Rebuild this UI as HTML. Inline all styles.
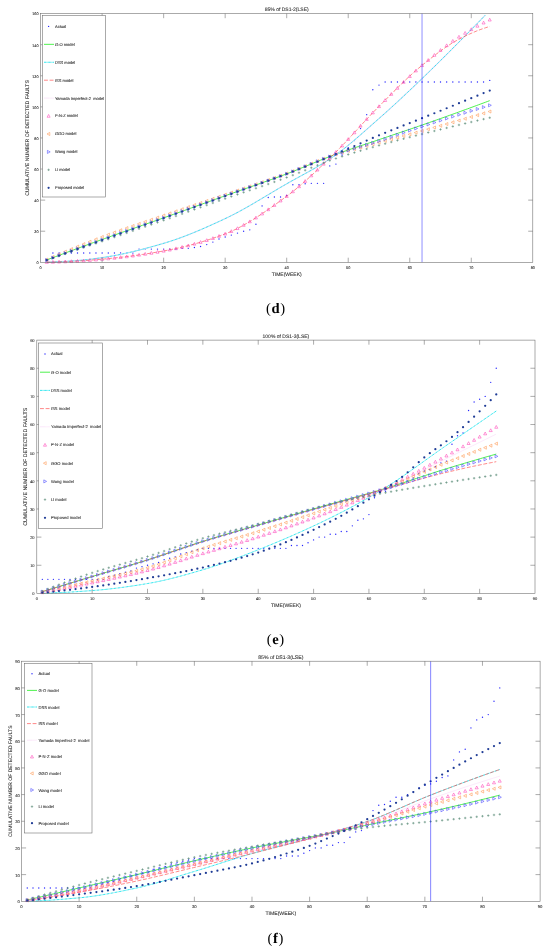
<!DOCTYPE html>
<html lang="en"><head><meta charset="utf-8"><title>Figure</title>
<style>html,body{margin:0;padding:0;background:#fff}svg{display:block;text-rendering:geometricPrecision}text{white-space:pre;font-family:"Liberation Sans",Arial,sans-serif;fill:#303030;stroke:#303030;stroke-width:.09px}text.cap{font-family:"Liberation Serif","Times New Roman",serif;fill:#000;stroke:none}</style></head>
<body>
<svg width="550" height="952" viewBox="0 0 550 952">
<rect width="550" height="952" fill="#fff"/>
<g><circle cx="52.91" cy="252.97" r="0.68" fill="#2626ff"/><circle cx="59.06" cy="252.97" r="0.68" fill="#2626ff"/><circle cx="65.21" cy="252.97" r="0.68" fill="#2626ff"/><circle cx="71.36" cy="252.97" r="0.68" fill="#2626ff"/><circle cx="77.52" cy="252.97" r="0.68" fill="#2626ff"/><circle cx="83.67" cy="252.97" r="0.68" fill="#2626ff"/><circle cx="89.82" cy="252.97" r="0.68" fill="#2626ff"/><circle cx="95.97" cy="252.97" r="0.68" fill="#2626ff"/><circle cx="102.12" cy="252.97" r="0.68" fill="#2626ff"/><circle cx="108.28" cy="252.97" r="0.68" fill="#2626ff"/><circle cx="114.43" cy="252.97" r="0.68" fill="#2626ff"/><circle cx="120.58" cy="252.97" r="0.68" fill="#2626ff"/><circle cx="126.73" cy="252.97" r="0.68" fill="#2626ff"/><circle cx="132.89" cy="252.97" r="0.68" fill="#2626ff"/><circle cx="139.04" cy="249.09" r="0.68" fill="#2626ff"/><circle cx="145.19" cy="249.09" r="0.68" fill="#2626ff"/><circle cx="151.34" cy="249.09" r="0.68" fill="#2626ff"/><circle cx="157.5" cy="249.09" r="0.68" fill="#2626ff"/><circle cx="163.65" cy="249.09" r="0.68" fill="#2626ff"/><circle cx="169.8" cy="249.09" r="0.68" fill="#2626ff"/><circle cx="175.95" cy="249.09" r="0.68" fill="#2626ff"/><circle cx="182.11" cy="248.31" r="0.68" fill="#2626ff"/><circle cx="188.26" cy="248.31" r="0.68" fill="#2626ff"/><circle cx="194.41" cy="247.53" r="0.68" fill="#2626ff"/><circle cx="200.56" cy="246.45" r="0.68" fill="#2626ff"/><circle cx="206.72" cy="244.58" r="0.68" fill="#2626ff"/><circle cx="212.87" cy="242.09" r="0.68" fill="#2626ff"/><circle cx="219.02" cy="238.98" r="0.68" fill="#2626ff"/><circle cx="225.17" cy="236.96" r="0.68" fill="#2626ff"/><circle cx="231.33" cy="235.1" r="0.68" fill="#2626ff"/><circle cx="237.48" cy="233.08" r="0.68" fill="#2626ff"/><circle cx="243.63" cy="231.21" r="0.68" fill="#2626ff"/><circle cx="249.78" cy="229.81" r="0.68" fill="#2626ff"/><circle cx="255.94" cy="224.22" r="0.68" fill="#2626ff"/><circle cx="262.09" cy="205.88" r="0.68" fill="#2626ff"/><circle cx="268.24" cy="197.48" r="0.68" fill="#2626ff"/><circle cx="274.39" cy="197.02" r="0.68" fill="#2626ff"/><circle cx="280.55" cy="197.02" r="0.68" fill="#2626ff"/><circle cx="286.7" cy="195.46" r="0.68" fill="#2626ff"/><circle cx="292.85" cy="184.74" r="0.68" fill="#2626ff"/><circle cx="299" cy="184.58" r="0.68" fill="#2626ff"/><circle cx="305.16" cy="183.8" r="0.68" fill="#2626ff"/><circle cx="311.31" cy="183.34" r="0.68" fill="#2626ff"/><circle cx="317.46" cy="183.34" r="0.68" fill="#2626ff"/><circle cx="323.62" cy="183.34" r="0.68" fill="#2626ff"/><circle cx="329.77" cy="165.93" r="0.68" fill="#2626ff"/><circle cx="335.92" cy="164.06" r="0.68" fill="#2626ff"/><circle cx="342.07" cy="155.05" r="0.68" fill="#2626ff"/><circle cx="348.22" cy="147.74" r="0.68" fill="#2626ff"/><circle cx="354.38" cy="140.59" r="0.68" fill="#2626ff"/><circle cx="360.53" cy="128.62" r="0.68" fill="#2626ff"/><circle cx="366.68" cy="114.63" r="0.68" fill="#2626ff"/><circle cx="372.83" cy="89.76" r="0.68" fill="#2626ff"/><circle cx="378.99" cy="85.1" r="0.68" fill="#2626ff"/><circle cx="385.14" cy="81.99" r="0.68" fill="#2626ff"/><circle cx="391.29" cy="81.99" r="0.68" fill="#2626ff"/><circle cx="397.44" cy="81.99" r="0.68" fill="#2626ff"/><circle cx="403.6" cy="81.99" r="0.68" fill="#2626ff"/><circle cx="409.75" cy="81.99" r="0.68" fill="#2626ff"/><circle cx="415.9" cy="81.99" r="0.68" fill="#2626ff"/><circle cx="422.05" cy="81.99" r="0.68" fill="#2626ff"/><circle cx="428.21" cy="81.99" r="0.68" fill="#2626ff"/><circle cx="434.36" cy="81.99" r="0.68" fill="#2626ff"/><circle cx="440.51" cy="81.99" r="0.68" fill="#2626ff"/><circle cx="446.66" cy="81.99" r="0.68" fill="#2626ff"/><circle cx="452.82" cy="81.99" r="0.68" fill="#2626ff"/><circle cx="458.97" cy="81.99" r="0.68" fill="#2626ff"/><circle cx="465.12" cy="81.99" r="0.68" fill="#2626ff"/><circle cx="471.27" cy="81.99" r="0.68" fill="#2626ff"/><circle cx="477.43" cy="81.99" r="0.68" fill="#2626ff"/><circle cx="483.58" cy="81.99" r="0.68" fill="#2626ff"/><circle cx="489.73" cy="80.44" r="0.68" fill="#2626ff"/></g>
<path d="M46.75 259.96 L48.98 259.11 L51.2 258.27 L53.43 257.43 L55.66 256.59 L57.88 255.75 L60.11 254.92 L62.33 254.08 L64.56 253.25 L66.79 252.42 L69.01 251.59 L71.24 250.76 L73.46 249.94 L75.69 249.11 L77.92 248.29 L80.14 247.47 L82.37 246.65 L84.6 245.83 L86.82 245.02 L89.05 244.2 L91.27 243.39 L93.5 242.58 L95.73 241.77 L97.95 240.96 L100.18 240.15 L102.4 239.35 L104.63 238.55 L106.86 237.75 L109.08 236.96 L111.31 236.17 L113.53 235.38 L115.76 234.59 L117.99 233.81 L120.21 233.02 L122.44 232.24 L124.66 231.47 L126.89 230.69 L129.12 229.91 L131.34 229.14 L133.57 228.36 L135.79 227.59 L138.02 226.82 L140.25 226.04 L142.47 225.27 L144.7 224.49 L146.92 223.72 L149.15 222.94 L151.38 222.17 L153.6 221.39 L155.83 220.61 L158.05 219.82 L160.28 219.04 L162.51 218.25 L164.73 217.46 L166.96 216.67 L169.18 215.88 L171.41 215.08 L173.64 214.29 L175.86 213.49 L178.09 212.69 L180.31 211.9 L182.54 211.1 L184.77 210.3 L186.99 209.5 L189.22 208.7 L191.44 207.9 L193.67 207.1 L195.9 206.29 L198.12 205.49 L200.35 204.69 L202.57 203.89 L204.8 203.09 L207.03 202.29 L209.25 201.49 L211.48 200.68 L213.7 199.88 L215.93 199.09 L218.16 198.29 L220.38 197.49 L222.61 196.69 L224.83 195.89 L227.06 195.1 L229.29 194.31 L231.51 193.52 L233.74 192.74 L235.97 191.95 L238.19 191.17 L240.42 190.39 L242.64 189.62 L244.87 188.84 L247.1 188.06 L249.32 187.28 L251.55 186.51 L253.77 185.73 L256 184.95 L258.23 184.17 L260.45 183.38 L262.68 182.6 L264.9 181.81 L267.13 181.02 L269.36 180.22 L271.58 179.42 L273.81 178.62 L276.03 177.81 L278.26 177 L280.49 176.18 L282.71 175.35 L284.94 174.52 L287.16 173.68 L289.39 172.83 L291.62 171.96 L293.84 171.08 L296.07 170.2 L298.29 169.3 L300.52 168.39 L302.75 167.48 L304.97 166.57 L307.2 165.65 L309.42 164.73 L311.65 163.81 L313.88 162.9 L316.1 161.99 L318.33 161.08 L320.55 160.18 L322.78 159.3 L325.01 158.42 L327.23 157.56 L329.46 156.71 L331.68 155.87 L333.91 155.05 L336.14 154.24 L338.36 153.45 L340.59 152.66 L342.81 151.87 L345.04 151.1 L347.27 150.33 L349.49 149.57 L351.72 148.81 L353.94 148.06 L356.17 147.31 L358.4 146.57 L360.62 145.82 L362.85 145.08 L365.07 144.34 L367.3 143.59 L369.53 142.85 L371.75 142.1 L373.98 141.36 L376.2 140.6 L378.43 139.85 L380.66 139.09 L382.88 138.34 L385.11 137.58 L387.34 136.83 L389.56 136.08 L391.79 135.33 L394.01 134.58 L396.24 133.84 L398.47 133.09 L400.69 132.34 L402.92 131.59 L405.14 130.84 L407.37 130.09 L409.6 129.33 L411.82 128.57 L414.05 127.81 L416.27 127.05 L418.5 126.28 L420.73 125.51 L422.95 124.74 L425.18 123.96 L427.4 123.18 L429.63 122.4 L431.86 121.61 L434.08 120.83 L436.31 120.04 L438.53 119.26 L440.76 118.47 L442.99 117.68 L445.21 116.88 L447.44 116.09 L449.66 115.29 L451.89 114.5 L454.12 113.7 L456.34 112.9 L458.57 112.09 L460.79 111.29 L463.02 110.48 L465.25 109.67 L467.47 108.86 L469.7 108.05 L471.92 107.23 L474.15 106.42 L476.38 105.6 L478.6 104.78 L480.83 103.96 L483.05 103.13 L485.28 102.3 L487.51 101.48 L489.73 100.64" fill="none" stroke="#22ee22" stroke-width="0.8"/>
<path d="M46.75 262.21 L48.98 262.15 L51.2 262.08 L53.43 261.99 L55.66 261.9 L57.88 261.8 L60.11 261.69 L62.33 261.57 L64.56 261.45 L66.79 261.32 L69.01 261.2 L71.24 261.06 L73.46 260.92 L75.69 260.76 L77.92 260.58 L80.14 260.37 L82.37 260.15 L84.6 259.92 L86.82 259.67 L89.05 259.4 L91.27 259.12 L93.5 258.84 L95.73 258.54 L97.95 258.23 L100.18 257.92 L102.4 257.6 L104.63 257.26 L106.86 256.91 L109.08 256.54 L111.31 256.16 L113.53 255.76 L115.76 255.34 L117.99 254.91 L120.21 254.46 L122.44 253.99 L124.66 253.52 L126.89 253.03 L129.12 252.52 L131.34 252 L133.57 251.48 L135.79 250.93 L138.02 250.38 L140.25 249.82 L142.47 249.24 L144.7 248.66 L146.92 248.06 L149.15 247.46 L151.38 246.85 L153.6 246.23 L155.83 245.6 L158.05 244.96 L160.28 244.32 L162.51 243.67 L164.73 243.02 L166.96 242.34 L169.18 241.64 L171.41 240.91 L173.64 240.17 L175.86 239.4 L178.09 238.62 L180.31 237.82 L182.54 237 L184.77 236.16 L186.99 235.3 L189.22 234.43 L191.44 233.54 L193.67 232.63 L195.9 231.71 L198.12 230.78 L200.35 229.84 L202.57 228.88 L204.8 227.91 L207.03 226.93 L209.25 225.94 L211.48 224.94 L213.7 223.93 L215.93 222.92 L218.16 221.89 L220.38 220.86 L222.61 219.82 L224.83 218.78 L227.06 217.73 L229.29 216.64 L231.51 215.53 L233.74 214.39 L235.97 213.23 L238.19 212.05 L240.42 210.85 L242.64 209.62 L244.87 208.38 L247.1 207.13 L249.32 205.86 L251.55 204.57 L253.77 203.28 L256 201.97 L258.23 200.66 L260.45 199.34 L262.68 198.01 L264.9 196.69 L267.13 195.36 L269.36 194.02 L271.58 192.69 L273.81 191.37 L276.03 190.04 L278.26 188.72 L280.49 187.41 L282.71 186.11 L284.94 184.82 L287.16 183.54 L289.39 182.27 L291.62 181.03 L293.84 179.79 L296.07 178.57 L298.29 177.35 L300.52 176.13 L302.75 174.91 L304.97 173.69 L307.2 172.47 L309.42 171.24 L311.65 169.99 L313.88 168.73 L316.1 167.45 L318.33 166.16 L320.55 164.83 L322.78 163.48 L325.01 162.1 L327.23 160.69 L329.46 159.24 L331.68 157.75 L333.91 156.22 L336.14 154.63 L338.36 153 L340.59 151.32 L342.81 149.61 L345.04 147.85 L347.27 146.06 L349.49 144.24 L351.72 142.38 L353.94 140.5 L356.17 138.6 L358.4 136.68 L360.62 134.74 L362.85 132.79 L365.07 130.83 L367.3 128.86 L369.53 126.89 L371.75 124.91 L373.98 122.94 L376.2 120.97 L378.43 119.01 L380.66 117.05 L382.88 115.08 L385.11 113.09 L387.34 111.09 L389.56 109.08 L391.79 107.05 L394.01 105.02 L396.24 102.97 L398.47 100.91 L400.69 98.84 L402.92 96.76 L405.14 94.67 L407.37 92.57 L409.6 90.47 L411.82 88.35 L414.05 86.24 L416.27 84.11 L418.5 81.98 L420.73 79.85 L422.95 77.71 L425.18 75.56 L427.4 73.41 L429.63 71.24 L431.86 69.07 L434.08 66.89 L436.31 64.7 L438.53 62.51 L440.76 60.31 L442.99 58.1 L445.21 55.88 L447.44 53.66 L449.66 51.43 L451.89 49.2 L454.12 46.96 L456.34 44.71 L458.57 42.47 L460.79 40.21 L463.02 37.95 L465.25 35.69 L467.47 33.43 L469.7 31.16 L471.92 28.89 L474.15 26.61 L476.38 24.34 L478.6 22.06 L480.83 19.77 L483.05 17.47 L485.28 15.15" fill="none" stroke="#fce4fa" stroke-width="1.5"/>
<path d="M46.75 262.21 L48.98 262.15 L51.2 262.08 L53.43 261.99 L55.66 261.9 L57.88 261.8 L60.11 261.69 L62.33 261.57 L64.56 261.45 L66.79 261.32 L69.01 261.2 L71.24 261.06 L73.46 260.92 L75.69 260.76 L77.92 260.58 L80.14 260.37 L82.37 260.15 L84.6 259.92 L86.82 259.67 L89.05 259.4 L91.27 259.12 L93.5 258.84 L95.73 258.54 L97.95 258.23 L100.18 257.92 L102.4 257.6 L104.63 257.26 L106.86 256.91 L109.08 256.54 L111.31 256.16 L113.53 255.76 L115.76 255.34 L117.99 254.91 L120.21 254.46 L122.44 253.99 L124.66 253.52 L126.89 253.03 L129.12 252.52 L131.34 252 L133.57 251.48 L135.79 250.93 L138.02 250.38 L140.25 249.82 L142.47 249.24 L144.7 248.66 L146.92 248.06 L149.15 247.46 L151.38 246.85 L153.6 246.23 L155.83 245.6 L158.05 244.96 L160.28 244.32 L162.51 243.67 L164.73 243.02 L166.96 242.34 L169.18 241.64 L171.41 240.91 L173.64 240.17 L175.86 239.4 L178.09 238.62 L180.31 237.82 L182.54 237 L184.77 236.16 L186.99 235.3 L189.22 234.43 L191.44 233.54 L193.67 232.63 L195.9 231.71 L198.12 230.78 L200.35 229.84 L202.57 228.88 L204.8 227.91 L207.03 226.93 L209.25 225.94 L211.48 224.94 L213.7 223.93 L215.93 222.92 L218.16 221.89 L220.38 220.86 L222.61 219.82 L224.83 218.78 L227.06 217.73 L229.29 216.64 L231.51 215.53 L233.74 214.39 L235.97 213.23 L238.19 212.05 L240.42 210.85 L242.64 209.62 L244.87 208.38 L247.1 207.13 L249.32 205.86 L251.55 204.57 L253.77 203.28 L256 201.97 L258.23 200.66 L260.45 199.34 L262.68 198.01 L264.9 196.69 L267.13 195.36 L269.36 194.02 L271.58 192.69 L273.81 191.37 L276.03 190.04 L278.26 188.72 L280.49 187.41 L282.71 186.11 L284.94 184.82 L287.16 183.54 L289.39 182.27 L291.62 181.03 L293.84 179.79 L296.07 178.57 L298.29 177.35 L300.52 176.13 L302.75 174.91 L304.97 173.69 L307.2 172.47 L309.42 171.24 L311.65 169.99 L313.88 168.73 L316.1 167.45 L318.33 166.16 L320.55 164.83 L322.78 163.48 L325.01 162.1 L327.23 160.69 L329.46 159.24 L331.68 157.75 L333.91 156.22 L336.14 154.63 L338.36 153 L340.59 151.32 L342.81 149.61 L345.04 147.85 L347.27 146.06 L349.49 144.24 L351.72 142.38 L353.94 140.5 L356.17 138.6 L358.4 136.68 L360.62 134.74 L362.85 132.79 L365.07 130.83 L367.3 128.86 L369.53 126.89 L371.75 124.91 L373.98 122.94 L376.2 120.97 L378.43 119.01 L380.66 117.05 L382.88 115.08 L385.11 113.09 L387.34 111.09 L389.56 109.08 L391.79 107.05 L394.01 105.02 L396.24 102.97 L398.47 100.91 L400.69 98.84 L402.92 96.76 L405.14 94.67 L407.37 92.57 L409.6 90.47 L411.82 88.35 L414.05 86.24 L416.27 84.11 L418.5 81.98 L420.73 79.85 L422.95 77.71 L425.18 75.56 L427.4 73.41 L429.63 71.24 L431.86 69.07 L434.08 66.89 L436.31 64.7 L438.53 62.51 L440.76 60.31 L442.99 58.1 L445.21 55.88 L447.44 53.66 L449.66 51.43 L451.89 49.2 L454.12 46.96 L456.34 44.71 L458.57 42.47 L460.79 40.21 L463.02 37.95 L465.25 35.69 L467.47 33.43 L469.7 31.16 L471.92 28.89 L474.15 26.61 L476.38 24.34 L478.6 22.06 L480.83 19.77 L483.05 17.47 L485.28 15.15" fill="none" stroke="#2ae6ee" stroke-width="0.95" stroke-dasharray="2.6 0.5 0.6 0.5"/>
<path d="M46.75 262.2 L48.98 262.16 L51.2 262.1 L53.43 262.04 L55.66 261.97 L57.88 261.89 L60.11 261.82 L62.33 261.73 L64.56 261.65 L66.79 261.56 L69.01 261.47 L71.24 261.37 L73.46 261.27 L75.69 261.16 L77.92 261.04 L80.14 260.91 L82.37 260.76 L84.6 260.61 L86.82 260.45 L89.05 260.29 L91.27 260.11 L93.5 259.93 L95.73 259.75 L97.95 259.56 L100.18 259.36 L102.4 259.17 L104.63 258.96 L106.86 258.75 L109.08 258.54 L111.31 258.31 L113.53 258.08 L115.76 257.84 L117.99 257.6 L120.21 257.35 L122.44 257.09 L124.66 256.82 L126.89 256.55 L129.12 256.27 L131.34 255.98 L133.57 255.68 L135.79 255.38 L138.02 255.07 L140.25 254.75 L142.47 254.43 L144.7 254.1 L146.92 253.75 L149.15 253.41 L151.38 253.05 L153.6 252.69 L155.83 252.32 L158.05 251.94 L160.28 251.55 L162.51 251.16 L164.73 250.76 L166.96 250.34 L169.18 249.91 L171.41 249.46 L173.64 249 L175.86 248.52 L178.09 248.03 L180.31 247.53 L182.54 247 L184.77 246.47 L186.99 245.91 L189.22 245.34 L191.44 244.76 L193.67 244.16 L195.9 243.54 L198.12 242.91 L200.35 242.26 L202.57 241.59 L204.8 240.91 L207.03 240.21 L209.25 239.49 L211.48 238.75 L213.7 238 L215.93 237.23 L218.16 236.45 L220.38 235.64 L222.61 234.82 L224.83 233.98 L227.06 233.11 L229.29 232.19 L231.51 231.22 L233.74 230.2 L235.97 229.13 L238.19 228.01 L240.42 226.86 L242.64 225.66 L244.87 224.42 L247.1 223.14 L249.32 221.83 L251.55 220.48 L253.77 219.11 L256 217.7 L258.23 216.26 L260.45 214.8 L262.68 213.31 L264.9 211.8 L267.13 210.28 L269.36 208.73 L271.58 207.16 L273.81 205.58 L276.03 203.99 L278.26 202.39 L280.49 200.77 L282.71 199.15 L284.94 197.53 L287.16 195.9 L289.39 194.23 L291.62 192.52 L293.84 190.75 L296.07 188.95 L298.29 187.1 L300.52 185.21 L302.75 183.28 L304.97 181.32 L307.2 179.34 L309.42 177.32 L311.65 175.28 L313.88 173.21 L316.1 171.13 L318.33 169.02 L320.55 166.91 L322.78 164.78 L325.01 162.64 L327.23 160.49 L329.46 158.34 L331.68 156.2 L333.91 154.03 L336.14 151.83 L338.36 149.58 L340.59 147.29 L342.81 144.98 L345.04 142.63 L347.27 140.26 L349.49 137.87 L351.72 135.46 L353.94 133.05 L356.17 130.62 L358.4 128.2 L360.62 125.77 L362.85 123.35 L365.07 120.95 L367.3 118.55 L369.53 116.18 L371.75 113.83 L373.98 111.5 L376.2 109.21 L378.43 106.95 L380.66 104.72 L382.88 102.49 L385.11 100.24 L387.34 98 L389.56 95.76 L391.79 93.52 L394.01 91.29 L396.24 89.07 L398.47 86.87 L400.69 84.68 L402.92 82.52 L405.14 80.39 L407.37 78.28 L409.6 76.21 L411.82 74.17 L414.05 72.17 L416.27 70.21 L418.5 68.3 L420.73 66.45 L422.95 64.64 L425.18 62.84 L427.4 61.05 L429.63 59.28 L431.86 57.53 L434.08 55.8 L436.31 54.09 L438.53 52.42 L440.76 50.78 L442.99 49.19 L445.21 47.63 L447.44 46.12 L449.66 44.67 L451.89 43.27 L454.12 41.93 L456.34 40.66 L458.57 39.46 L460.79 38.31 L463.02 37.19 L465.25 36.1 L467.47 35.03 L469.7 34 L471.92 33.01 L474.15 32.05 L476.38 31.12 L478.6 30.24 L480.83 29.4 L483.05 28.6 L485.28 27.85 L487.51 27.15 L489.73 26.5" fill="none" stroke="#ff5555" stroke-width="0.7" stroke-dasharray="3.9 1.7"/>
<g><polygon points="46.75,260.6 45.23,263.4 48.27,263.4" fill="none" stroke="#ff30b0" stroke-width="0.5" stroke-linejoin="miter"/><polygon points="52.91,260.45 51.38,263.25 54.43,263.25" fill="none" stroke="#ff30b0" stroke-width="0.5" stroke-linejoin="miter"/><polygon points="59.06,260.25 57.54,263.05 60.58,263.05" fill="none" stroke="#ff30b0" stroke-width="0.5" stroke-linejoin="miter"/><polygon points="65.21,260.02 63.69,262.82 66.73,262.82" fill="none" stroke="#ff30b0" stroke-width="0.5" stroke-linejoin="miter"/><polygon points="71.36,259.77 69.84,262.57 72.88,262.57" fill="none" stroke="#ff30b0" stroke-width="0.5" stroke-linejoin="miter"/><polygon points="77.52,259.46 76,262.26 79.03,262.26" fill="none" stroke="#ff30b0" stroke-width="0.5" stroke-linejoin="miter"/><polygon points="83.67,259.08 82.15,261.88 85.19,261.88" fill="none" stroke="#ff30b0" stroke-width="0.5" stroke-linejoin="miter"/><polygon points="89.82,258.63 88.3,261.43 91.34,261.43" fill="none" stroke="#ff30b0" stroke-width="0.5" stroke-linejoin="miter"/><polygon points="95.97,258.13 94.45,260.93 97.49,260.93" fill="none" stroke="#ff30b0" stroke-width="0.5" stroke-linejoin="miter"/><polygon points="102.12,257.59 100.61,260.39 103.64,260.39" fill="none" stroke="#ff30b0" stroke-width="0.5" stroke-linejoin="miter"/><polygon points="108.28,257.01 106.76,259.81 109.8,259.81" fill="none" stroke="#ff30b0" stroke-width="0.5" stroke-linejoin="miter"/><polygon points="114.43,256.39 112.91,259.19 115.95,259.19" fill="none" stroke="#ff30b0" stroke-width="0.5" stroke-linejoin="miter"/><polygon points="120.58,255.7 119.06,258.5 122.1,258.5" fill="none" stroke="#ff30b0" stroke-width="0.5" stroke-linejoin="miter"/><polygon points="126.73,254.97 125.21,257.77 128.25,257.77" fill="none" stroke="#ff30b0" stroke-width="0.5" stroke-linejoin="miter"/><polygon points="132.89,254.17 131.37,256.97 134.41,256.97" fill="none" stroke="#ff30b0" stroke-width="0.5" stroke-linejoin="miter"/><polygon points="139.04,253.33 137.52,256.13 140.56,256.13" fill="none" stroke="#ff30b0" stroke-width="0.5" stroke-linejoin="miter"/><polygon points="145.19,252.42 143.67,255.22 146.71,255.22" fill="none" stroke="#ff30b0" stroke-width="0.5" stroke-linejoin="miter"/><polygon points="151.34,251.46 149.82,254.26 152.86,254.26" fill="none" stroke="#ff30b0" stroke-width="0.5" stroke-linejoin="miter"/><polygon points="157.5,250.43 155.98,253.23 159.02,253.23" fill="none" stroke="#ff30b0" stroke-width="0.5" stroke-linejoin="miter"/><polygon points="163.65,249.35 162.13,252.15 165.17,252.15" fill="none" stroke="#ff30b0" stroke-width="0.5" stroke-linejoin="miter"/><polygon points="169.8,248.19 168.28,250.99 171.32,250.99" fill="none" stroke="#ff30b0" stroke-width="0.5" stroke-linejoin="miter"/><polygon points="175.95,246.9 174.43,249.7 177.47,249.7" fill="none" stroke="#ff30b0" stroke-width="0.5" stroke-linejoin="miter"/><polygon points="182.11,245.51 180.59,248.31 183.63,248.31" fill="none" stroke="#ff30b0" stroke-width="0.5" stroke-linejoin="miter"/><polygon points="188.26,243.99 186.74,246.79 189.78,246.79" fill="none" stroke="#ff30b0" stroke-width="0.5" stroke-linejoin="miter"/><polygon points="194.41,242.35 192.89,245.15 195.93,245.15" fill="none" stroke="#ff30b0" stroke-width="0.5" stroke-linejoin="miter"/><polygon points="200.56,240.59 199.04,243.39 202.08,243.39" fill="none" stroke="#ff30b0" stroke-width="0.5" stroke-linejoin="miter"/><polygon points="206.72,238.7 205.2,241.5 208.24,241.5" fill="none" stroke="#ff30b0" stroke-width="0.5" stroke-linejoin="miter"/><polygon points="212.87,236.69 211.35,239.49 214.39,239.49" fill="none" stroke="#ff30b0" stroke-width="0.5" stroke-linejoin="miter"/><polygon points="219.02,234.54 217.5,237.34 220.54,237.34" fill="none" stroke="#ff30b0" stroke-width="0.5" stroke-linejoin="miter"/><polygon points="225.17,232.25 223.65,235.05 226.69,235.05" fill="none" stroke="#ff30b0" stroke-width="0.5" stroke-linejoin="miter"/><polygon points="231.33,229.7 229.81,232.5 232.85,232.5" fill="none" stroke="#ff30b0" stroke-width="0.5" stroke-linejoin="miter"/><polygon points="237.48,226.77 235.96,229.57 239,229.57" fill="none" stroke="#ff30b0" stroke-width="0.5" stroke-linejoin="miter"/><polygon points="243.63,223.51 242.11,226.31 245.15,226.31" fill="none" stroke="#ff30b0" stroke-width="0.5" stroke-linejoin="miter"/><polygon points="249.78,219.95 248.26,222.75 251.31,222.75" fill="none" stroke="#ff30b0" stroke-width="0.5" stroke-linejoin="miter"/><polygon points="255.94,216.14 254.42,218.94 257.46,218.94" fill="none" stroke="#ff30b0" stroke-width="0.5" stroke-linejoin="miter"/><polygon points="262.09,212.11 260.57,214.91 263.61,214.91" fill="none" stroke="#ff30b0" stroke-width="0.5" stroke-linejoin="miter"/><polygon points="268.24,207.9 266.72,210.7 269.76,210.7" fill="none" stroke="#ff30b0" stroke-width="0.5" stroke-linejoin="miter"/><polygon points="274.39,203.56 272.88,206.36 275.91,206.36" fill="none" stroke="#ff30b0" stroke-width="0.5" stroke-linejoin="miter"/><polygon points="280.55,199.13 279.03,201.93 282.07,201.93" fill="none" stroke="#ff30b0" stroke-width="0.5" stroke-linejoin="miter"/><polygon points="286.7,194.64 285.18,197.44 288.22,197.44" fill="none" stroke="#ff30b0" stroke-width="0.5" stroke-linejoin="miter"/><polygon points="292.85,189.94 291.33,192.74 294.37,192.74" fill="none" stroke="#ff30b0" stroke-width="0.5" stroke-linejoin="miter"/><polygon points="299,184.9 297.49,187.7 300.52,187.7" fill="none" stroke="#ff30b0" stroke-width="0.5" stroke-linejoin="miter"/><polygon points="305.16,179.56 303.64,182.36 306.68,182.36" fill="none" stroke="#ff30b0" stroke-width="0.5" stroke-linejoin="miter"/><polygon points="311.31,173.99 309.79,176.79 312.83,176.79" fill="none" stroke="#ff30b0" stroke-width="0.5" stroke-linejoin="miter"/><polygon points="317.46,168.24 315.94,171.04 318.98,171.04" fill="none" stroke="#ff30b0" stroke-width="0.5" stroke-linejoin="miter"/><polygon points="323.62,162.38 322.1,165.18 325.13,165.18" fill="none" stroke="#ff30b0" stroke-width="0.5" stroke-linejoin="miter"/><polygon points="329.77,156.45 328.25,159.25 331.29,159.25" fill="none" stroke="#ff30b0" stroke-width="0.5" stroke-linejoin="miter"/><polygon points="335.92,150.44 334.4,153.24 337.44,153.24" fill="none" stroke="#ff30b0" stroke-width="0.5" stroke-linejoin="miter"/><polygon points="342.07,144.15 340.55,146.95 343.59,146.95" fill="none" stroke="#ff30b0" stroke-width="0.5" stroke-linejoin="miter"/><polygon points="348.22,137.63 346.7,140.43 349.74,140.43" fill="none" stroke="#ff30b0" stroke-width="0.5" stroke-linejoin="miter"/><polygon points="354.38,130.98 352.86,133.78 355.9,133.78" fill="none" stroke="#ff30b0" stroke-width="0.5" stroke-linejoin="miter"/><polygon points="360.53,124.27 359.01,127.07 362.05,127.07" fill="none" stroke="#ff30b0" stroke-width="0.5" stroke-linejoin="miter"/><polygon points="366.68,117.62 365.16,120.42 368.2,120.42" fill="none" stroke="#ff30b0" stroke-width="0.5" stroke-linejoin="miter"/><polygon points="372.83,111.09 371.31,113.89 374.35,113.89" fill="none" stroke="#ff30b0" stroke-width="0.5" stroke-linejoin="miter"/><polygon points="378.99,104.8 377.47,107.6 380.51,107.6" fill="none" stroke="#ff30b0" stroke-width="0.5" stroke-linejoin="miter"/><polygon points="385.14,98.64 383.62,101.44 386.66,101.44" fill="none" stroke="#ff30b0" stroke-width="0.5" stroke-linejoin="miter"/><polygon points="391.29,92.52 389.77,95.32 392.81,95.32" fill="none" stroke="#ff30b0" stroke-width="0.5" stroke-linejoin="miter"/><polygon points="397.44,86.46 395.92,89.26 398.96,89.26" fill="none" stroke="#ff30b0" stroke-width="0.5" stroke-linejoin="miter"/><polygon points="403.6,80.51 402.08,83.31 405.12,83.31" fill="none" stroke="#ff30b0" stroke-width="0.5" stroke-linejoin="miter"/><polygon points="409.75,74.72 408.23,77.52 411.27,77.52" fill="none" stroke="#ff30b0" stroke-width="0.5" stroke-linejoin="miter"/><polygon points="415.9,69.12 414.38,71.92 417.42,71.92" fill="none" stroke="#ff30b0" stroke-width="0.5" stroke-linejoin="miter"/><polygon points="422.05,63.76 420.53,66.56 423.57,66.56" fill="none" stroke="#ff30b0" stroke-width="0.5" stroke-linejoin="miter"/><polygon points="428.21,58.57 426.69,61.37 429.73,61.37" fill="none" stroke="#ff30b0" stroke-width="0.5" stroke-linejoin="miter"/><polygon points="434.36,53.5 432.84,56.3 435.88,56.3" fill="none" stroke="#ff30b0" stroke-width="0.5" stroke-linejoin="miter"/><polygon points="440.51,48.58 438.99,51.38 442.03,51.38" fill="none" stroke="#ff30b0" stroke-width="0.5" stroke-linejoin="miter"/><polygon points="446.66,43.88 445.14,46.68 448.18,46.68" fill="none" stroke="#ff30b0" stroke-width="0.5" stroke-linejoin="miter"/><polygon points="452.82,39.44 451.3,42.24 454.34,42.24" fill="none" stroke="#ff30b0" stroke-width="0.5" stroke-linejoin="miter"/><polygon points="458.97,35.32 457.45,38.12 460.49,38.12" fill="none" stroke="#ff30b0" stroke-width="0.5" stroke-linejoin="miter"/><polygon points="465.12,31.46 463.6,34.26 466.64,34.26" fill="none" stroke="#ff30b0" stroke-width="0.5" stroke-linejoin="miter"/><polygon points="471.27,27.8 469.75,30.6 472.79,30.6" fill="none" stroke="#ff30b0" stroke-width="0.5" stroke-linejoin="miter"/><polygon points="477.43,24.37 475.91,27.17 478.95,27.17" fill="none" stroke="#ff30b0" stroke-width="0.5" stroke-linejoin="miter"/><polygon points="483.58,21.17 482.06,23.97 485.1,23.97" fill="none" stroke="#ff30b0" stroke-width="0.5" stroke-linejoin="miter"/><polygon points="489.73,18.22 488.21,21.02 491.25,21.02" fill="none" stroke="#ff30b0" stroke-width="0.5" stroke-linejoin="miter"/></g>
<g><polygon points="45.15,259.59 47.95,258.07 47.95,261.11" fill="none" stroke="#ff8a3c" stroke-width="0.5" stroke-linejoin="miter"/><polygon points="51.3,256.92 54.11,255.4 54.11,258.44" fill="none" stroke="#ff8a3c" stroke-width="0.5" stroke-linejoin="miter"/><polygon points="57.46,254.28 60.26,252.76 60.26,255.8" fill="none" stroke="#ff8a3c" stroke-width="0.5" stroke-linejoin="miter"/><polygon points="63.61,251.68 66.41,250.16 66.41,253.2" fill="none" stroke="#ff8a3c" stroke-width="0.5" stroke-linejoin="miter"/><polygon points="69.76,249.13 72.56,247.61 72.56,250.65" fill="none" stroke="#ff8a3c" stroke-width="0.5" stroke-linejoin="miter"/><polygon points="75.92,246.61 78.72,245.09 78.72,248.13" fill="none" stroke="#ff8a3c" stroke-width="0.5" stroke-linejoin="miter"/><polygon points="82.07,244.13 84.87,242.61 84.87,245.65" fill="none" stroke="#ff8a3c" stroke-width="0.5" stroke-linejoin="miter"/><polygon points="88.22,241.7 91.02,240.18 91.02,243.22" fill="none" stroke="#ff8a3c" stroke-width="0.5" stroke-linejoin="miter"/><polygon points="94.37,239.31 97.17,237.79 97.17,240.83" fill="none" stroke="#ff8a3c" stroke-width="0.5" stroke-linejoin="miter"/><polygon points="100.53,236.96 103.33,235.44 103.33,238.48" fill="none" stroke="#ff8a3c" stroke-width="0.5" stroke-linejoin="miter"/><polygon points="106.68,234.67 109.48,233.15 109.48,236.19" fill="none" stroke="#ff8a3c" stroke-width="0.5" stroke-linejoin="miter"/><polygon points="112.83,232.44 115.63,230.92 115.63,233.96" fill="none" stroke="#ff8a3c" stroke-width="0.5" stroke-linejoin="miter"/><polygon points="118.98,230.25 121.78,228.73 121.78,231.77" fill="none" stroke="#ff8a3c" stroke-width="0.5" stroke-linejoin="miter"/><polygon points="125.13,228.1 127.93,226.58 127.93,229.62" fill="none" stroke="#ff8a3c" stroke-width="0.5" stroke-linejoin="miter"/><polygon points="131.29,225.98 134.09,224.46 134.09,227.5" fill="none" stroke="#ff8a3c" stroke-width="0.5" stroke-linejoin="miter"/><polygon points="137.44,223.88 140.24,222.36 140.24,225.4" fill="none" stroke="#ff8a3c" stroke-width="0.5" stroke-linejoin="miter"/><polygon points="143.59,221.79 146.39,220.27 146.39,223.31" fill="none" stroke="#ff8a3c" stroke-width="0.5" stroke-linejoin="miter"/><polygon points="149.74,219.71 152.54,218.19 152.54,221.23" fill="none" stroke="#ff8a3c" stroke-width="0.5" stroke-linejoin="miter"/><polygon points="155.9,217.62 158.7,216.1 158.7,219.14" fill="none" stroke="#ff8a3c" stroke-width="0.5" stroke-linejoin="miter"/><polygon points="162.05,215.51 164.85,213.99 164.85,217.03" fill="none" stroke="#ff8a3c" stroke-width="0.5" stroke-linejoin="miter"/><polygon points="168.2,213.41 171,211.89 171,214.93" fill="none" stroke="#ff8a3c" stroke-width="0.5" stroke-linejoin="miter"/><polygon points="174.35,211.31 177.15,209.79 177.15,212.83" fill="none" stroke="#ff8a3c" stroke-width="0.5" stroke-linejoin="miter"/><polygon points="180.51,209.23 183.31,207.71 183.31,210.75" fill="none" stroke="#ff8a3c" stroke-width="0.5" stroke-linejoin="miter"/><polygon points="186.66,207.15 189.46,205.63 189.46,208.67" fill="none" stroke="#ff8a3c" stroke-width="0.5" stroke-linejoin="miter"/><polygon points="192.81,205.08 195.61,203.56 195.61,206.6" fill="none" stroke="#ff8a3c" stroke-width="0.5" stroke-linejoin="miter"/><polygon points="198.96,203.01 201.76,201.49 201.76,204.53" fill="none" stroke="#ff8a3c" stroke-width="0.5" stroke-linejoin="miter"/><polygon points="205.12,200.94 207.92,199.42 207.92,202.46" fill="none" stroke="#ff8a3c" stroke-width="0.5" stroke-linejoin="miter"/><polygon points="211.27,198.86 214.07,197.34 214.07,200.38" fill="none" stroke="#ff8a3c" stroke-width="0.5" stroke-linejoin="miter"/><polygon points="217.42,196.78 220.22,195.26 220.22,198.3" fill="none" stroke="#ff8a3c" stroke-width="0.5" stroke-linejoin="miter"/><polygon points="223.57,194.68 226.37,193.16 226.37,196.2" fill="none" stroke="#ff8a3c" stroke-width="0.5" stroke-linejoin="miter"/><polygon points="229.73,192.6 232.53,191.08 232.53,194.12" fill="none" stroke="#ff8a3c" stroke-width="0.5" stroke-linejoin="miter"/><polygon points="235.88,190.52 238.68,189 238.68,192.04" fill="none" stroke="#ff8a3c" stroke-width="0.5" stroke-linejoin="miter"/><polygon points="242.03,188.46 244.83,186.94 244.83,189.98" fill="none" stroke="#ff8a3c" stroke-width="0.5" stroke-linejoin="miter"/><polygon points="248.19,186.39 250.98,184.87 250.98,187.91" fill="none" stroke="#ff8a3c" stroke-width="0.5" stroke-linejoin="miter"/><polygon points="254.34,184.32 257.14,182.8 257.14,185.84" fill="none" stroke="#ff8a3c" stroke-width="0.5" stroke-linejoin="miter"/><polygon points="260.49,182.23 263.29,180.71 263.29,183.75" fill="none" stroke="#ff8a3c" stroke-width="0.5" stroke-linejoin="miter"/><polygon points="266.64,180.11 269.44,178.59 269.44,181.63" fill="none" stroke="#ff8a3c" stroke-width="0.5" stroke-linejoin="miter"/><polygon points="272.79,177.97 275.59,176.45 275.59,179.49" fill="none" stroke="#ff8a3c" stroke-width="0.5" stroke-linejoin="miter"/><polygon points="278.95,175.78 281.75,174.26 281.75,177.3" fill="none" stroke="#ff8a3c" stroke-width="0.5" stroke-linejoin="miter"/><polygon points="285.1,173.55 287.9,172.03 287.9,175.07" fill="none" stroke="#ff8a3c" stroke-width="0.5" stroke-linejoin="miter"/><polygon points="291.25,171.2 294.05,169.68 294.05,172.72" fill="none" stroke="#ff8a3c" stroke-width="0.5" stroke-linejoin="miter"/><polygon points="297.4,168.72 300.2,167.2 300.2,170.24" fill="none" stroke="#ff8a3c" stroke-width="0.5" stroke-linejoin="miter"/><polygon points="303.56,166.17 306.36,164.65 306.36,167.69" fill="none" stroke="#ff8a3c" stroke-width="0.5" stroke-linejoin="miter"/><polygon points="309.71,163.61 312.51,162.09 312.51,165.13" fill="none" stroke="#ff8a3c" stroke-width="0.5" stroke-linejoin="miter"/><polygon points="315.86,161.1 318.66,159.58 318.66,162.62" fill="none" stroke="#ff8a3c" stroke-width="0.5" stroke-linejoin="miter"/><polygon points="322.01,158.71 324.81,157.19 324.81,160.23" fill="none" stroke="#ff8a3c" stroke-width="0.5" stroke-linejoin="miter"/><polygon points="328.17,156.49 330.97,154.97 330.97,158.01" fill="none" stroke="#ff8a3c" stroke-width="0.5" stroke-linejoin="miter"/><polygon points="334.32,154.49 337.12,152.97 337.12,156.01" fill="none" stroke="#ff8a3c" stroke-width="0.5" stroke-linejoin="miter"/><polygon points="340.47,152.62 343.27,151.1 343.27,154.14" fill="none" stroke="#ff8a3c" stroke-width="0.5" stroke-linejoin="miter"/><polygon points="346.62,150.86 349.42,149.34 349.42,152.38" fill="none" stroke="#ff8a3c" stroke-width="0.5" stroke-linejoin="miter"/><polygon points="352.78,149.17 355.58,147.65 355.58,150.69" fill="none" stroke="#ff8a3c" stroke-width="0.5" stroke-linejoin="miter"/><polygon points="358.93,147.53 361.73,146.01 361.73,149.05" fill="none" stroke="#ff8a3c" stroke-width="0.5" stroke-linejoin="miter"/><polygon points="365.08,145.91 367.88,144.39 367.88,147.43" fill="none" stroke="#ff8a3c" stroke-width="0.5" stroke-linejoin="miter"/><polygon points="371.23,144.28 374.03,142.76 374.03,145.8" fill="none" stroke="#ff8a3c" stroke-width="0.5" stroke-linejoin="miter"/><polygon points="377.39,142.61 380.19,141.09 380.19,144.13" fill="none" stroke="#ff8a3c" stroke-width="0.5" stroke-linejoin="miter"/><polygon points="383.54,140.93 386.34,139.41 386.34,142.45" fill="none" stroke="#ff8a3c" stroke-width="0.5" stroke-linejoin="miter"/><polygon points="389.69,139.27 392.49,137.75 392.49,140.79" fill="none" stroke="#ff8a3c" stroke-width="0.5" stroke-linejoin="miter"/><polygon points="395.84,137.63 398.64,136.11 398.64,139.15" fill="none" stroke="#ff8a3c" stroke-width="0.5" stroke-linejoin="miter"/><polygon points="402,135.98 404.8,134.46 404.8,137.5" fill="none" stroke="#ff8a3c" stroke-width="0.5" stroke-linejoin="miter"/><polygon points="408.15,134.32 410.95,132.8 410.95,135.84" fill="none" stroke="#ff8a3c" stroke-width="0.5" stroke-linejoin="miter"/><polygon points="414.3,132.65 417.1,131.13 417.1,134.17" fill="none" stroke="#ff8a3c" stroke-width="0.5" stroke-linejoin="miter"/><polygon points="420.45,130.96 423.25,129.44 423.25,132.48" fill="none" stroke="#ff8a3c" stroke-width="0.5" stroke-linejoin="miter"/><polygon points="426.61,129.24 429.41,127.72 429.41,130.76" fill="none" stroke="#ff8a3c" stroke-width="0.5" stroke-linejoin="miter"/><polygon points="432.76,127.52 435.56,126 435.56,129.04" fill="none" stroke="#ff8a3c" stroke-width="0.5" stroke-linejoin="miter"/><polygon points="438.91,125.78 441.71,124.26 441.71,127.3" fill="none" stroke="#ff8a3c" stroke-width="0.5" stroke-linejoin="miter"/><polygon points="445.06,124.04 447.86,122.52 447.86,125.56" fill="none" stroke="#ff8a3c" stroke-width="0.5" stroke-linejoin="miter"/><polygon points="451.22,122.28 454.02,120.76 454.02,123.8" fill="none" stroke="#ff8a3c" stroke-width="0.5" stroke-linejoin="miter"/><polygon points="457.37,120.52 460.17,119 460.17,122.04" fill="none" stroke="#ff8a3c" stroke-width="0.5" stroke-linejoin="miter"/><polygon points="463.52,118.74 466.32,117.22 466.32,120.26" fill="none" stroke="#ff8a3c" stroke-width="0.5" stroke-linejoin="miter"/><polygon points="469.67,116.96 472.47,115.44 472.47,118.48" fill="none" stroke="#ff8a3c" stroke-width="0.5" stroke-linejoin="miter"/><polygon points="475.83,115.16 478.63,113.64 478.63,116.68" fill="none" stroke="#ff8a3c" stroke-width="0.5" stroke-linejoin="miter"/><polygon points="481.98,113.35 484.78,111.83 484.78,114.87" fill="none" stroke="#ff8a3c" stroke-width="0.5" stroke-linejoin="miter"/><polygon points="488.13,111.53 490.93,110.01 490.93,113.05" fill="none" stroke="#ff8a3c" stroke-width="0.5" stroke-linejoin="miter"/></g>
<g><polygon points="48.35,260.02 45.55,258.5 45.55,261.54" fill="none" stroke="#3333ff" stroke-width="0.5" stroke-linejoin="miter"/><polygon points="54.51,257.74 51.7,256.22 51.7,259.26" fill="none" stroke="#3333ff" stroke-width="0.5" stroke-linejoin="miter"/><polygon points="60.66,255.47 57.86,253.95 57.86,256.99" fill="none" stroke="#3333ff" stroke-width="0.5" stroke-linejoin="miter"/><polygon points="66.81,253.21 64.01,251.69 64.01,254.73" fill="none" stroke="#3333ff" stroke-width="0.5" stroke-linejoin="miter"/><polygon points="72.96,250.95 70.16,249.43 70.16,252.47" fill="none" stroke="#3333ff" stroke-width="0.5" stroke-linejoin="miter"/><polygon points="79.11,248.7 76.31,247.18 76.31,250.22" fill="none" stroke="#3333ff" stroke-width="0.5" stroke-linejoin="miter"/><polygon points="85.27,246.46 82.47,244.94 82.47,247.98" fill="none" stroke="#3333ff" stroke-width="0.5" stroke-linejoin="miter"/><polygon points="91.42,244.22 88.62,242.7 88.62,245.74" fill="none" stroke="#3333ff" stroke-width="0.5" stroke-linejoin="miter"/><polygon points="97.57,241.99 94.77,240.47 94.77,243.51" fill="none" stroke="#3333ff" stroke-width="0.5" stroke-linejoin="miter"/><polygon points="103.72,239.76 100.92,238.24 100.92,241.28" fill="none" stroke="#3333ff" stroke-width="0.5" stroke-linejoin="miter"/><polygon points="109.88,237.55 107.08,236.03 107.08,239.07" fill="none" stroke="#3333ff" stroke-width="0.5" stroke-linejoin="miter"/><polygon points="116.03,235.34 113.23,233.82 113.23,236.86" fill="none" stroke="#3333ff" stroke-width="0.5" stroke-linejoin="miter"/><polygon points="122.18,233.15 119.38,231.63 119.38,234.67" fill="none" stroke="#3333ff" stroke-width="0.5" stroke-linejoin="miter"/><polygon points="128.33,230.96 125.53,229.44 125.53,232.48" fill="none" stroke="#3333ff" stroke-width="0.5" stroke-linejoin="miter"/><polygon points="134.49,228.77 131.69,227.25 131.69,230.29" fill="none" stroke="#3333ff" stroke-width="0.5" stroke-linejoin="miter"/><polygon points="140.64,226.59 137.84,225.07 137.84,228.11" fill="none" stroke="#3333ff" stroke-width="0.5" stroke-linejoin="miter"/><polygon points="146.79,224.41 143.99,222.89 143.99,225.93" fill="none" stroke="#3333ff" stroke-width="0.5" stroke-linejoin="miter"/><polygon points="152.94,222.23 150.14,220.71 150.14,223.75" fill="none" stroke="#3333ff" stroke-width="0.5" stroke-linejoin="miter"/><polygon points="159.1,220.04 156.3,218.52 156.3,221.56" fill="none" stroke="#3333ff" stroke-width="0.5" stroke-linejoin="miter"/><polygon points="165.25,217.84 162.45,216.32 162.45,219.36" fill="none" stroke="#3333ff" stroke-width="0.5" stroke-linejoin="miter"/><polygon points="171.4,215.64 168.6,214.12 168.6,217.16" fill="none" stroke="#3333ff" stroke-width="0.5" stroke-linejoin="miter"/><polygon points="177.55,213.44 174.75,211.92 174.75,214.96" fill="none" stroke="#3333ff" stroke-width="0.5" stroke-linejoin="miter"/><polygon points="183.71,211.23 180.91,209.71 180.91,212.75" fill="none" stroke="#3333ff" stroke-width="0.5" stroke-linejoin="miter"/><polygon points="189.86,209.02 187.06,207.5 187.06,210.54" fill="none" stroke="#3333ff" stroke-width="0.5" stroke-linejoin="miter"/><polygon points="196.01,206.81 193.21,205.29 193.21,208.33" fill="none" stroke="#3333ff" stroke-width="0.5" stroke-linejoin="miter"/><polygon points="202.16,204.6 199.36,203.08 199.36,206.12" fill="none" stroke="#3333ff" stroke-width="0.5" stroke-linejoin="miter"/><polygon points="208.32,202.39 205.52,200.87 205.52,203.91" fill="none" stroke="#3333ff" stroke-width="0.5" stroke-linejoin="miter"/><polygon points="214.47,200.18 211.67,198.66 211.67,201.7" fill="none" stroke="#3333ff" stroke-width="0.5" stroke-linejoin="miter"/><polygon points="220.62,197.97 217.82,196.45 217.82,199.49" fill="none" stroke="#3333ff" stroke-width="0.5" stroke-linejoin="miter"/><polygon points="226.77,195.77 223.97,194.25 223.97,197.29" fill="none" stroke="#3333ff" stroke-width="0.5" stroke-linejoin="miter"/><polygon points="232.93,193.59 230.13,192.07 230.13,195.11" fill="none" stroke="#3333ff" stroke-width="0.5" stroke-linejoin="miter"/><polygon points="239.08,191.42 236.28,189.9 236.28,192.94" fill="none" stroke="#3333ff" stroke-width="0.5" stroke-linejoin="miter"/><polygon points="245.23,189.27 242.43,187.75 242.43,190.79" fill="none" stroke="#3333ff" stroke-width="0.5" stroke-linejoin="miter"/><polygon points="251.38,187.12 248.59,185.6 248.59,188.64" fill="none" stroke="#3333ff" stroke-width="0.5" stroke-linejoin="miter"/><polygon points="257.54,184.97 254.74,183.45 254.74,186.49" fill="none" stroke="#3333ff" stroke-width="0.5" stroke-linejoin="miter"/><polygon points="263.69,182.81 260.89,181.29 260.89,184.33" fill="none" stroke="#3333ff" stroke-width="0.5" stroke-linejoin="miter"/><polygon points="269.84,180.62 267.04,179.1 267.04,182.14" fill="none" stroke="#3333ff" stroke-width="0.5" stroke-linejoin="miter"/><polygon points="276,178.41 273.19,176.89 273.19,179.93" fill="none" stroke="#3333ff" stroke-width="0.5" stroke-linejoin="miter"/><polygon points="282.15,176.15 279.35,174.63 279.35,177.67" fill="none" stroke="#3333ff" stroke-width="0.5" stroke-linejoin="miter"/><polygon points="288.3,173.86 285.5,172.34 285.5,175.38" fill="none" stroke="#3333ff" stroke-width="0.5" stroke-linejoin="miter"/><polygon points="294.45,171.46 291.65,169.94 291.65,172.98" fill="none" stroke="#3333ff" stroke-width="0.5" stroke-linejoin="miter"/><polygon points="300.61,168.97 297.81,167.45 297.81,170.49" fill="none" stroke="#3333ff" stroke-width="0.5" stroke-linejoin="miter"/><polygon points="306.76,166.41 303.96,164.89 303.96,167.93" fill="none" stroke="#3333ff" stroke-width="0.5" stroke-linejoin="miter"/><polygon points="312.91,163.84 310.11,162.32 310.11,165.36" fill="none" stroke="#3333ff" stroke-width="0.5" stroke-linejoin="miter"/><polygon points="319.06,161.31 316.26,159.79 316.26,162.83" fill="none" stroke="#3333ff" stroke-width="0.5" stroke-linejoin="miter"/><polygon points="325.22,158.86 322.42,157.34 322.42,160.38" fill="none" stroke="#3333ff" stroke-width="0.5" stroke-linejoin="miter"/><polygon points="331.37,156.55 328.57,155.03 328.57,158.07" fill="none" stroke="#3333ff" stroke-width="0.5" stroke-linejoin="miter"/><polygon points="337.52,154.4 334.72,152.88 334.72,155.92" fill="none" stroke="#3333ff" stroke-width="0.5" stroke-linejoin="miter"/><polygon points="343.67,152.38 340.87,150.86 340.87,153.9" fill="none" stroke="#3333ff" stroke-width="0.5" stroke-linejoin="miter"/><polygon points="349.82,150.45 347.02,148.93 347.02,151.97" fill="none" stroke="#3333ff" stroke-width="0.5" stroke-linejoin="miter"/><polygon points="355.98,148.59 353.18,147.07 353.18,150.11" fill="none" stroke="#3333ff" stroke-width="0.5" stroke-linejoin="miter"/><polygon points="362.13,146.75 359.33,145.23 359.33,148.27" fill="none" stroke="#3333ff" stroke-width="0.5" stroke-linejoin="miter"/><polygon points="368.28,144.9 365.48,143.38 365.48,146.42" fill="none" stroke="#3333ff" stroke-width="0.5" stroke-linejoin="miter"/><polygon points="374.44,143.01 371.63,141.49 371.63,144.53" fill="none" stroke="#3333ff" stroke-width="0.5" stroke-linejoin="miter"/><polygon points="380.59,141.06 377.79,139.54 377.79,142.58" fill="none" stroke="#3333ff" stroke-width="0.5" stroke-linejoin="miter"/><polygon points="386.74,139.02 383.94,137.5 383.94,140.54" fill="none" stroke="#3333ff" stroke-width="0.5" stroke-linejoin="miter"/><polygon points="392.89,136.94 390.09,135.42 390.09,138.46" fill="none" stroke="#3333ff" stroke-width="0.5" stroke-linejoin="miter"/><polygon points="399.04,134.82 396.24,133.3 396.24,136.34" fill="none" stroke="#3333ff" stroke-width="0.5" stroke-linejoin="miter"/><polygon points="405.2,132.69 402.4,131.17 402.4,134.21" fill="none" stroke="#3333ff" stroke-width="0.5" stroke-linejoin="miter"/><polygon points="411.35,130.58 408.55,129.06 408.55,132.1" fill="none" stroke="#3333ff" stroke-width="0.5" stroke-linejoin="miter"/><polygon points="417.5,128.49 414.7,126.97 414.7,130.01" fill="none" stroke="#3333ff" stroke-width="0.5" stroke-linejoin="miter"/><polygon points="423.65,126.45 420.85,124.93 420.85,127.97" fill="none" stroke="#3333ff" stroke-width="0.5" stroke-linejoin="miter"/><polygon points="429.81,124.45 427.01,122.93 427.01,125.97" fill="none" stroke="#3333ff" stroke-width="0.5" stroke-linejoin="miter"/><polygon points="435.96,122.46 433.16,120.94 433.16,123.98" fill="none" stroke="#3333ff" stroke-width="0.5" stroke-linejoin="miter"/><polygon points="442.11,120.49 439.31,118.97 439.31,122.01" fill="none" stroke="#3333ff" stroke-width="0.5" stroke-linejoin="miter"/><polygon points="448.26,118.53 445.46,117.01 445.46,120.05" fill="none" stroke="#3333ff" stroke-width="0.5" stroke-linejoin="miter"/><polygon points="454.42,116.59 451.62,115.07 451.62,118.11" fill="none" stroke="#3333ff" stroke-width="0.5" stroke-linejoin="miter"/><polygon points="460.57,114.66 457.77,113.14 457.77,116.18" fill="none" stroke="#3333ff" stroke-width="0.5" stroke-linejoin="miter"/><polygon points="466.72,112.75 463.92,111.23 463.92,114.27" fill="none" stroke="#3333ff" stroke-width="0.5" stroke-linejoin="miter"/><polygon points="472.87,110.86 470.07,109.34 470.07,112.38" fill="none" stroke="#3333ff" stroke-width="0.5" stroke-linejoin="miter"/><polygon points="479.03,108.99 476.23,107.47 476.23,110.51" fill="none" stroke="#3333ff" stroke-width="0.5" stroke-linejoin="miter"/><polygon points="485.18,107.14 482.38,105.62 482.38,108.66" fill="none" stroke="#3333ff" stroke-width="0.5" stroke-linejoin="miter"/><polygon points="491.33,105.31 488.53,103.79 488.53,106.83" fill="none" stroke="#3333ff" stroke-width="0.5" stroke-linejoin="miter"/></g>
<g><path d="M45.55 260.2H47.95M46.75 259V261.4" stroke="#4a806a" stroke-width="0.55" fill="none"/><path d="M51.7 258.1H54.11M52.91 256.9V259.3" stroke="#4a806a" stroke-width="0.55" fill="none"/><path d="M57.86 256H60.26M59.06 254.8V257.2" stroke="#4a806a" stroke-width="0.55" fill="none"/><path d="M64.01 253.91H66.41M65.21 252.71V255.11" stroke="#4a806a" stroke-width="0.55" fill="none"/><path d="M70.16 251.81H72.56M71.36 250.61V253.01" stroke="#4a806a" stroke-width="0.55" fill="none"/><path d="M76.31 249.71H78.72M77.52 248.51V250.91" stroke="#4a806a" stroke-width="0.55" fill="none"/><path d="M82.47 247.61H84.87M83.67 246.41V248.81" stroke="#4a806a" stroke-width="0.55" fill="none"/><path d="M88.62 245.51H91.02M89.82 244.31V246.71" stroke="#4a806a" stroke-width="0.55" fill="none"/><path d="M94.77 243.41H97.17M95.97 242.21V244.61" stroke="#4a806a" stroke-width="0.55" fill="none"/><path d="M100.92 241.32H103.33M102.12 240.12V242.52" stroke="#4a806a" stroke-width="0.55" fill="none"/><path d="M107.08 239.22H109.48M108.28 238.02V240.42" stroke="#4a806a" stroke-width="0.55" fill="none"/><path d="M113.23 237.13H115.63M114.43 235.93V238.33" stroke="#4a806a" stroke-width="0.55" fill="none"/><path d="M119.38 235.04H121.78M120.58 233.84V236.24" stroke="#4a806a" stroke-width="0.55" fill="none"/><path d="M125.53 232.96H127.93M126.73 231.76V234.16" stroke="#4a806a" stroke-width="0.55" fill="none"/><path d="M131.69 230.87H134.09M132.89 229.67V232.07" stroke="#4a806a" stroke-width="0.55" fill="none"/><path d="M137.84 228.78H140.24M139.04 227.58V229.98" stroke="#4a806a" stroke-width="0.55" fill="none"/><path d="M143.99 226.68H146.39M145.19 225.48V227.88" stroke="#4a806a" stroke-width="0.55" fill="none"/><path d="M150.14 224.57H152.54M151.34 223.37V225.77" stroke="#4a806a" stroke-width="0.55" fill="none"/><path d="M156.3 222.46H158.7M157.5 221.26V223.66" stroke="#4a806a" stroke-width="0.55" fill="none"/><path d="M162.45 220.33H164.85M163.65 219.13V221.53" stroke="#4a806a" stroke-width="0.55" fill="none"/><path d="M168.6 218.19H171M169.8 216.99V219.39" stroke="#4a806a" stroke-width="0.55" fill="none"/><path d="M174.75 216.03H177.15M175.95 214.83V217.23" stroke="#4a806a" stroke-width="0.55" fill="none"/><path d="M180.91 213.86H183.31M182.11 212.66V215.06" stroke="#4a806a" stroke-width="0.55" fill="none"/><path d="M187.06 211.68H189.46M188.26 210.48V212.88" stroke="#4a806a" stroke-width="0.55" fill="none"/><path d="M193.21 209.5H195.61M194.41 208.3V210.7" stroke="#4a806a" stroke-width="0.55" fill="none"/><path d="M199.36 207.32H201.76M200.56 206.12V208.52" stroke="#4a806a" stroke-width="0.55" fill="none"/><path d="M205.52 205.14H207.92M206.72 203.94V206.34" stroke="#4a806a" stroke-width="0.55" fill="none"/><path d="M211.67 202.96H214.07M212.87 201.76V204.16" stroke="#4a806a" stroke-width="0.55" fill="none"/><path d="M217.82 200.8H220.22M219.02 199.6V202" stroke="#4a806a" stroke-width="0.55" fill="none"/><path d="M223.97 198.65H226.37M225.17 197.45V199.85" stroke="#4a806a" stroke-width="0.55" fill="none"/><path d="M230.13 196.53H232.53M231.33 195.33V197.73" stroke="#4a806a" stroke-width="0.55" fill="none"/><path d="M236.28 194.43H238.68M237.48 193.23V195.63" stroke="#4a806a" stroke-width="0.55" fill="none"/><path d="M242.43 192.36H244.83M243.63 191.16V193.56" stroke="#4a806a" stroke-width="0.55" fill="none"/><path d="M248.59 190.29H250.98M249.78 189.09V191.49" stroke="#4a806a" stroke-width="0.55" fill="none"/><path d="M254.74 188.22H257.14M255.94 187.02V189.42" stroke="#4a806a" stroke-width="0.55" fill="none"/><path d="M260.89 186.15H263.29M262.09 184.95V187.35" stroke="#4a806a" stroke-width="0.55" fill="none"/><path d="M267.04 184.04H269.44M268.24 182.84V185.24" stroke="#4a806a" stroke-width="0.55" fill="none"/><path d="M273.19 181.91H275.59M274.39 180.71V183.11" stroke="#4a806a" stroke-width="0.55" fill="none"/><path d="M279.35 179.74H281.75M280.55 178.54V180.94" stroke="#4a806a" stroke-width="0.55" fill="none"/><path d="M285.5 177.51H287.9M286.7 176.31V178.71" stroke="#4a806a" stroke-width="0.55" fill="none"/><path d="M291.65 175.18H294.05M292.85 173.98V176.38" stroke="#4a806a" stroke-width="0.55" fill="none"/><path d="M297.81 172.74H300.2M299 171.54V173.94" stroke="#4a806a" stroke-width="0.55" fill="none"/><path d="M303.96 170.24H306.36M305.16 169.04V171.44" stroke="#4a806a" stroke-width="0.55" fill="none"/><path d="M310.11 167.72H312.51M311.31 166.52V168.92" stroke="#4a806a" stroke-width="0.55" fill="none"/><path d="M316.26 165.24H318.66M317.46 164.04V166.44" stroke="#4a806a" stroke-width="0.55" fill="none"/><path d="M322.42 162.84H324.81M323.62 161.64V164.04" stroke="#4a806a" stroke-width="0.55" fill="none"/><path d="M328.57 160.57H330.97M329.77 159.37V161.77" stroke="#4a806a" stroke-width="0.55" fill="none"/><path d="M334.72 158.46H337.12M335.92 157.26V159.66" stroke="#4a806a" stroke-width="0.55" fill="none"/><path d="M340.87 156.43H343.27M342.07 155.23V157.63" stroke="#4a806a" stroke-width="0.55" fill="none"/><path d="M347.02 154.48H349.42M348.22 153.28V155.68" stroke="#4a806a" stroke-width="0.55" fill="none"/><path d="M353.18 152.58H355.58M354.38 151.38V153.78" stroke="#4a806a" stroke-width="0.55" fill="none"/><path d="M359.33 150.73H361.73M360.53 149.53V151.93" stroke="#4a806a" stroke-width="0.55" fill="none"/><path d="M365.48 148.93H367.88M366.68 147.73V150.13" stroke="#4a806a" stroke-width="0.55" fill="none"/><path d="M371.63 147.16H374.03M372.83 145.96V148.36" stroke="#4a806a" stroke-width="0.55" fill="none"/><path d="M377.79 145.41H380.19M378.99 144.21V146.61" stroke="#4a806a" stroke-width="0.55" fill="none"/><path d="M383.94 143.69H386.34M385.14 142.49V144.89" stroke="#4a806a" stroke-width="0.55" fill="none"/><path d="M390.09 142.02H392.49M391.29 140.82V143.22" stroke="#4a806a" stroke-width="0.55" fill="none"/><path d="M396.24 140.38H398.64M397.44 139.18V141.58" stroke="#4a806a" stroke-width="0.55" fill="none"/><path d="M402.4 138.77H404.8M403.6 137.57V139.97" stroke="#4a806a" stroke-width="0.55" fill="none"/><path d="M408.55 137.19H410.95M409.75 135.99V138.39" stroke="#4a806a" stroke-width="0.55" fill="none"/><path d="M414.7 135.62H417.1M415.9 134.42V136.82" stroke="#4a806a" stroke-width="0.55" fill="none"/><path d="M420.85 134.06H423.25M422.05 132.86V135.26" stroke="#4a806a" stroke-width="0.55" fill="none"/><path d="M427.01 132.51H429.41M428.21 131.31V133.71" stroke="#4a806a" stroke-width="0.55" fill="none"/><path d="M433.16 130.98H435.56M434.36 129.78V132.18" stroke="#4a806a" stroke-width="0.55" fill="none"/><path d="M439.31 129.45H441.71M440.51 128.25V130.65" stroke="#4a806a" stroke-width="0.55" fill="none"/><path d="M445.46 127.94H447.86M446.66 126.74V129.14" stroke="#4a806a" stroke-width="0.55" fill="none"/><path d="M451.62 126.44H454.02M452.82 125.24V127.64" stroke="#4a806a" stroke-width="0.55" fill="none"/><path d="M457.77 124.95H460.17M458.97 123.75V126.15" stroke="#4a806a" stroke-width="0.55" fill="none"/><path d="M463.92 123.48H466.32M465.12 122.28V124.68" stroke="#4a806a" stroke-width="0.55" fill="none"/><path d="M470.07 122.02H472.47M471.27 120.82V123.22" stroke="#4a806a" stroke-width="0.55" fill="none"/><path d="M476.23 120.58H478.63M477.43 119.38V121.78" stroke="#4a806a" stroke-width="0.55" fill="none"/><path d="M482.38 119.15H484.78M483.58 117.95V120.35" stroke="#4a806a" stroke-width="0.55" fill="none"/><path d="M488.53 117.74H490.93M489.73 116.54V118.94" stroke="#4a806a" stroke-width="0.55" fill="none"/></g>
<g><circle cx="46.75" cy="260.06" r="1.12" fill="#1f3c96"/><circle cx="52.91" cy="257.83" r="1.12" fill="#1f3c96"/><circle cx="59.06" cy="255.6" r="1.12" fill="#1f3c96"/><circle cx="65.21" cy="253.37" r="1.12" fill="#1f3c96"/><circle cx="71.36" cy="251.15" r="1.12" fill="#1f3c96"/><circle cx="77.52" cy="248.93" r="1.12" fill="#1f3c96"/><circle cx="83.67" cy="246.71" r="1.12" fill="#1f3c96"/><circle cx="89.82" cy="244.49" r="1.12" fill="#1f3c96"/><circle cx="95.97" cy="242.28" r="1.12" fill="#1f3c96"/><circle cx="102.12" cy="240.07" r="1.12" fill="#1f3c96"/><circle cx="108.28" cy="237.87" r="1.12" fill="#1f3c96"/><circle cx="114.43" cy="235.67" r="1.12" fill="#1f3c96"/><circle cx="120.58" cy="233.48" r="1.12" fill="#1f3c96"/><circle cx="126.73" cy="231.29" r="1.12" fill="#1f3c96"/><circle cx="132.89" cy="229.1" r="1.12" fill="#1f3c96"/><circle cx="139.04" cy="226.92" r="1.12" fill="#1f3c96"/><circle cx="145.19" cy="224.73" r="1.12" fill="#1f3c96"/><circle cx="151.34" cy="222.54" r="1.12" fill="#1f3c96"/><circle cx="157.5" cy="220.35" r="1.12" fill="#1f3c96"/><circle cx="163.65" cy="218.16" r="1.12" fill="#1f3c96"/><circle cx="169.8" cy="215.96" r="1.12" fill="#1f3c96"/><circle cx="175.95" cy="213.75" r="1.12" fill="#1f3c96"/><circle cx="182.11" cy="211.55" r="1.12" fill="#1f3c96"/><circle cx="188.26" cy="209.35" r="1.12" fill="#1f3c96"/><circle cx="194.41" cy="207.14" r="1.12" fill="#1f3c96"/><circle cx="200.56" cy="204.93" r="1.12" fill="#1f3c96"/><circle cx="206.72" cy="202.72" r="1.12" fill="#1f3c96"/><circle cx="212.87" cy="200.51" r="1.12" fill="#1f3c96"/><circle cx="219.02" cy="198.3" r="1.12" fill="#1f3c96"/><circle cx="225.17" cy="196.08" r="1.12" fill="#1f3c96"/><circle cx="231.33" cy="193.88" r="1.12" fill="#1f3c96"/><circle cx="237.48" cy="191.69" r="1.12" fill="#1f3c96"/><circle cx="243.63" cy="189.5" r="1.12" fill="#1f3c96"/><circle cx="249.78" cy="187.32" r="1.12" fill="#1f3c96"/><circle cx="255.94" cy="185.13" r="1.12" fill="#1f3c96"/><circle cx="262.09" cy="182.92" r="1.12" fill="#1f3c96"/><circle cx="268.24" cy="180.7" r="1.12" fill="#1f3c96"/><circle cx="274.39" cy="178.45" r="1.12" fill="#1f3c96"/><circle cx="280.55" cy="176.17" r="1.12" fill="#1f3c96"/><circle cx="286.7" cy="173.86" r="1.12" fill="#1f3c96"/><circle cx="292.85" cy="171.5" r="1.12" fill="#1f3c96"/><circle cx="299" cy="169.11" r="1.12" fill="#1f3c96"/><circle cx="305.16" cy="166.68" r="1.12" fill="#1f3c96"/><circle cx="311.31" cy="164.23" r="1.12" fill="#1f3c96"/><circle cx="317.46" cy="161.75" r="1.12" fill="#1f3c96"/><circle cx="323.62" cy="159.23" r="1.12" fill="#1f3c96"/><circle cx="329.77" cy="156.69" r="1.12" fill="#1f3c96"/><circle cx="335.92" cy="154.12" r="1.12" fill="#1f3c96"/><circle cx="342.07" cy="151.47" r="1.12" fill="#1f3c96"/><circle cx="348.22" cy="148.76" r="1.12" fill="#1f3c96"/><circle cx="354.38" cy="146.03" r="1.12" fill="#1f3c96"/><circle cx="360.53" cy="143.29" r="1.12" fill="#1f3c96"/><circle cx="366.68" cy="140.57" r="1.12" fill="#1f3c96"/><circle cx="372.83" cy="137.91" r="1.12" fill="#1f3c96"/><circle cx="378.99" cy="135.31" r="1.12" fill="#1f3c96"/><circle cx="385.14" cy="132.79" r="1.12" fill="#1f3c96"/><circle cx="391.29" cy="130.32" r="1.12" fill="#1f3c96"/><circle cx="397.44" cy="127.9" r="1.12" fill="#1f3c96"/><circle cx="403.6" cy="125.49" r="1.12" fill="#1f3c96"/><circle cx="409.75" cy="123.08" r="1.12" fill="#1f3c96"/><circle cx="415.9" cy="120.66" r="1.12" fill="#1f3c96"/><circle cx="422.05" cy="118.21" r="1.12" fill="#1f3c96"/><circle cx="428.21" cy="115.73" r="1.12" fill="#1f3c96"/><circle cx="434.36" cy="113.25" r="1.12" fill="#1f3c96"/><circle cx="440.51" cy="110.75" r="1.12" fill="#1f3c96"/><circle cx="446.66" cy="108.25" r="1.12" fill="#1f3c96"/><circle cx="452.82" cy="105.75" r="1.12" fill="#1f3c96"/><circle cx="458.97" cy="103.23" r="1.12" fill="#1f3c96"/><circle cx="465.12" cy="100.71" r="1.12" fill="#1f3c96"/><circle cx="471.27" cy="98.18" r="1.12" fill="#1f3c96"/><circle cx="477.43" cy="95.64" r="1.12" fill="#1f3c96"/><circle cx="483.58" cy="93.1" r="1.12" fill="#1f3c96"/><circle cx="489.73" cy="90.54" r="1.12" fill="#1f3c96"/></g>
<line x1="422.05" y1="13.6" x2="422.05" y2="262.3" stroke="#0000ff" stroke-opacity="0.23" stroke-width="1.9"/>
<rect x="40.6" y="13.6" width="492.2" height="248.7" fill="none" stroke="#666666" stroke-width="0.55"/>
<text x="40.6" y="268.6" font-size="3.8" text-anchor="middle">0</text>
<text x="102.12" y="268.6" font-size="3.8" text-anchor="middle">10</text>
<text x="163.65" y="268.6" font-size="3.8" text-anchor="middle">20</text>
<text x="225.17" y="268.6" font-size="3.8" text-anchor="middle">30</text>
<text x="286.7" y="268.6" font-size="3.8" text-anchor="middle">40</text>
<text x="348.22" y="268.6" font-size="3.8" text-anchor="middle">50</text>
<text x="409.75" y="268.6" font-size="3.8" text-anchor="middle">60</text>
<text x="471.27" y="268.6" font-size="3.8" text-anchor="middle">70</text>
<text x="532.8" y="268.6" font-size="3.8" text-anchor="middle">80</text>
<text x="38.5" y="264.17" font-size="3.8" text-anchor="end">0</text>
<text x="38.5" y="233.08" font-size="3.8" text-anchor="end">20</text>
<text x="38.5" y="201.99" font-size="3.8" text-anchor="end">40</text>
<text x="38.5" y="170.91" font-size="3.8" text-anchor="end">60</text>
<text x="38.5" y="139.82" font-size="3.8" text-anchor="end">80</text>
<text x="38.5" y="108.73" font-size="3.8" text-anchor="end">100</text>
<text x="38.5" y="77.64" font-size="3.8" text-anchor="end">120</text>
<text x="38.5" y="46.56" font-size="3.8" text-anchor="end">140</text>
<text x="38.5" y="15.47" font-size="3.8" text-anchor="end">160</text>
<path d="M102.12 262.3v-4.6M102.12 13.6v4.6M163.65 262.3v-4.6M163.65 13.6v4.6M225.17 262.3v-4.6M225.17 13.6v4.6M286.7 262.3v-4.6M286.7 13.6v4.6M348.22 262.3v-4.6M348.22 13.6v4.6M409.75 262.3v-4.6M409.75 13.6v4.6M471.27 262.3v-4.6M471.27 13.6v4.6M40.6 231.21h4.6M532.8 231.21h-4.6M40.6 200.12h4.6M532.8 200.12h-4.6M40.6 169.04h4.6M532.8 169.04h-4.6M40.6 137.95h4.6M532.8 137.95h-4.6M40.6 106.86h4.6M532.8 106.86h-4.6M40.6 75.77h4.6M532.8 75.77h-4.6M40.6 44.69h4.6M532.8 44.69h-4.6" stroke="#666666" stroke-width="0.55" fill="none"/>
<text x="286.7" y="11.2" font-size="5.0" text-anchor="middle">85% of DS1-2(LSE)</text>
<text x="286.7" y="276.2" font-size="5.0" text-anchor="middle">TIME(WEEK)</text>
<text transform="translate(29.05 137.95) rotate(-90)" font-size="5.2" text-anchor="middle">CUMULATIVE NUMBER OF DETECTED FAULTS</text>
<rect x="42.4" y="15.4" width="63.2" height="181.6" fill="#fff" stroke="#666666" stroke-width="0.55"/>
<circle cx="48.6" cy="26.4" r="0.68" fill="#2626ff"/>
<text x="55" y="27.84" font-size="4.0">Actual</text>
<line x1="44" y1="44.33" x2="54" y2="44.33" stroke="#22ee22" stroke-width="0.8"/>
<text x="55" y="45.77" font-size="4.0">G-O model</text>
<line x1="44" y1="62.26" x2="54" y2="62.26" stroke="#2ae6ee" stroke-width="0.95" stroke-dasharray="2.6 0.5 0.6 0.5"/>
<text x="55" y="63.7" font-size="4.0">DSS model</text>
<line x1="44" y1="80.19" x2="54" y2="80.19" stroke="#ff5555" stroke-width="0.7" stroke-dasharray="3.9 1.7"/>
<text x="55" y="81.63" font-size="4.0">ISS model</text>
<line x1="44" y1="98.12" x2="54" y2="98.12" stroke="#f7c6f3" stroke-width="0.7" stroke-dasharray="0.6 0.5"/>
<text x="55" y="99.56" font-size="4.0">Yamada Imperfect-2  model</text>
<polygon points="48.6,114.45 47.08,117.25 50.12,117.25" fill="none" stroke="#ff30b0" stroke-width="0.5" stroke-linejoin="miter"/>
<text x="55" y="117.49" font-size="4.0">P-N-Z model</text>
<polygon points="47,133.98 49.8,132.46 49.8,135.5" fill="none" stroke="#ff8a3c" stroke-width="0.5" stroke-linejoin="miter"/>
<text x="55" y="135.42" font-size="4.0">GGO model</text>
<polygon points="50.2,151.91 47.4,150.39 47.4,153.43" fill="none" stroke="#3333ff" stroke-width="0.5" stroke-linejoin="miter"/>
<text x="55" y="153.35" font-size="4.0">Wang model</text>
<path d="M47.4 169.84H49.8M48.6 168.64V171.04" stroke="#4a806a" stroke-width="0.55" fill="none"/>
<text x="55" y="171.28" font-size="4.0">Li model</text>
<circle cx="48.6" cy="187.77" r="1.12" fill="#1f3c96"/>
<text x="55" y="189.21" font-size="4.0">Proposed model</text>
<g><circle cx="42.34" cy="579.33" r="0.68" fill="#2626ff"/><circle cx="47.87" cy="579.33" r="0.68" fill="#2626ff"/><circle cx="53.41" cy="579.33" r="0.68" fill="#2626ff"/><circle cx="58.94" cy="579.33" r="0.68" fill="#2626ff"/><circle cx="64.48" cy="579.33" r="0.68" fill="#2626ff"/><circle cx="70.01" cy="579.33" r="0.68" fill="#2626ff"/><circle cx="75.55" cy="579.33" r="0.68" fill="#2626ff"/><circle cx="81.08" cy="579.33" r="0.68" fill="#2626ff"/><circle cx="86.62" cy="579.33" r="0.68" fill="#2626ff"/><circle cx="92.16" cy="579.33" r="0.68" fill="#2626ff"/><circle cx="97.69" cy="579.33" r="0.68" fill="#2626ff"/><circle cx="103.23" cy="579.33" r="0.68" fill="#2626ff"/><circle cx="108.76" cy="576.51" r="0.68" fill="#2626ff"/><circle cx="114.3" cy="575.11" r="0.68" fill="#2626ff"/><circle cx="119.83" cy="573.7" r="0.68" fill="#2626ff"/><circle cx="125.37" cy="572.29" r="0.68" fill="#2626ff"/><circle cx="130.9" cy="570.88" r="0.68" fill="#2626ff"/><circle cx="136.44" cy="568.07" r="0.68" fill="#2626ff"/><circle cx="141.98" cy="566.66" r="0.68" fill="#2626ff"/><circle cx="147.51" cy="565.26" r="0.68" fill="#2626ff"/><circle cx="153.05" cy="563.85" r="0.68" fill="#2626ff"/><circle cx="158.58" cy="562.44" r="0.68" fill="#2626ff"/><circle cx="164.12" cy="559.63" r="0.68" fill="#2626ff"/><circle cx="169.65" cy="558.22" r="0.68" fill="#2626ff"/><circle cx="175.19" cy="556.81" r="0.68" fill="#2626ff"/><circle cx="180.72" cy="554" r="0.68" fill="#2626ff"/><circle cx="186.26" cy="552.59" r="0.68" fill="#2626ff"/><circle cx="191.8" cy="551.18" r="0.68" fill="#2626ff"/><circle cx="197.33" cy="549.78" r="0.68" fill="#2626ff"/><circle cx="202.87" cy="548.37" r="0.68" fill="#2626ff"/><circle cx="208.4" cy="548.37" r="0.68" fill="#2626ff"/><circle cx="213.94" cy="548.37" r="0.68" fill="#2626ff"/><circle cx="219.47" cy="548.37" r="0.68" fill="#2626ff"/><circle cx="225.01" cy="548.37" r="0.68" fill="#2626ff"/><circle cx="230.54" cy="548.37" r="0.68" fill="#2626ff"/><circle cx="236.08" cy="548.37" r="0.68" fill="#2626ff"/><circle cx="241.62" cy="548.37" r="0.68" fill="#2626ff"/><circle cx="247.15" cy="548.37" r="0.68" fill="#2626ff"/><circle cx="252.69" cy="548.37" r="0.68" fill="#2626ff"/><circle cx="258.22" cy="548.37" r="0.68" fill="#2626ff"/><circle cx="263.76" cy="548.37" r="0.68" fill="#2626ff"/><circle cx="269.29" cy="548.37" r="0.68" fill="#2626ff"/><circle cx="274.83" cy="548.37" r="0.68" fill="#2626ff"/><circle cx="280.36" cy="548.37" r="0.68" fill="#2626ff"/><circle cx="285.9" cy="548.37" r="0.68" fill="#2626ff"/><circle cx="291.44" cy="545.55" r="0.68" fill="#2626ff"/><circle cx="296.97" cy="545.55" r="0.68" fill="#2626ff"/><circle cx="302.51" cy="545.55" r="0.68" fill="#2626ff"/><circle cx="308.04" cy="542.74" r="0.68" fill="#2626ff"/><circle cx="313.58" cy="539.93" r="0.68" fill="#2626ff"/><circle cx="319.11" cy="537.11" r="0.68" fill="#2626ff"/><circle cx="324.65" cy="537.11" r="0.68" fill="#2626ff"/><circle cx="330.18" cy="534.3" r="0.68" fill="#2626ff"/><circle cx="335.72" cy="534.3" r="0.68" fill="#2626ff"/><circle cx="341.26" cy="531.48" r="0.68" fill="#2626ff"/><circle cx="346.79" cy="531.48" r="0.68" fill="#2626ff"/><circle cx="352.33" cy="525.85" r="0.68" fill="#2626ff"/><circle cx="357.86" cy="520.22" r="0.68" fill="#2626ff"/><circle cx="363.4" cy="518.82" r="0.68" fill="#2626ff"/><circle cx="368.93" cy="514.6" r="0.68" fill="#2626ff"/><circle cx="374.47" cy="497.71" r="0.68" fill="#2626ff"/><circle cx="380" cy="492.08" r="0.68" fill="#2626ff"/><circle cx="385.54" cy="491.24" r="0.68" fill="#2626ff"/><circle cx="391.08" cy="487.86" r="0.68" fill="#2626ff"/><circle cx="396.61" cy="483.64" r="0.68" fill="#2626ff"/><circle cx="402.15" cy="483.64" r="0.68" fill="#2626ff"/><circle cx="407.68" cy="480.82" r="0.68" fill="#2626ff"/><circle cx="413.22" cy="478.01" r="0.68" fill="#2626ff"/><circle cx="418.75" cy="473.79" r="0.68" fill="#2626ff"/><circle cx="424.29" cy="470.97" r="0.68" fill="#2626ff"/><circle cx="429.82" cy="469.56" r="0.68" fill="#2626ff"/><circle cx="435.36" cy="466.75" r="0.68" fill="#2626ff"/><circle cx="440.9" cy="462.81" r="0.68" fill="#2626ff"/><circle cx="446.43" cy="461.12" r="0.68" fill="#2626ff"/><circle cx="451.97" cy="444.23" r="0.68" fill="#2626ff"/><circle cx="457.5" cy="435.79" r="0.68" fill="#2626ff"/><circle cx="463.04" cy="432.98" r="0.68" fill="#2626ff"/><circle cx="468.57" cy="410.46" r="0.68" fill="#2626ff"/><circle cx="474.11" cy="402.02" r="0.68" fill="#2626ff"/><circle cx="479.64" cy="399.2" r="0.68" fill="#2626ff"/><circle cx="485.18" cy="396.39" r="0.68" fill="#2626ff"/><circle cx="490.72" cy="382.32" r="0.68" fill="#2626ff"/><circle cx="496.25" cy="368.24" r="0.68" fill="#2626ff"/></g>
<path d="M42.34 591.7 L44.62 591 L46.9 590.3 L49.18 589.6 L51.46 588.9 L53.74 588.2 L56.02 587.5 L58.3 586.81 L60.58 586.11 L62.86 585.41 L65.15 584.72 L67.43 584.02 L69.71 583.33 L71.99 582.63 L74.27 581.94 L76.55 581.25 L78.83 580.55 L81.11 579.86 L83.39 579.17 L85.67 578.48 L87.96 577.78 L90.24 577.09 L92.52 576.4 L94.8 575.72 L97.08 575.03 L99.36 574.35 L101.64 573.67 L103.92 573 L106.2 572.32 L108.48 571.65 L110.77 570.98 L113.05 570.31 L115.33 569.64 L117.61 568.97 L119.89 568.29 L122.17 567.62 L124.45 566.94 L126.73 566.27 L129.01 565.58 L131.29 564.9 L133.57 564.21 L135.86 563.52 L138.14 562.83 L140.42 562.12 L142.7 561.42 L144.98 560.71 L147.26 559.99 L149.54 559.26 L151.82 558.52 L154.1 557.78 L156.38 557.02 L158.67 556.26 L160.95 555.49 L163.23 554.72 L165.51 553.94 L167.79 553.15 L170.07 552.37 L172.35 551.58 L174.63 550.79 L176.91 550 L179.19 549.22 L181.48 548.43 L183.76 547.65 L186.04 546.87 L188.32 546.1 L190.6 545.33 L192.88 544.57 L195.16 543.81 L197.44 543.07 L199.72 542.33 L202 541.6 L204.29 540.89 L206.57 540.18 L208.85 539.48 L211.13 538.78 L213.41 538.09 L215.69 537.4 L217.97 536.72 L220.25 536.04 L222.53 535.37 L224.81 534.69 L227.1 534.03 L229.38 533.36 L231.66 532.7 L233.94 532.04 L236.22 531.38 L238.5 530.72 L240.78 530.06 L243.06 529.4 L245.34 528.74 L247.62 528.08 L249.9 527.43 L252.19 526.77 L254.47 526.1 L256.75 525.44 L259.03 524.77 L261.31 524.11 L263.59 523.44 L265.87 522.78 L268.15 522.11 L270.43 521.45 L272.71 520.78 L275 520.12 L277.28 519.45 L279.56 518.79 L281.84 518.13 L284.12 517.47 L286.4 516.8 L288.68 516.14 L290.96 515.48 L293.24 514.82 L295.52 514.16 L297.81 513.5 L300.09 512.84 L302.37 512.18 L304.65 511.52 L306.93 510.87 L309.21 510.21 L311.49 509.55 L313.77 508.89 L316.05 508.24 L318.33 507.58 L320.62 506.93 L322.9 506.27 L325.18 505.62 L327.46 504.96 L329.74 504.31 L332.02 503.66 L334.3 503.01 L336.58 502.37 L338.86 501.73 L341.14 501.09 L343.43 500.45 L345.71 499.82 L347.99 499.18 L350.27 498.55 L352.55 497.91 L354.83 497.28 L357.11 496.65 L359.39 496.01 L361.67 495.37 L363.95 494.73 L366.24 494.08 L368.52 493.44 L370.8 492.78 L373.08 492.13 L375.36 491.46 L377.64 490.79 L379.92 490.12 L382.2 489.44 L384.48 488.75 L386.76 488.05 L389.04 487.34 L391.33 486.63 L393.61 485.9 L395.89 485.18 L398.17 484.44 L400.45 483.7 L402.73 482.96 L405.01 482.21 L407.29 481.46 L409.57 480.71 L411.85 479.95 L414.14 479.19 L416.42 478.44 L418.7 477.68 L420.98 476.92 L423.26 476.17 L425.54 475.41 L427.82 474.66 L430.1 473.91 L432.38 473.17 L434.66 472.43 L436.95 471.7 L439.23 470.97 L441.51 470.25 L443.79 469.54 L446.07 468.83 L448.35 468.13 L450.63 467.44 L452.91 466.74 L455.19 466.05 L457.47 465.36 L459.76 464.68 L462.04 464 L464.32 463.32 L466.6 462.64 L468.88 461.97 L471.16 461.29 L473.44 460.63 L475.72 459.96 L478 459.3 L480.28 458.64 L482.57 457.98 L484.85 457.32 L487.13 456.67 L489.41 456.02 L491.69 455.37 L493.97 454.73 L496.25 454.08" fill="none" stroke="#22ee22" stroke-width="0.8"/>
<path d="M42.34 593.3 L44.62 593.24 L46.9 593.18 L49.18 593.1 L51.46 593.02 L53.74 592.93 L56.02 592.83 L58.3 592.72 L60.58 592.61 L62.86 592.49 L65.15 592.37 L67.43 592.24 L69.71 592.11 L71.99 591.97 L74.27 591.82 L76.55 591.67 L78.83 591.52 L81.11 591.37 L83.39 591.21 L85.67 591.05 L87.96 590.89 L90.24 590.72 L92.52 590.56 L94.8 590.39 L97.08 590.2 L99.36 590 L101.64 589.79 L103.92 589.57 L106.2 589.34 L108.48 589.09 L110.77 588.84 L113.05 588.57 L115.33 588.3 L117.61 588.02 L119.89 587.72 L122.17 587.42 L124.45 587.11 L126.73 586.79 L129.01 586.46 L131.29 586.13 L133.57 585.79 L135.86 585.44 L138.14 585.08 L140.42 584.72 L142.7 584.35 L144.98 583.97 L147.26 583.59 L149.54 583.2 L151.82 582.79 L154.1 582.35 L156.38 581.9 L158.67 581.43 L160.95 580.94 L163.23 580.43 L165.51 579.91 L167.79 579.37 L170.07 578.82 L172.35 578.25 L174.63 577.67 L176.91 577.08 L179.19 576.48 L181.48 575.87 L183.76 575.24 L186.04 574.61 L188.32 573.97 L190.6 573.33 L192.88 572.67 L195.16 572.01 L197.44 571.35 L199.72 570.68 L202 570.01 L204.29 569.34 L206.57 568.64 L208.85 567.93 L211.13 567.21 L213.41 566.47 L215.69 565.71 L217.97 564.94 L220.25 564.15 L222.53 563.36 L224.81 562.55 L227.1 561.73 L229.38 560.89 L231.66 560.05 L233.94 559.2 L236.22 558.34 L238.5 557.48 L240.78 556.6 L243.06 555.73 L245.34 554.84 L247.62 553.95 L249.9 553.06 L252.19 552.16 L254.47 551.26 L256.75 550.36 L259.03 549.46 L261.31 548.55 L263.59 547.63 L265.87 546.71 L268.15 545.79 L270.43 544.85 L272.71 543.91 L275 542.97 L277.28 542.01 L279.56 541.05 L281.84 540.09 L284.12 539.12 L286.4 538.14 L288.68 537.15 L290.96 536.16 L293.24 535.16 L295.52 534.15 L297.81 533.14 L300.09 532.11 L302.37 531.09 L304.65 530.05 L306.93 529.01 L309.21 527.96 L311.49 526.9 L313.77 525.84 L316.05 524.77 L318.33 523.69 L320.62 522.61 L322.9 521.51 L325.18 520.41 L327.46 519.31 L329.74 518.19 L332.02 517.07 L334.3 515.94 L336.58 514.79 L338.86 513.64 L341.14 512.48 L343.43 511.3 L345.71 510.12 L347.99 508.93 L350.27 507.72 L352.55 506.5 L354.83 505.28 L357.11 504.04 L359.39 502.79 L361.67 501.52 L363.95 500.25 L366.24 498.96 L368.52 497.67 L370.8 496.36 L373.08 495.03 L375.36 493.7 L377.64 492.35 L379.92 490.99 L382.2 489.61 L384.48 488.22 L386.76 486.8 L389.04 485.36 L391.33 483.89 L393.61 482.41 L395.89 480.9 L398.17 479.38 L400.45 477.83 L402.73 476.28 L405.01 474.7 L407.29 473.12 L409.57 471.52 L411.85 469.91 L414.14 468.3 L416.42 466.68 L418.7 465.05 L420.98 463.42 L423.26 461.78 L425.54 460.15 L427.82 458.51 L430.1 456.88 L432.38 455.25 L434.66 453.62 L436.95 452 L439.23 450.39 L441.51 448.78 L443.79 447.19 L446.07 445.61 L448.35 444.04 L450.63 442.46 L452.91 440.89 L455.19 439.32 L457.47 437.75 L459.76 436.17 L462.04 434.6 L464.32 433.03 L466.6 431.46 L468.88 429.89 L471.16 428.31 L473.44 426.74 L475.72 425.17 L478 423.6 L480.28 422.03 L482.57 420.45 L484.85 418.88 L487.13 417.31 L489.41 415.74 L491.69 414.17 L493.97 412.6 L496.25 411.02" fill="none" stroke="#2ae6ee" stroke-width="0.95" stroke-dasharray="2.6 0.5 0.6 0.5"/>
<path d="M42.34 591.7 L44.62 591 L46.9 590.3 L49.18 589.6 L51.46 588.9 L53.74 588.2 L56.02 587.5 L58.3 586.81 L60.58 586.11 L62.86 585.41 L65.15 584.72 L67.43 584.02 L69.71 583.33 L71.99 582.63 L74.27 581.94 L76.55 581.25 L78.83 580.55 L81.11 579.86 L83.39 579.17 L85.67 578.48 L87.96 577.78 L90.24 577.09 L92.52 576.4 L94.8 575.72 L97.08 575.03 L99.36 574.35 L101.64 573.67 L103.92 572.99 L106.2 572.32 L108.48 571.64 L110.77 570.97 L113.05 570.3 L115.33 569.62 L117.61 568.95 L119.89 568.28 L122.17 567.6 L124.45 566.93 L126.73 566.25 L129.01 565.57 L131.29 564.88 L133.57 564.2 L135.86 563.5 L138.14 562.81 L140.42 562.11 L142.7 561.41 L144.98 560.7 L147.26 559.99 L149.54 559.27 L151.82 558.54 L154.1 557.8 L156.38 557.05 L158.67 556.3 L160.95 555.54 L163.23 554.78 L165.51 554.02 L167.79 553.25 L170.07 552.48 L172.35 551.7 L174.63 550.93 L176.91 550.16 L179.19 549.38 L181.48 548.61 L183.76 547.84 L186.04 547.08 L188.32 546.32 L190.6 545.56 L192.88 544.81 L195.16 544.07 L197.44 543.33 L199.72 542.6 L202 541.88 L204.29 541.17 L206.57 540.47 L208.85 539.77 L211.13 539.07 L213.41 538.38 L215.69 537.7 L217.97 537.01 L220.25 536.33 L222.53 535.66 L224.81 534.98 L227.1 534.31 L229.38 533.65 L231.66 532.98 L233.94 532.32 L236.22 531.65 L238.5 530.99 L240.78 530.33 L243.06 529.67 L245.34 529.02 L247.62 528.36 L249.9 527.7 L252.19 527.04 L254.47 526.38 L256.75 525.72 L259.03 525.06 L261.31 524.4 L263.59 523.74 L265.87 523.08 L268.15 522.42 L270.43 521.76 L272.71 521.11 L275 520.45 L277.28 519.8 L279.56 519.14 L281.84 518.49 L284.12 517.84 L286.4 517.19 L288.68 516.54 L290.96 515.89 L293.24 515.24 L295.52 514.59 L297.81 513.94 L300.09 513.29 L302.37 512.64 L304.65 512 L306.93 511.35 L309.21 510.7 L311.49 510.05 L313.77 509.41 L316.05 508.76 L318.33 508.11 L320.62 507.46 L322.9 506.82 L325.18 506.17 L327.46 505.52 L329.74 504.87 L332.02 504.22 L334.3 503.57 L336.58 502.92 L338.86 502.27 L341.14 501.62 L343.43 500.97 L345.71 500.32 L347.99 499.67 L350.27 499.02 L352.55 498.37 L354.83 497.72 L357.11 497.07 L359.39 496.42 L361.67 495.77 L363.95 495.13 L366.24 494.48 L368.52 493.83 L370.8 493.19 L373.08 492.55 L375.36 491.9 L377.64 491.26 L379.92 490.63 L382.2 489.99 L384.48 489.35 L386.76 488.71 L389.04 488.07 L391.33 487.42 L393.61 486.77 L395.89 486.12 L398.17 485.47 L400.45 484.82 L402.73 484.16 L405.01 483.51 L407.29 482.86 L409.57 482.21 L411.85 481.57 L414.14 480.92 L416.42 480.28 L418.7 479.64 L420.98 479.01 L423.26 478.38 L425.54 477.76 L427.82 477.14 L430.1 476.53 L432.38 475.92 L434.66 475.33 L436.95 474.74 L439.23 474.15 L441.51 473.58 L443.79 473.02 L446.07 472.47 L448.35 471.92 L450.63 471.38 L452.91 470.85 L455.19 470.32 L457.47 469.79 L459.76 469.27 L462.04 468.76 L464.32 468.25 L466.6 467.74 L468.88 467.25 L471.16 466.75 L473.44 466.26 L475.72 465.78 L478 465.3 L480.28 464.83 L482.57 464.37 L484.85 463.91 L487.13 463.45 L489.41 463 L491.69 462.56 L493.97 462.12 L496.25 461.68" fill="none" stroke="#ff5555" stroke-width="0.7" stroke-dasharray="3.9 1.7"/>
<path d="M42.34 592.43 L44.62 592.03 L46.9 591.62 L49.18 591.22 L51.46 590.8 L53.74 590.39 L56.02 589.97 L58.3 589.55 L60.58 589.13 L62.86 588.7 L65.15 588.27 L67.43 587.84 L69.71 587.4 L71.99 586.97 L74.27 586.53 L76.55 586.08 L78.83 585.64 L81.11 585.19 L83.39 584.74 L85.67 584.29 L87.96 583.83 L90.24 583.37 L92.52 582.91 L94.8 582.45 L97.08 581.99 L99.36 581.53 L101.64 581.07 L103.92 580.6 L106.2 580.14 L108.48 579.67 L110.77 579.2 L113.05 578.73 L115.33 578.25 L117.61 577.77 L119.89 577.29 L122.17 576.8 L124.45 576.3 L126.73 575.8 L129.01 575.29 L131.29 574.78 L133.57 574.26 L135.86 573.73 L138.14 573.19 L140.42 572.64 L142.7 572.09 L144.98 571.52 L147.26 570.95 L149.54 570.36 L151.82 569.75 L154.1 569.13 L156.38 568.49 L158.67 567.84 L160.95 567.17 L163.23 566.49 L165.51 565.8 L167.79 565.1 L170.07 564.39 L172.35 563.67 L174.63 562.95 L176.91 562.22 L179.19 561.49 L181.48 560.76 L183.76 560.02 L186.04 559.29 L188.32 558.56 L190.6 557.83 L192.88 557.1 L195.16 556.38 L197.44 555.67 L199.72 554.96 L202 554.26 L204.29 553.57 L206.57 552.89 L208.85 552.2 L211.13 551.53 L213.41 550.85 L215.69 550.18 L217.97 549.52 L220.25 548.85 L222.53 548.18 L224.81 547.51 L227.1 546.85 L229.38 546.18 L231.66 545.51 L233.94 544.84 L236.22 544.16 L238.5 543.48 L240.78 542.8 L243.06 542.11 L245.34 541.42 L247.62 540.73 L249.9 540.02 L252.19 539.31 L254.47 538.59 L256.75 537.87 L259.03 537.13 L261.31 536.39 L263.59 535.65 L265.87 534.9 L268.15 534.15 L270.43 533.4 L272.71 532.64 L275 531.88 L277.28 531.11 L279.56 530.34 L281.84 529.57 L284.12 528.79 L286.4 528.01 L288.68 527.22 L290.96 526.43 L293.24 525.63 L295.52 524.83 L297.81 524.03 L300.09 523.22 L302.37 522.4 L304.65 521.58 L306.93 520.76 L309.21 519.93 L311.49 519.1 L313.77 518.26 L316.05 517.41 L318.33 516.56 L320.62 515.71 L322.9 514.85 L325.18 513.98 L327.46 513.11 L329.74 512.23 L332.02 511.35 L334.3 510.46 L336.58 509.56 L338.86 508.65 L341.14 507.74 L343.43 506.81 L345.71 505.88 L347.99 504.94 L350.27 504 L352.55 503.04 L354.83 502.08 L357.11 501.12 L359.39 500.15 L361.67 499.17 L363.95 498.18 L366.24 497.19 L368.52 496.19 L370.8 495.19 L373.08 494.18 L375.36 493.16 L377.64 492.14 L379.92 491.12 L382.2 490.09 L384.48 489.05 L386.76 488 L389.04 486.94 L391.33 485.87 L393.61 484.79 L395.89 483.7 L398.17 482.61 L400.45 481.5 L402.73 480.39 L405.01 479.27 L407.29 478.15 L409.57 477.02 L411.85 475.88 L414.14 474.74 L416.42 473.6 L418.7 472.46 L420.98 471.31 L423.26 470.16 L425.54 469.02 L427.82 467.87 L430.1 466.72 L432.38 465.58 L434.66 464.43 L436.95 463.29 L439.23 462.15 L441.51 461.02 L443.79 459.89 L446.07 458.77 L448.35 457.65 L450.63 456.53 L452.91 455.4 L455.19 454.28 L457.47 453.16 L459.76 452.04 L462.04 450.92 L464.32 449.8 L466.6 448.68 L468.88 447.56 L471.16 446.44 L473.44 445.32 L475.72 444.2 L478 443.07 L480.28 441.95 L482.57 440.83 L484.85 439.71 L487.13 438.59 L489.41 437.47 L491.69 436.35 L493.97 435.22 L496.25 434.1" fill="none" stroke="#f7c6f3" stroke-width="0.7" stroke-dasharray="0.6 0.5"/>
<g><polygon points="42.34,590.81 40.82,593.61 43.86,593.61" fill="none" stroke="#ff30b0" stroke-width="0.5" stroke-linejoin="miter"/><polygon points="47.87,589.79 46.35,592.59 49.39,592.59" fill="none" stroke="#ff30b0" stroke-width="0.5" stroke-linejoin="miter"/><polygon points="53.41,588.76 51.89,591.56 54.93,591.56" fill="none" stroke="#ff30b0" stroke-width="0.5" stroke-linejoin="miter"/><polygon points="58.94,587.72 57.42,590.52 60.46,590.52" fill="none" stroke="#ff30b0" stroke-width="0.5" stroke-linejoin="miter"/><polygon points="64.48,586.66 62.96,589.46 66,589.46" fill="none" stroke="#ff30b0" stroke-width="0.5" stroke-linejoin="miter"/><polygon points="70.01,585.58 68.49,588.38 71.53,588.38" fill="none" stroke="#ff30b0" stroke-width="0.5" stroke-linejoin="miter"/><polygon points="75.55,584.48 74.03,587.28 77.07,587.28" fill="none" stroke="#ff30b0" stroke-width="0.5" stroke-linejoin="miter"/><polygon points="81.08,583.37 79.56,586.17 82.6,586.17" fill="none" stroke="#ff30b0" stroke-width="0.5" stroke-linejoin="miter"/><polygon points="86.62,582.25 85.1,585.05 88.14,585.05" fill="none" stroke="#ff30b0" stroke-width="0.5" stroke-linejoin="miter"/><polygon points="92.16,581.11 90.64,583.91 93.68,583.91" fill="none" stroke="#ff30b0" stroke-width="0.5" stroke-linejoin="miter"/><polygon points="97.69,579.96 96.17,582.76 99.21,582.76" fill="none" stroke="#ff30b0" stroke-width="0.5" stroke-linejoin="miter"/><polygon points="103.23,578.81 101.71,581.61 104.75,581.61" fill="none" stroke="#ff30b0" stroke-width="0.5" stroke-linejoin="miter"/><polygon points="108.76,577.64 107.24,580.44 110.28,580.44" fill="none" stroke="#ff30b0" stroke-width="0.5" stroke-linejoin="miter"/><polygon points="114.3,576.47 112.78,579.27 115.82,579.27" fill="none" stroke="#ff30b0" stroke-width="0.5" stroke-linejoin="miter"/><polygon points="119.83,575.26 118.31,578.06 121.35,578.06" fill="none" stroke="#ff30b0" stroke-width="0.5" stroke-linejoin="miter"/><polygon points="125.37,574.04 123.85,576.84 126.89,576.84" fill="none" stroke="#ff30b0" stroke-width="0.5" stroke-linejoin="miter"/><polygon points="130.9,572.77 129.38,575.57 132.42,575.57" fill="none" stroke="#ff30b0" stroke-width="0.5" stroke-linejoin="miter"/><polygon points="136.44,571.47 134.92,574.27 137.96,574.27" fill="none" stroke="#ff30b0" stroke-width="0.5" stroke-linejoin="miter"/><polygon points="141.98,570.12 140.46,572.92 143.5,572.92" fill="none" stroke="#ff30b0" stroke-width="0.5" stroke-linejoin="miter"/><polygon points="147.51,568.72 145.99,571.52 149.03,571.52" fill="none" stroke="#ff30b0" stroke-width="0.5" stroke-linejoin="miter"/><polygon points="153.05,567.24 151.53,570.04 154.57,570.04" fill="none" stroke="#ff30b0" stroke-width="0.5" stroke-linejoin="miter"/><polygon points="158.58,565.67 157.06,568.47 160.1,568.47" fill="none" stroke="#ff30b0" stroke-width="0.5" stroke-linejoin="miter"/><polygon points="164.12,564.03 162.6,566.83 165.64,566.83" fill="none" stroke="#ff30b0" stroke-width="0.5" stroke-linejoin="miter"/><polygon points="169.65,562.33 168.13,565.13 171.17,565.13" fill="none" stroke="#ff30b0" stroke-width="0.5" stroke-linejoin="miter"/><polygon points="175.19,560.59 173.67,563.39 176.71,563.39" fill="none" stroke="#ff30b0" stroke-width="0.5" stroke-linejoin="miter"/><polygon points="180.72,558.82 179.2,561.62 182.24,561.62" fill="none" stroke="#ff30b0" stroke-width="0.5" stroke-linejoin="miter"/><polygon points="186.26,557.04 184.74,559.84 187.78,559.84" fill="none" stroke="#ff30b0" stroke-width="0.5" stroke-linejoin="miter"/><polygon points="191.8,555.28 190.28,558.08 193.32,558.08" fill="none" stroke="#ff30b0" stroke-width="0.5" stroke-linejoin="miter"/><polygon points="197.33,553.54 195.81,556.34 198.85,556.34" fill="none" stroke="#ff30b0" stroke-width="0.5" stroke-linejoin="miter"/><polygon points="202.87,551.83 201.35,554.63 204.39,554.63" fill="none" stroke="#ff30b0" stroke-width="0.5" stroke-linejoin="miter"/><polygon points="208.4,550.17 206.88,552.97 209.92,552.97" fill="none" stroke="#ff30b0" stroke-width="0.5" stroke-linejoin="miter"/><polygon points="213.94,548.54 212.42,551.34 215.46,551.34" fill="none" stroke="#ff30b0" stroke-width="0.5" stroke-linejoin="miter"/><polygon points="219.47,546.91 217.95,549.71 220.99,549.71" fill="none" stroke="#ff30b0" stroke-width="0.5" stroke-linejoin="miter"/><polygon points="225.01,545.29 223.49,548.09 226.53,548.09" fill="none" stroke="#ff30b0" stroke-width="0.5" stroke-linejoin="miter"/><polygon points="230.54,543.67 229.02,546.47 232.06,546.47" fill="none" stroke="#ff30b0" stroke-width="0.5" stroke-linejoin="miter"/><polygon points="236.08,542.04 234.56,544.84 237.6,544.84" fill="none" stroke="#ff30b0" stroke-width="0.5" stroke-linejoin="miter"/><polygon points="241.62,540.39 240.1,543.19 243.14,543.19" fill="none" stroke="#ff30b0" stroke-width="0.5" stroke-linejoin="miter"/><polygon points="247.15,538.71 245.63,541.51 248.67,541.51" fill="none" stroke="#ff30b0" stroke-width="0.5" stroke-linejoin="miter"/><polygon points="252.69,536.99 251.17,539.79 254.21,539.79" fill="none" stroke="#ff30b0" stroke-width="0.5" stroke-linejoin="miter"/><polygon points="258.22,535.23 256.7,538.03 259.74,538.03" fill="none" stroke="#ff30b0" stroke-width="0.5" stroke-linejoin="miter"/><polygon points="263.76,533.43 262.24,536.23 265.28,536.23" fill="none" stroke="#ff30b0" stroke-width="0.5" stroke-linejoin="miter"/><polygon points="269.29,531.61 267.77,534.41 270.81,534.41" fill="none" stroke="#ff30b0" stroke-width="0.5" stroke-linejoin="miter"/><polygon points="274.83,529.77 273.31,532.57 276.35,532.57" fill="none" stroke="#ff30b0" stroke-width="0.5" stroke-linejoin="miter"/><polygon points="280.36,527.91 278.84,530.71 281.88,530.71" fill="none" stroke="#ff30b0" stroke-width="0.5" stroke-linejoin="miter"/><polygon points="285.9,526.02 284.38,528.82 287.42,528.82" fill="none" stroke="#ff30b0" stroke-width="0.5" stroke-linejoin="miter"/><polygon points="291.44,524.1 289.92,526.9 292.96,526.9" fill="none" stroke="#ff30b0" stroke-width="0.5" stroke-linejoin="miter"/><polygon points="296.97,522.16 295.45,524.96 298.49,524.96" fill="none" stroke="#ff30b0" stroke-width="0.5" stroke-linejoin="miter"/><polygon points="302.51,520.19 300.99,522.99 304.03,522.99" fill="none" stroke="#ff30b0" stroke-width="0.5" stroke-linejoin="miter"/><polygon points="308.04,518.19 306.52,520.99 309.56,520.99" fill="none" stroke="#ff30b0" stroke-width="0.5" stroke-linejoin="miter"/><polygon points="313.58,516.17 312.06,518.97 315.1,518.97" fill="none" stroke="#ff30b0" stroke-width="0.5" stroke-linejoin="miter"/><polygon points="319.11,514.11 317.59,516.91 320.63,516.91" fill="none" stroke="#ff30b0" stroke-width="0.5" stroke-linejoin="miter"/><polygon points="324.65,512.02 323.13,514.82 326.17,514.82" fill="none" stroke="#ff30b0" stroke-width="0.5" stroke-linejoin="miter"/><polygon points="330.18,509.9 328.66,512.7 331.7,512.7" fill="none" stroke="#ff30b0" stroke-width="0.5" stroke-linejoin="miter"/><polygon points="335.72,507.75 334.2,510.55 337.24,510.55" fill="none" stroke="#ff30b0" stroke-width="0.5" stroke-linejoin="miter"/><polygon points="341.26,505.55 339.74,508.35 342.78,508.35" fill="none" stroke="#ff30b0" stroke-width="0.5" stroke-linejoin="miter"/><polygon points="346.79,503.32 345.27,506.12 348.31,506.12" fill="none" stroke="#ff30b0" stroke-width="0.5" stroke-linejoin="miter"/><polygon points="352.33,501.05 350.81,503.85 353.85,503.85" fill="none" stroke="#ff30b0" stroke-width="0.5" stroke-linejoin="miter"/><polygon points="357.86,498.73 356.34,501.53 359.38,501.53" fill="none" stroke="#ff30b0" stroke-width="0.5" stroke-linejoin="miter"/><polygon points="363.4,496.37 361.88,499.17 364.92,499.17" fill="none" stroke="#ff30b0" stroke-width="0.5" stroke-linejoin="miter"/><polygon points="368.93,493.95 367.41,496.75 370.45,496.75" fill="none" stroke="#ff30b0" stroke-width="0.5" stroke-linejoin="miter"/><polygon points="374.47,491.48 372.95,494.28 375.99,494.28" fill="none" stroke="#ff30b0" stroke-width="0.5" stroke-linejoin="miter"/><polygon points="380,488.95 378.48,491.75 381.52,491.75" fill="none" stroke="#ff30b0" stroke-width="0.5" stroke-linejoin="miter"/><polygon points="385.54,486.36 384.02,489.16 387.06,489.16" fill="none" stroke="#ff30b0" stroke-width="0.5" stroke-linejoin="miter"/><polygon points="391.08,483.69 389.56,486.49 392.6,486.49" fill="none" stroke="#ff30b0" stroke-width="0.5" stroke-linejoin="miter"/><polygon points="396.61,480.94 395.09,483.74 398.13,483.74" fill="none" stroke="#ff30b0" stroke-width="0.5" stroke-linejoin="miter"/><polygon points="402.15,478.13 400.63,480.93 403.67,480.93" fill="none" stroke="#ff30b0" stroke-width="0.5" stroke-linejoin="miter"/><polygon points="407.68,475.25 406.16,478.05 409.2,478.05" fill="none" stroke="#ff30b0" stroke-width="0.5" stroke-linejoin="miter"/><polygon points="413.22,472.33 411.7,475.13 414.74,475.13" fill="none" stroke="#ff30b0" stroke-width="0.5" stroke-linejoin="miter"/><polygon points="418.75,469.36 417.23,472.16 420.27,472.16" fill="none" stroke="#ff30b0" stroke-width="0.5" stroke-linejoin="miter"/><polygon points="424.29,466.35 422.77,469.15 425.81,469.15" fill="none" stroke="#ff30b0" stroke-width="0.5" stroke-linejoin="miter"/><polygon points="429.82,463.33 428.3,466.13 431.34,466.13" fill="none" stroke="#ff30b0" stroke-width="0.5" stroke-linejoin="miter"/><polygon points="435.36,460.28 433.84,463.08 436.88,463.08" fill="none" stroke="#ff30b0" stroke-width="0.5" stroke-linejoin="miter"/><polygon points="440.9,457.23 439.38,460.03 442.42,460.03" fill="none" stroke="#ff30b0" stroke-width="0.5" stroke-linejoin="miter"/><polygon points="446.43,454.17 444.91,456.97 447.95,456.97" fill="none" stroke="#ff30b0" stroke-width="0.5" stroke-linejoin="miter"/><polygon points="451.97,451.11 450.45,453.91 453.49,453.91" fill="none" stroke="#ff30b0" stroke-width="0.5" stroke-linejoin="miter"/><polygon points="457.5,448 455.98,450.8 459.02,450.8" fill="none" stroke="#ff30b0" stroke-width="0.5" stroke-linejoin="miter"/><polygon points="463.04,444.87 461.52,447.67 464.56,447.67" fill="none" stroke="#ff30b0" stroke-width="0.5" stroke-linejoin="miter"/><polygon points="468.57,441.71 467.05,444.51 470.09,444.51" fill="none" stroke="#ff30b0" stroke-width="0.5" stroke-linejoin="miter"/><polygon points="474.11,438.51 472.59,441.31 475.63,441.31" fill="none" stroke="#ff30b0" stroke-width="0.5" stroke-linejoin="miter"/><polygon points="479.64,435.29 478.12,438.09 481.16,438.09" fill="none" stroke="#ff30b0" stroke-width="0.5" stroke-linejoin="miter"/><polygon points="485.18,432.04 483.66,434.84 486.7,434.84" fill="none" stroke="#ff30b0" stroke-width="0.5" stroke-linejoin="miter"/><polygon points="490.72,428.77 489.2,431.57 492.24,431.57" fill="none" stroke="#ff30b0" stroke-width="0.5" stroke-linejoin="miter"/><polygon points="496.25,425.47 494.73,428.27 497.77,428.27" fill="none" stroke="#ff30b0" stroke-width="0.5" stroke-linejoin="miter"/></g>
<g><polygon points="40.74,592.2 43.54,590.68 43.54,593.72" fill="none" stroke="#ff8a3c" stroke-width="0.5" stroke-linejoin="miter"/><polygon points="46.27,590.99 49.07,589.47 49.07,592.51" fill="none" stroke="#ff8a3c" stroke-width="0.5" stroke-linejoin="miter"/><polygon points="51.81,589.77 54.61,588.25 54.61,591.29" fill="none" stroke="#ff8a3c" stroke-width="0.5" stroke-linejoin="miter"/><polygon points="57.34,588.55 60.14,587.03 60.14,590.07" fill="none" stroke="#ff8a3c" stroke-width="0.5" stroke-linejoin="miter"/><polygon points="62.88,587.31 65.68,585.79 65.68,588.83" fill="none" stroke="#ff8a3c" stroke-width="0.5" stroke-linejoin="miter"/><polygon points="68.41,586.07 71.21,584.55 71.21,587.59" fill="none" stroke="#ff8a3c" stroke-width="0.5" stroke-linejoin="miter"/><polygon points="73.95,584.82 76.75,583.3 76.75,586.34" fill="none" stroke="#ff8a3c" stroke-width="0.5" stroke-linejoin="miter"/><polygon points="79.48,583.56 82.28,582.04 82.28,585.08" fill="none" stroke="#ff8a3c" stroke-width="0.5" stroke-linejoin="miter"/><polygon points="85.02,582.29 87.82,580.77 87.82,583.81" fill="none" stroke="#ff8a3c" stroke-width="0.5" stroke-linejoin="miter"/><polygon points="90.56,581.02 93.36,579.5 93.36,582.54" fill="none" stroke="#ff8a3c" stroke-width="0.5" stroke-linejoin="miter"/><polygon points="96.09,579.75 98.89,578.23 98.89,581.27" fill="none" stroke="#ff8a3c" stroke-width="0.5" stroke-linejoin="miter"/><polygon points="101.63,578.51 104.43,576.99 104.43,580.03" fill="none" stroke="#ff8a3c" stroke-width="0.5" stroke-linejoin="miter"/><polygon points="107.16,577.27 109.96,575.75 109.96,578.79" fill="none" stroke="#ff8a3c" stroke-width="0.5" stroke-linejoin="miter"/><polygon points="112.7,576.03 115.5,574.51 115.5,577.55" fill="none" stroke="#ff8a3c" stroke-width="0.5" stroke-linejoin="miter"/><polygon points="118.23,574.77 121.03,573.25 121.03,576.29" fill="none" stroke="#ff8a3c" stroke-width="0.5" stroke-linejoin="miter"/><polygon points="123.77,573.48 126.57,571.96 126.57,575" fill="none" stroke="#ff8a3c" stroke-width="0.5" stroke-linejoin="miter"/><polygon points="129.3,572.15 132.1,570.63 132.1,573.67" fill="none" stroke="#ff8a3c" stroke-width="0.5" stroke-linejoin="miter"/><polygon points="134.84,570.77 137.64,569.25 137.64,572.29" fill="none" stroke="#ff8a3c" stroke-width="0.5" stroke-linejoin="miter"/><polygon points="140.38,569.32 143.18,567.8 143.18,570.84" fill="none" stroke="#ff8a3c" stroke-width="0.5" stroke-linejoin="miter"/><polygon points="145.91,567.79 148.71,566.27 148.71,569.31" fill="none" stroke="#ff8a3c" stroke-width="0.5" stroke-linejoin="miter"/><polygon points="151.45,566.13 154.25,564.61 154.25,567.65" fill="none" stroke="#ff8a3c" stroke-width="0.5" stroke-linejoin="miter"/><polygon points="156.98,564.33 159.78,562.81 159.78,565.85" fill="none" stroke="#ff8a3c" stroke-width="0.5" stroke-linejoin="miter"/><polygon points="162.52,562.42 165.32,560.9 165.32,563.94" fill="none" stroke="#ff8a3c" stroke-width="0.5" stroke-linejoin="miter"/><polygon points="168.05,560.42 170.85,558.9 170.85,561.94" fill="none" stroke="#ff8a3c" stroke-width="0.5" stroke-linejoin="miter"/><polygon points="173.59,558.37 176.39,556.85 176.39,559.89" fill="none" stroke="#ff8a3c" stroke-width="0.5" stroke-linejoin="miter"/><polygon points="179.12,556.3 181.92,554.78 181.92,557.82" fill="none" stroke="#ff8a3c" stroke-width="0.5" stroke-linejoin="miter"/><polygon points="184.66,554.23 187.46,552.71 187.46,555.75" fill="none" stroke="#ff8a3c" stroke-width="0.5" stroke-linejoin="miter"/><polygon points="190.2,552.2 193,550.68 193,553.72" fill="none" stroke="#ff8a3c" stroke-width="0.5" stroke-linejoin="miter"/><polygon points="195.73,550.23 198.53,548.71 198.53,551.75" fill="none" stroke="#ff8a3c" stroke-width="0.5" stroke-linejoin="miter"/><polygon points="201.27,548.37 204.07,546.85 204.07,549.89" fill="none" stroke="#ff8a3c" stroke-width="0.5" stroke-linejoin="miter"/><polygon points="206.8,546.59 209.6,545.07 209.6,548.11" fill="none" stroke="#ff8a3c" stroke-width="0.5" stroke-linejoin="miter"/><polygon points="212.34,544.86 215.14,543.34 215.14,546.38" fill="none" stroke="#ff8a3c" stroke-width="0.5" stroke-linejoin="miter"/><polygon points="217.87,543.17 220.67,541.65 220.67,544.69" fill="none" stroke="#ff8a3c" stroke-width="0.5" stroke-linejoin="miter"/><polygon points="223.41,541.5 226.21,539.98 226.21,543.02" fill="none" stroke="#ff8a3c" stroke-width="0.5" stroke-linejoin="miter"/><polygon points="228.94,539.85 231.74,538.33 231.74,541.37" fill="none" stroke="#ff8a3c" stroke-width="0.5" stroke-linejoin="miter"/><polygon points="234.48,538.21 237.28,536.69 237.28,539.73" fill="none" stroke="#ff8a3c" stroke-width="0.5" stroke-linejoin="miter"/><polygon points="240.02,536.56 242.82,535.04 242.82,538.08" fill="none" stroke="#ff8a3c" stroke-width="0.5" stroke-linejoin="miter"/><polygon points="245.55,534.9 248.35,533.38 248.35,536.42" fill="none" stroke="#ff8a3c" stroke-width="0.5" stroke-linejoin="miter"/><polygon points="251.09,533.21 253.89,531.69 253.89,534.73" fill="none" stroke="#ff8a3c" stroke-width="0.5" stroke-linejoin="miter"/><polygon points="256.62,531.48 259.42,529.96 259.42,533" fill="none" stroke="#ff8a3c" stroke-width="0.5" stroke-linejoin="miter"/><polygon points="262.16,529.73 264.96,528.21 264.96,531.25" fill="none" stroke="#ff8a3c" stroke-width="0.5" stroke-linejoin="miter"/><polygon points="267.69,527.96 270.49,526.44 270.49,529.48" fill="none" stroke="#ff8a3c" stroke-width="0.5" stroke-linejoin="miter"/><polygon points="273.23,526.19 276.03,524.67 276.03,527.71" fill="none" stroke="#ff8a3c" stroke-width="0.5" stroke-linejoin="miter"/><polygon points="278.76,524.4 281.56,522.88 281.56,525.92" fill="none" stroke="#ff8a3c" stroke-width="0.5" stroke-linejoin="miter"/><polygon points="284.3,522.6 287.1,521.08 287.1,524.12" fill="none" stroke="#ff8a3c" stroke-width="0.5" stroke-linejoin="miter"/><polygon points="289.84,520.8 292.64,519.28 292.64,522.32" fill="none" stroke="#ff8a3c" stroke-width="0.5" stroke-linejoin="miter"/><polygon points="295.37,518.98 298.17,517.46 298.17,520.5" fill="none" stroke="#ff8a3c" stroke-width="0.5" stroke-linejoin="miter"/><polygon points="300.91,517.15 303.71,515.63 303.71,518.67" fill="none" stroke="#ff8a3c" stroke-width="0.5" stroke-linejoin="miter"/><polygon points="306.44,515.31 309.24,513.79 309.24,516.83" fill="none" stroke="#ff8a3c" stroke-width="0.5" stroke-linejoin="miter"/><polygon points="311.98,513.46 314.78,511.94 314.78,514.98" fill="none" stroke="#ff8a3c" stroke-width="0.5" stroke-linejoin="miter"/><polygon points="317.51,511.6 320.31,510.08 320.31,513.12" fill="none" stroke="#ff8a3c" stroke-width="0.5" stroke-linejoin="miter"/><polygon points="323.05,509.72 325.85,508.2 325.85,511.24" fill="none" stroke="#ff8a3c" stroke-width="0.5" stroke-linejoin="miter"/><polygon points="328.58,507.84 331.38,506.32 331.38,509.36" fill="none" stroke="#ff8a3c" stroke-width="0.5" stroke-linejoin="miter"/><polygon points="334.12,505.95 336.92,504.43 336.92,507.47" fill="none" stroke="#ff8a3c" stroke-width="0.5" stroke-linejoin="miter"/><polygon points="339.66,504.07 342.46,502.55 342.46,505.59" fill="none" stroke="#ff8a3c" stroke-width="0.5" stroke-linejoin="miter"/><polygon points="345.19,502.18 347.99,500.66 347.99,503.7" fill="none" stroke="#ff8a3c" stroke-width="0.5" stroke-linejoin="miter"/><polygon points="350.73,500.27 353.53,498.75 353.53,501.79" fill="none" stroke="#ff8a3c" stroke-width="0.5" stroke-linejoin="miter"/><polygon points="356.26,498.34 359.06,496.82 359.06,499.86" fill="none" stroke="#ff8a3c" stroke-width="0.5" stroke-linejoin="miter"/><polygon points="361.8,496.39 364.6,494.87 364.6,497.91" fill="none" stroke="#ff8a3c" stroke-width="0.5" stroke-linejoin="miter"/><polygon points="367.33,494.41 370.13,492.89 370.13,495.93" fill="none" stroke="#ff8a3c" stroke-width="0.5" stroke-linejoin="miter"/><polygon points="372.87,492.39 375.67,490.87 375.67,493.91" fill="none" stroke="#ff8a3c" stroke-width="0.5" stroke-linejoin="miter"/><polygon points="378.4,490.32 381.2,488.8 381.2,491.84" fill="none" stroke="#ff8a3c" stroke-width="0.5" stroke-linejoin="miter"/><polygon points="383.94,488.19 386.74,486.67 386.74,489.71" fill="none" stroke="#ff8a3c" stroke-width="0.5" stroke-linejoin="miter"/><polygon points="389.48,485.99 392.28,484.47 392.28,487.51" fill="none" stroke="#ff8a3c" stroke-width="0.5" stroke-linejoin="miter"/><polygon points="395.01,483.72 397.81,482.2 397.81,485.24" fill="none" stroke="#ff8a3c" stroke-width="0.5" stroke-linejoin="miter"/><polygon points="400.55,481.39 403.35,479.87 403.35,482.91" fill="none" stroke="#ff8a3c" stroke-width="0.5" stroke-linejoin="miter"/><polygon points="406.08,479.01 408.88,477.49 408.88,480.53" fill="none" stroke="#ff8a3c" stroke-width="0.5" stroke-linejoin="miter"/><polygon points="411.62,476.62 414.42,475.1 414.42,478.14" fill="none" stroke="#ff8a3c" stroke-width="0.5" stroke-linejoin="miter"/><polygon points="417.15,474.21 419.95,472.69 419.95,475.73" fill="none" stroke="#ff8a3c" stroke-width="0.5" stroke-linejoin="miter"/><polygon points="422.69,471.8 425.49,470.28 425.49,473.32" fill="none" stroke="#ff8a3c" stroke-width="0.5" stroke-linejoin="miter"/><polygon points="428.22,469.42 431.02,467.9 431.02,470.94" fill="none" stroke="#ff8a3c" stroke-width="0.5" stroke-linejoin="miter"/><polygon points="433.76,467.07 436.56,465.55 436.56,468.59" fill="none" stroke="#ff8a3c" stroke-width="0.5" stroke-linejoin="miter"/><polygon points="439.3,464.77 442.1,463.25 442.1,466.29" fill="none" stroke="#ff8a3c" stroke-width="0.5" stroke-linejoin="miter"/><polygon points="444.83,462.53 447.63,461.01 447.63,464.05" fill="none" stroke="#ff8a3c" stroke-width="0.5" stroke-linejoin="miter"/><polygon points="450.37,460.34 453.17,458.82 453.17,461.86" fill="none" stroke="#ff8a3c" stroke-width="0.5" stroke-linejoin="miter"/><polygon points="455.9,458.18 458.7,456.66 458.7,459.7" fill="none" stroke="#ff8a3c" stroke-width="0.5" stroke-linejoin="miter"/><polygon points="461.44,456.04 464.24,454.52 464.24,457.56" fill="none" stroke="#ff8a3c" stroke-width="0.5" stroke-linejoin="miter"/><polygon points="466.97,453.92 469.77,452.4 469.77,455.44" fill="none" stroke="#ff8a3c" stroke-width="0.5" stroke-linejoin="miter"/><polygon points="472.51,451.82 475.31,450.3 475.31,453.34" fill="none" stroke="#ff8a3c" stroke-width="0.5" stroke-linejoin="miter"/><polygon points="478.04,449.75 480.84,448.23 480.84,451.27" fill="none" stroke="#ff8a3c" stroke-width="0.5" stroke-linejoin="miter"/><polygon points="483.58,447.7 486.38,446.18 486.38,449.22" fill="none" stroke="#ff8a3c" stroke-width="0.5" stroke-linejoin="miter"/><polygon points="489.12,445.68 491.92,444.16 491.92,447.2" fill="none" stroke="#ff8a3c" stroke-width="0.5" stroke-linejoin="miter"/><polygon points="494.65,443.67 497.45,442.15 497.45,445.19" fill="none" stroke="#ff8a3c" stroke-width="0.5" stroke-linejoin="miter"/></g>
<g><polygon points="43.94,591.7 41.14,590.18 41.14,593.22" fill="none" stroke="#3333ff" stroke-width="0.5" stroke-linejoin="miter"/><polygon points="49.47,590 46.67,588.48 46.67,591.52" fill="none" stroke="#3333ff" stroke-width="0.5" stroke-linejoin="miter"/><polygon points="55.01,588.3 52.21,586.78 52.21,589.82" fill="none" stroke="#3333ff" stroke-width="0.5" stroke-linejoin="miter"/><polygon points="60.54,586.61 57.74,585.09 57.74,588.13" fill="none" stroke="#3333ff" stroke-width="0.5" stroke-linejoin="miter"/><polygon points="66.08,584.92 63.28,583.4 63.28,586.44" fill="none" stroke="#3333ff" stroke-width="0.5" stroke-linejoin="miter"/><polygon points="71.61,583.23 68.81,581.71 68.81,584.75" fill="none" stroke="#3333ff" stroke-width="0.5" stroke-linejoin="miter"/><polygon points="77.15,581.55 74.35,580.03 74.35,583.07" fill="none" stroke="#3333ff" stroke-width="0.5" stroke-linejoin="miter"/><polygon points="82.68,579.87 79.88,578.35 79.88,581.39" fill="none" stroke="#3333ff" stroke-width="0.5" stroke-linejoin="miter"/><polygon points="88.22,578.19 85.42,576.67 85.42,579.71" fill="none" stroke="#3333ff" stroke-width="0.5" stroke-linejoin="miter"/><polygon points="93.76,576.51 90.96,574.99 90.96,578.03" fill="none" stroke="#3333ff" stroke-width="0.5" stroke-linejoin="miter"/><polygon points="99.29,574.85 96.49,573.33 96.49,576.37" fill="none" stroke="#3333ff" stroke-width="0.5" stroke-linejoin="miter"/><polygon points="104.83,573.2 102.03,571.68 102.03,574.72" fill="none" stroke="#3333ff" stroke-width="0.5" stroke-linejoin="miter"/><polygon points="110.36,571.57 107.56,570.05 107.56,573.09" fill="none" stroke="#3333ff" stroke-width="0.5" stroke-linejoin="miter"/><polygon points="115.9,569.94 113.1,568.42 113.1,571.46" fill="none" stroke="#3333ff" stroke-width="0.5" stroke-linejoin="miter"/><polygon points="121.43,568.31 118.63,566.79 118.63,569.83" fill="none" stroke="#3333ff" stroke-width="0.5" stroke-linejoin="miter"/><polygon points="126.97,566.67 124.17,565.15 124.17,568.19" fill="none" stroke="#3333ff" stroke-width="0.5" stroke-linejoin="miter"/><polygon points="132.5,565.02 129.7,563.5 129.7,566.54" fill="none" stroke="#3333ff" stroke-width="0.5" stroke-linejoin="miter"/><polygon points="138.04,563.34 135.24,561.82 135.24,564.86" fill="none" stroke="#3333ff" stroke-width="0.5" stroke-linejoin="miter"/><polygon points="143.58,561.64 140.78,560.12 140.78,563.16" fill="none" stroke="#3333ff" stroke-width="0.5" stroke-linejoin="miter"/><polygon points="149.11,559.91 146.31,558.39 146.31,561.43" fill="none" stroke="#3333ff" stroke-width="0.5" stroke-linejoin="miter"/><polygon points="154.65,558.12 151.85,556.6 151.85,559.64" fill="none" stroke="#3333ff" stroke-width="0.5" stroke-linejoin="miter"/><polygon points="160.18,556.29 157.38,554.77 157.38,557.81" fill="none" stroke="#3333ff" stroke-width="0.5" stroke-linejoin="miter"/><polygon points="165.72,554.41 162.92,552.89 162.92,555.93" fill="none" stroke="#3333ff" stroke-width="0.5" stroke-linejoin="miter"/><polygon points="171.25,552.51 168.45,550.99 168.45,554.03" fill="none" stroke="#3333ff" stroke-width="0.5" stroke-linejoin="miter"/><polygon points="176.79,550.6 173.99,549.08 173.99,552.12" fill="none" stroke="#3333ff" stroke-width="0.5" stroke-linejoin="miter"/><polygon points="182.32,548.69 179.52,547.17 179.52,550.21" fill="none" stroke="#3333ff" stroke-width="0.5" stroke-linejoin="miter"/><polygon points="187.86,546.79 185.06,545.27 185.06,548.31" fill="none" stroke="#3333ff" stroke-width="0.5" stroke-linejoin="miter"/><polygon points="193.4,544.93 190.6,543.41 190.6,546.45" fill="none" stroke="#3333ff" stroke-width="0.5" stroke-linejoin="miter"/><polygon points="198.93,543.1 196.13,541.58 196.13,544.62" fill="none" stroke="#3333ff" stroke-width="0.5" stroke-linejoin="miter"/><polygon points="204.47,541.33 201.67,539.81 201.67,542.85" fill="none" stroke="#3333ff" stroke-width="0.5" stroke-linejoin="miter"/><polygon points="210,539.61 207.2,538.09 207.2,541.13" fill="none" stroke="#3333ff" stroke-width="0.5" stroke-linejoin="miter"/><polygon points="215.54,537.93 212.74,536.41 212.74,539.45" fill="none" stroke="#3333ff" stroke-width="0.5" stroke-linejoin="miter"/><polygon points="221.07,536.26 218.27,534.74 218.27,537.78" fill="none" stroke="#3333ff" stroke-width="0.5" stroke-linejoin="miter"/><polygon points="226.61,534.63 223.81,533.11 223.81,536.15" fill="none" stroke="#3333ff" stroke-width="0.5" stroke-linejoin="miter"/><polygon points="232.14,533.01 229.34,531.49 229.34,534.53" fill="none" stroke="#3333ff" stroke-width="0.5" stroke-linejoin="miter"/><polygon points="237.68,531.4 234.88,529.88 234.88,532.92" fill="none" stroke="#3333ff" stroke-width="0.5" stroke-linejoin="miter"/><polygon points="243.22,529.8 240.42,528.28 240.42,531.32" fill="none" stroke="#3333ff" stroke-width="0.5" stroke-linejoin="miter"/><polygon points="248.75,528.21 245.95,526.69 245.95,529.73" fill="none" stroke="#3333ff" stroke-width="0.5" stroke-linejoin="miter"/><polygon points="254.29,526.61 251.49,525.09 251.49,528.13" fill="none" stroke="#3333ff" stroke-width="0.5" stroke-linejoin="miter"/><polygon points="259.82,525.01 257.02,523.49 257.02,526.53" fill="none" stroke="#3333ff" stroke-width="0.5" stroke-linejoin="miter"/><polygon points="265.36,523.41 262.56,521.89 262.56,524.93" fill="none" stroke="#3333ff" stroke-width="0.5" stroke-linejoin="miter"/><polygon points="270.89,521.81 268.09,520.29 268.09,523.33" fill="none" stroke="#3333ff" stroke-width="0.5" stroke-linejoin="miter"/><polygon points="276.43,520.22 273.63,518.7 273.63,521.74" fill="none" stroke="#3333ff" stroke-width="0.5" stroke-linejoin="miter"/><polygon points="281.96,518.63 279.16,517.11 279.16,520.15" fill="none" stroke="#3333ff" stroke-width="0.5" stroke-linejoin="miter"/><polygon points="287.5,517.05 284.7,515.53 284.7,518.57" fill="none" stroke="#3333ff" stroke-width="0.5" stroke-linejoin="miter"/><polygon points="293.04,515.47 290.24,513.95 290.24,516.99" fill="none" stroke="#3333ff" stroke-width="0.5" stroke-linejoin="miter"/><polygon points="298.57,513.9 295.77,512.38 295.77,515.42" fill="none" stroke="#3333ff" stroke-width="0.5" stroke-linejoin="miter"/><polygon points="304.11,512.32 301.31,510.8 301.31,513.84" fill="none" stroke="#3333ff" stroke-width="0.5" stroke-linejoin="miter"/><polygon points="309.64,510.75 306.84,509.23 306.84,512.27" fill="none" stroke="#3333ff" stroke-width="0.5" stroke-linejoin="miter"/><polygon points="315.18,509.18 312.38,507.66 312.38,510.7" fill="none" stroke="#3333ff" stroke-width="0.5" stroke-linejoin="miter"/><polygon points="320.71,507.61 317.91,506.09 317.91,509.13" fill="none" stroke="#3333ff" stroke-width="0.5" stroke-linejoin="miter"/><polygon points="326.25,506.04 323.45,504.52 323.45,507.56" fill="none" stroke="#3333ff" stroke-width="0.5" stroke-linejoin="miter"/><polygon points="331.78,504.46 328.98,502.94 328.98,505.98" fill="none" stroke="#3333ff" stroke-width="0.5" stroke-linejoin="miter"/><polygon points="337.32,502.89 334.52,501.37 334.52,504.41" fill="none" stroke="#3333ff" stroke-width="0.5" stroke-linejoin="miter"/><polygon points="342.86,501.33 340.06,499.81 340.06,502.85" fill="none" stroke="#3333ff" stroke-width="0.5" stroke-linejoin="miter"/><polygon points="348.39,499.77 345.59,498.25 345.59,501.29" fill="none" stroke="#3333ff" stroke-width="0.5" stroke-linejoin="miter"/><polygon points="353.93,498.22 351.13,496.7 351.13,499.74" fill="none" stroke="#3333ff" stroke-width="0.5" stroke-linejoin="miter"/><polygon points="359.46,496.66 356.66,495.14 356.66,498.18" fill="none" stroke="#3333ff" stroke-width="0.5" stroke-linejoin="miter"/><polygon points="365,495.1 362.2,493.58 362.2,496.62" fill="none" stroke="#3333ff" stroke-width="0.5" stroke-linejoin="miter"/><polygon points="370.53,493.53 367.73,492.01 367.73,495.05" fill="none" stroke="#3333ff" stroke-width="0.5" stroke-linejoin="miter"/><polygon points="376.07,491.95 373.27,490.43 373.27,493.47" fill="none" stroke="#3333ff" stroke-width="0.5" stroke-linejoin="miter"/><polygon points="381.6,490.35 378.8,488.83 378.8,491.87" fill="none" stroke="#3333ff" stroke-width="0.5" stroke-linejoin="miter"/><polygon points="387.14,488.74 384.34,487.22 384.34,490.26" fill="none" stroke="#3333ff" stroke-width="0.5" stroke-linejoin="miter"/><polygon points="392.68,487.1 389.88,485.58 389.88,488.62" fill="none" stroke="#3333ff" stroke-width="0.5" stroke-linejoin="miter"/><polygon points="398.21,485.44 395.41,483.92 395.41,486.96" fill="none" stroke="#3333ff" stroke-width="0.5" stroke-linejoin="miter"/><polygon points="403.75,483.77 400.95,482.25 400.95,485.29" fill="none" stroke="#3333ff" stroke-width="0.5" stroke-linejoin="miter"/><polygon points="409.28,482.08 406.48,480.56 406.48,483.6" fill="none" stroke="#3333ff" stroke-width="0.5" stroke-linejoin="miter"/><polygon points="414.82,480.39 412.02,478.87 412.02,481.91" fill="none" stroke="#3333ff" stroke-width="0.5" stroke-linejoin="miter"/><polygon points="420.35,478.7 417.55,477.18 417.55,480.22" fill="none" stroke="#3333ff" stroke-width="0.5" stroke-linejoin="miter"/><polygon points="425.89,477.02 423.09,475.5 423.09,478.54" fill="none" stroke="#3333ff" stroke-width="0.5" stroke-linejoin="miter"/><polygon points="431.42,475.34 428.62,473.82 428.62,476.86" fill="none" stroke="#3333ff" stroke-width="0.5" stroke-linejoin="miter"/><polygon points="436.96,473.68 434.16,472.16 434.16,475.2" fill="none" stroke="#3333ff" stroke-width="0.5" stroke-linejoin="miter"/><polygon points="442.5,472.03 439.7,470.51 439.7,473.55" fill="none" stroke="#3333ff" stroke-width="0.5" stroke-linejoin="miter"/><polygon points="448.03,470.41 445.23,468.89 445.23,471.93" fill="none" stroke="#3333ff" stroke-width="0.5" stroke-linejoin="miter"/><polygon points="453.57,468.8 450.77,467.28 450.77,470.32" fill="none" stroke="#3333ff" stroke-width="0.5" stroke-linejoin="miter"/><polygon points="459.1,467.21 456.3,465.69 456.3,468.73" fill="none" stroke="#3333ff" stroke-width="0.5" stroke-linejoin="miter"/><polygon points="464.64,465.63 461.84,464.11 461.84,467.15" fill="none" stroke="#3333ff" stroke-width="0.5" stroke-linejoin="miter"/><polygon points="470.17,464.05 467.37,462.53 467.37,465.57" fill="none" stroke="#3333ff" stroke-width="0.5" stroke-linejoin="miter"/><polygon points="475.71,462.49 472.91,460.97 472.91,464.01" fill="none" stroke="#3333ff" stroke-width="0.5" stroke-linejoin="miter"/><polygon points="481.24,460.94 478.44,459.42 478.44,462.46" fill="none" stroke="#3333ff" stroke-width="0.5" stroke-linejoin="miter"/><polygon points="486.78,459.39 483.98,457.87 483.98,460.91" fill="none" stroke="#3333ff" stroke-width="0.5" stroke-linejoin="miter"/><polygon points="492.32,457.86 489.52,456.34 489.52,459.38" fill="none" stroke="#3333ff" stroke-width="0.5" stroke-linejoin="miter"/><polygon points="497.85,456.34 495.05,454.82 495.05,457.86" fill="none" stroke="#3333ff" stroke-width="0.5" stroke-linejoin="miter"/></g>
<g><path d="M41.14 591.15H43.54M42.34 589.95V592.35" stroke="#4a806a" stroke-width="0.55" fill="none"/><path d="M46.67 588.95H49.07M47.87 587.75V590.15" stroke="#4a806a" stroke-width="0.55" fill="none"/><path d="M52.21 586.78H54.61M53.41 585.58V587.98" stroke="#4a806a" stroke-width="0.55" fill="none"/><path d="M57.74 584.65H60.14M58.94 583.45V585.85" stroke="#4a806a" stroke-width="0.55" fill="none"/><path d="M63.28 582.57H65.68M64.48 581.37V583.77" stroke="#4a806a" stroke-width="0.55" fill="none"/><path d="M68.81 580.53H71.21M70.01 579.33V581.73" stroke="#4a806a" stroke-width="0.55" fill="none"/><path d="M74.35 578.54H76.75M75.55 577.34V579.74" stroke="#4a806a" stroke-width="0.55" fill="none"/><path d="M79.88 576.59H82.28M81.08 575.39V577.79" stroke="#4a806a" stroke-width="0.55" fill="none"/><path d="M85.42 574.7H87.82M86.62 573.5V575.9" stroke="#4a806a" stroke-width="0.55" fill="none"/><path d="M90.96 572.85H93.36M92.16 571.65V574.05" stroke="#4a806a" stroke-width="0.55" fill="none"/><path d="M96.49 571.08H98.89M97.69 569.88V572.28" stroke="#4a806a" stroke-width="0.55" fill="none"/><path d="M102.03 569.38H104.43M103.23 568.18V570.58" stroke="#4a806a" stroke-width="0.55" fill="none"/><path d="M107.56 567.74H109.96M108.76 566.54V568.94" stroke="#4a806a" stroke-width="0.55" fill="none"/><path d="M113.1 566.15H115.5M114.3 564.95V567.35" stroke="#4a806a" stroke-width="0.55" fill="none"/><path d="M118.63 564.58H121.03M119.83 563.38V565.78" stroke="#4a806a" stroke-width="0.55" fill="none"/><path d="M124.17 563.01H126.57M125.37 561.81V564.21" stroke="#4a806a" stroke-width="0.55" fill="none"/><path d="M129.7 561.45H132.1M130.9 560.25V562.65" stroke="#4a806a" stroke-width="0.55" fill="none"/><path d="M135.24 559.85H137.64M136.44 558.65V561.05" stroke="#4a806a" stroke-width="0.55" fill="none"/><path d="M140.78 558.22H143.18M141.98 557.02V559.42" stroke="#4a806a" stroke-width="0.55" fill="none"/><path d="M146.31 556.53H148.71M147.51 555.33V557.73" stroke="#4a806a" stroke-width="0.55" fill="none"/><path d="M151.85 554.77H154.25M153.05 553.57V555.97" stroke="#4a806a" stroke-width="0.55" fill="none"/><path d="M157.38 552.93H159.78M158.58 551.73V554.13" stroke="#4a806a" stroke-width="0.55" fill="none"/><path d="M162.92 551.06H165.32M164.12 549.86V552.26" stroke="#4a806a" stroke-width="0.55" fill="none"/><path d="M168.45 549.15H170.85M169.65 547.95V550.35" stroke="#4a806a" stroke-width="0.55" fill="none"/><path d="M173.99 547.24H176.39M175.19 546.04V548.44" stroke="#4a806a" stroke-width="0.55" fill="none"/><path d="M179.52 545.34H181.92M180.72 544.14V546.54" stroke="#4a806a" stroke-width="0.55" fill="none"/><path d="M185.06 543.47H187.46M186.26 542.27V544.67" stroke="#4a806a" stroke-width="0.55" fill="none"/><path d="M190.6 541.65H193M191.8 540.45V542.85" stroke="#4a806a" stroke-width="0.55" fill="none"/><path d="M196.13 539.9H198.53M197.33 538.7V541.1" stroke="#4a806a" stroke-width="0.55" fill="none"/><path d="M201.67 538.24H204.07M202.87 537.04V539.44" stroke="#4a806a" stroke-width="0.55" fill="none"/><path d="M207.2 536.66H209.6M208.4 535.46V537.86" stroke="#4a806a" stroke-width="0.55" fill="none"/><path d="M212.74 535.16H215.14M213.94 533.96V536.36" stroke="#4a806a" stroke-width="0.55" fill="none"/><path d="M218.27 533.7H220.67M219.47 532.5V534.9" stroke="#4a806a" stroke-width="0.55" fill="none"/><path d="M223.81 532.28H226.21M225.01 531.08V533.48" stroke="#4a806a" stroke-width="0.55" fill="none"/><path d="M229.34 530.89H231.74M230.54 529.69V532.09" stroke="#4a806a" stroke-width="0.55" fill="none"/><path d="M234.88 529.51H237.28M236.08 528.31V530.71" stroke="#4a806a" stroke-width="0.55" fill="none"/><path d="M240.42 528.13H242.82M241.62 526.93V529.33" stroke="#4a806a" stroke-width="0.55" fill="none"/><path d="M245.95 526.75H248.35M247.15 525.55V527.95" stroke="#4a806a" stroke-width="0.55" fill="none"/><path d="M251.49 525.33H253.89M252.69 524.13V526.53" stroke="#4a806a" stroke-width="0.55" fill="none"/><path d="M257.02 523.88H259.42M258.22 522.68V525.08" stroke="#4a806a" stroke-width="0.55" fill="none"/><path d="M262.56 522.39H264.96M263.76 521.19V523.59" stroke="#4a806a" stroke-width="0.55" fill="none"/><path d="M268.09 520.86H270.49M269.29 519.66V522.06" stroke="#4a806a" stroke-width="0.55" fill="none"/><path d="M273.63 519.3H276.03M274.83 518.1V520.5" stroke="#4a806a" stroke-width="0.55" fill="none"/><path d="M279.16 517.72H281.56M280.36 516.52V518.92" stroke="#4a806a" stroke-width="0.55" fill="none"/><path d="M284.7 516.13H287.1M285.9 514.93V517.33" stroke="#4a806a" stroke-width="0.55" fill="none"/><path d="M290.24 514.55H292.64M291.44 513.35V515.75" stroke="#4a806a" stroke-width="0.55" fill="none"/><path d="M295.77 512.97H298.17M296.97 511.77V514.17" stroke="#4a806a" stroke-width="0.55" fill="none"/><path d="M301.31 511.41H303.71M302.51 510.21V512.61" stroke="#4a806a" stroke-width="0.55" fill="none"/><path d="M306.84 509.87H309.24M308.04 508.67V511.07" stroke="#4a806a" stroke-width="0.55" fill="none"/><path d="M312.38 508.37H314.78M313.58 507.17V509.57" stroke="#4a806a" stroke-width="0.55" fill="none"/><path d="M317.91 506.92H320.31M319.11 505.72V508.12" stroke="#4a806a" stroke-width="0.55" fill="none"/><path d="M323.45 505.52H325.85M324.65 504.32V506.72" stroke="#4a806a" stroke-width="0.55" fill="none"/><path d="M328.98 504.18H331.38M330.18 502.98V505.38" stroke="#4a806a" stroke-width="0.55" fill="none"/><path d="M334.52 502.9H336.92M335.72 501.7V504.1" stroke="#4a806a" stroke-width="0.55" fill="none"/><path d="M340.06 501.65H342.46M341.26 500.45V502.85" stroke="#4a806a" stroke-width="0.55" fill="none"/><path d="M345.59 500.43H347.99M346.79 499.23V501.63" stroke="#4a806a" stroke-width="0.55" fill="none"/><path d="M351.13 499.25H353.53M352.33 498.05V500.45" stroke="#4a806a" stroke-width="0.55" fill="none"/><path d="M356.66 498.09H359.06M357.86 496.89V499.29" stroke="#4a806a" stroke-width="0.55" fill="none"/><path d="M362.2 496.96H364.6M363.4 495.76V498.16" stroke="#4a806a" stroke-width="0.55" fill="none"/><path d="M367.73 495.86H370.13M368.93 494.66V497.06" stroke="#4a806a" stroke-width="0.55" fill="none"/><path d="M373.27 494.78H375.67M374.47 493.58V495.98" stroke="#4a806a" stroke-width="0.55" fill="none"/><path d="M378.8 493.73H381.2M380 492.53V494.93" stroke="#4a806a" stroke-width="0.55" fill="none"/><path d="M384.34 492.69H386.74M385.54 491.49V493.89" stroke="#4a806a" stroke-width="0.55" fill="none"/><path d="M389.88 491.68H392.28M391.08 490.48V492.88" stroke="#4a806a" stroke-width="0.55" fill="none"/><path d="M395.41 490.7H397.81M396.61 489.5V491.9" stroke="#4a806a" stroke-width="0.55" fill="none"/><path d="M400.95 489.74H403.35M402.15 488.54V490.94" stroke="#4a806a" stroke-width="0.55" fill="none"/><path d="M406.48 488.8H408.88M407.68 487.6V490" stroke="#4a806a" stroke-width="0.55" fill="none"/><path d="M412.02 487.87H414.42M413.22 486.67V489.07" stroke="#4a806a" stroke-width="0.55" fill="none"/><path d="M417.55 486.96H419.95M418.75 485.76V488.16" stroke="#4a806a" stroke-width="0.55" fill="none"/><path d="M423.09 486.06H425.49M424.29 484.86V487.26" stroke="#4a806a" stroke-width="0.55" fill="none"/><path d="M428.62 485.16H431.02M429.82 483.96V486.36" stroke="#4a806a" stroke-width="0.55" fill="none"/><path d="M434.16 484.28H436.56M435.36 483.08V485.48" stroke="#4a806a" stroke-width="0.55" fill="none"/><path d="M439.7 483.39H442.1M440.9 482.19V484.59" stroke="#4a806a" stroke-width="0.55" fill="none"/><path d="M445.23 482.51H447.63M446.43 481.31V483.71" stroke="#4a806a" stroke-width="0.55" fill="none"/><path d="M450.77 481.63H453.17M451.97 480.43V482.83" stroke="#4a806a" stroke-width="0.55" fill="none"/><path d="M456.3 480.76H458.7M457.5 479.56V481.96" stroke="#4a806a" stroke-width="0.55" fill="none"/><path d="M461.84 479.9H464.24M463.04 478.7V481.1" stroke="#4a806a" stroke-width="0.55" fill="none"/><path d="M467.37 479.05H469.77M468.57 477.85V480.25" stroke="#4a806a" stroke-width="0.55" fill="none"/><path d="M472.91 478.2H475.31M474.11 477V479.4" stroke="#4a806a" stroke-width="0.55" fill="none"/><path d="M478.44 477.37H480.84M479.64 476.17V478.57" stroke="#4a806a" stroke-width="0.55" fill="none"/><path d="M483.98 476.54H486.38M485.18 475.34V477.74" stroke="#4a806a" stroke-width="0.55" fill="none"/><path d="M489.52 475.72H491.92M490.72 474.52V476.92" stroke="#4a806a" stroke-width="0.55" fill="none"/><path d="M495.05 474.91H497.45M496.25 473.71V476.11" stroke="#4a806a" stroke-width="0.55" fill="none"/></g>
<g><circle cx="42.34" cy="592.85" r="1.12" fill="#1f3c96"/><circle cx="47.87" cy="592.28" r="1.12" fill="#1f3c96"/><circle cx="53.41" cy="591.68" r="1.12" fill="#1f3c96"/><circle cx="58.94" cy="591.06" r="1.12" fill="#1f3c96"/><circle cx="64.48" cy="590.42" r="1.12" fill="#1f3c96"/><circle cx="70.01" cy="589.76" r="1.12" fill="#1f3c96"/><circle cx="75.55" cy="589.08" r="1.12" fill="#1f3c96"/><circle cx="81.08" cy="588.38" r="1.12" fill="#1f3c96"/><circle cx="86.62" cy="587.66" r="1.12" fill="#1f3c96"/><circle cx="92.16" cy="586.93" r="1.12" fill="#1f3c96"/><circle cx="97.69" cy="586.17" r="1.12" fill="#1f3c96"/><circle cx="103.23" cy="585.38" r="1.12" fill="#1f3c96"/><circle cx="108.76" cy="584.56" r="1.12" fill="#1f3c96"/><circle cx="114.3" cy="583.71" r="1.12" fill="#1f3c96"/><circle cx="119.83" cy="582.84" r="1.12" fill="#1f3c96"/><circle cx="125.37" cy="581.94" r="1.12" fill="#1f3c96"/><circle cx="130.9" cy="581.03" r="1.12" fill="#1f3c96"/><circle cx="136.44" cy="580.1" r="1.12" fill="#1f3c96"/><circle cx="141.98" cy="579.16" r="1.12" fill="#1f3c96"/><circle cx="147.51" cy="578.2" r="1.12" fill="#1f3c96"/><circle cx="153.05" cy="577.24" r="1.12" fill="#1f3c96"/><circle cx="158.58" cy="576.26" r="1.12" fill="#1f3c96"/><circle cx="164.12" cy="575.26" r="1.12" fill="#1f3c96"/><circle cx="169.65" cy="574.25" r="1.12" fill="#1f3c96"/><circle cx="175.19" cy="573.21" r="1.12" fill="#1f3c96"/><circle cx="180.72" cy="572.14" r="1.12" fill="#1f3c96"/><circle cx="186.26" cy="571.04" r="1.12" fill="#1f3c96"/><circle cx="191.8" cy="569.91" r="1.12" fill="#1f3c96"/><circle cx="197.33" cy="568.73" r="1.12" fill="#1f3c96"/><circle cx="202.87" cy="567.51" r="1.12" fill="#1f3c96"/><circle cx="208.4" cy="566.24" r="1.12" fill="#1f3c96"/><circle cx="213.94" cy="564.94" r="1.12" fill="#1f3c96"/><circle cx="219.47" cy="563.6" r="1.12" fill="#1f3c96"/><circle cx="225.01" cy="562.21" r="1.12" fill="#1f3c96"/><circle cx="230.54" cy="560.76" r="1.12" fill="#1f3c96"/><circle cx="236.08" cy="559.26" r="1.12" fill="#1f3c96"/><circle cx="241.62" cy="557.7" r="1.12" fill="#1f3c96"/><circle cx="247.15" cy="556.07" r="1.12" fill="#1f3c96"/><circle cx="252.69" cy="554.37" r="1.12" fill="#1f3c96"/><circle cx="258.22" cy="552.59" r="1.12" fill="#1f3c96"/><circle cx="263.76" cy="550.72" r="1.12" fill="#1f3c96"/><circle cx="269.29" cy="548.74" r="1.12" fill="#1f3c96"/><circle cx="274.83" cy="546.66" r="1.12" fill="#1f3c96"/><circle cx="280.36" cy="544.49" r="1.12" fill="#1f3c96"/><circle cx="285.9" cy="542.23" r="1.12" fill="#1f3c96"/><circle cx="291.44" cy="539.89" r="1.12" fill="#1f3c96"/><circle cx="296.97" cy="537.47" r="1.12" fill="#1f3c96"/><circle cx="302.51" cy="534.97" r="1.12" fill="#1f3c96"/><circle cx="308.04" cy="532.41" r="1.12" fill="#1f3c96"/><circle cx="313.58" cy="529.79" r="1.12" fill="#1f3c96"/><circle cx="319.11" cy="527.12" r="1.12" fill="#1f3c96"/><circle cx="324.65" cy="524.4" r="1.12" fill="#1f3c96"/><circle cx="330.18" cy="521.63" r="1.12" fill="#1f3c96"/><circle cx="335.72" cy="518.77" r="1.12" fill="#1f3c96"/><circle cx="341.26" cy="515.78" r="1.12" fill="#1f3c96"/><circle cx="346.79" cy="512.67" r="1.12" fill="#1f3c96"/><circle cx="352.33" cy="509.45" r="1.12" fill="#1f3c96"/><circle cx="357.86" cy="506.14" r="1.12" fill="#1f3c96"/><circle cx="363.4" cy="502.74" r="1.12" fill="#1f3c96"/><circle cx="368.93" cy="499.27" r="1.12" fill="#1f3c96"/><circle cx="374.47" cy="495.75" r="1.12" fill="#1f3c96"/><circle cx="380" cy="492.19" r="1.12" fill="#1f3c96"/><circle cx="385.54" cy="488.58" r="1.12" fill="#1f3c96"/><circle cx="391.08" cy="484.89" r="1.12" fill="#1f3c96"/><circle cx="396.61" cy="481.02" r="1.12" fill="#1f3c96"/><circle cx="402.15" cy="476.88" r="1.12" fill="#1f3c96"/><circle cx="407.68" cy="472.27" r="1.12" fill="#1f3c96"/><circle cx="413.22" cy="467.26" r="1.12" fill="#1f3c96"/><circle cx="418.75" cy="462.2" r="1.12" fill="#1f3c96"/><circle cx="424.29" cy="457.46" r="1.12" fill="#1f3c96"/><circle cx="429.82" cy="453.2" r="1.12" fill="#1f3c96"/><circle cx="435.36" cy="449.2" r="1.12" fill="#1f3c96"/><circle cx="440.9" cy="445.29" r="1.12" fill="#1f3c96"/><circle cx="446.43" cy="441.25" r="1.12" fill="#1f3c96"/><circle cx="451.97" cy="436.92" r="1.12" fill="#1f3c96"/><circle cx="457.5" cy="432.18" r="1.12" fill="#1f3c96"/><circle cx="463.04" cy="427.16" r="1.12" fill="#1f3c96"/><circle cx="468.57" cy="421.95" r="1.12" fill="#1f3c96"/><circle cx="474.11" cy="416.65" r="1.12" fill="#1f3c96"/><circle cx="479.64" cy="411.29" r="1.12" fill="#1f3c96"/><circle cx="485.18" cy="405.79" r="1.12" fill="#1f3c96"/><circle cx="490.72" cy="400.16" r="1.12" fill="#1f3c96"/><circle cx="496.25" cy="394.42" r="1.12" fill="#1f3c96"/></g>
<rect x="36.8" y="340.1" width="498.2" height="253.3" fill="none" stroke="#666666" stroke-width="0.55"/>
<text x="36.8" y="600.2" font-size="4.0" text-anchor="middle">0</text>
<text x="92.16" y="600.2" font-size="4.0" text-anchor="middle">10</text>
<text x="147.51" y="600.2" font-size="4.0" text-anchor="middle">20</text>
<text x="202.87" y="600.2" font-size="4.0" text-anchor="middle">30</text>
<text x="258.22" y="600.2" font-size="4.0" text-anchor="middle">40</text>
<text x="313.58" y="600.2" font-size="4.0" text-anchor="middle">50</text>
<text x="368.93" y="600.2" font-size="4.0" text-anchor="middle">60</text>
<text x="424.29" y="600.2" font-size="4.0" text-anchor="middle">70</text>
<text x="479.64" y="600.2" font-size="4.0" text-anchor="middle">80</text>
<text x="535" y="600.2" font-size="4.0" text-anchor="middle">90</text>
<text x="34.6" y="595.34" font-size="4.0" text-anchor="end">0</text>
<text x="34.6" y="567.2" font-size="4.0" text-anchor="end">10</text>
<text x="34.6" y="539.05" font-size="4.0" text-anchor="end">20</text>
<text x="34.6" y="510.91" font-size="4.0" text-anchor="end">30</text>
<text x="34.6" y="482.76" font-size="4.0" text-anchor="end">40</text>
<text x="34.6" y="454.62" font-size="4.0" text-anchor="end">50</text>
<text x="34.6" y="426.47" font-size="4.0" text-anchor="end">60</text>
<text x="34.6" y="398.33" font-size="4.0" text-anchor="end">70</text>
<text x="34.6" y="370.18" font-size="4.0" text-anchor="end">80</text>
<text x="34.6" y="342.04" font-size="4.0" text-anchor="end">90</text>
<path d="M92.16 593.4v-4.6M92.16 340.1v4.6M147.51 593.4v-4.6M147.51 340.1v4.6M202.87 593.4v-4.6M202.87 340.1v4.6M258.22 593.4v-4.6M258.22 340.1v4.6M313.58 593.4v-4.6M313.58 340.1v4.6M368.93 593.4v-4.6M368.93 340.1v4.6M424.29 593.4v-4.6M424.29 340.1v4.6M479.64 593.4v-4.6M479.64 340.1v4.6M36.8 565.26h4.6M535 565.26h-4.6M36.8 537.11h4.6M535 537.11h-4.6M36.8 508.97h4.6M535 508.97h-4.6M36.8 480.82h4.6M535 480.82h-4.6M36.8 452.68h4.6M535 452.68h-4.6M36.8 424.53h4.6M535 424.53h-4.6M36.8 396.39h4.6M535 396.39h-4.6M36.8 368.24h4.6M535 368.24h-4.6" stroke="#666666" stroke-width="0.55" fill="none"/>
<text x="285.9" y="337.8" font-size="5.0" text-anchor="middle">100% of DS1-3(LSE)</text>
<text x="285.9" y="607.4" font-size="5.0" text-anchor="middle">TIME(WEEK)</text>
<text transform="translate(26.9 466.75) rotate(-90)" font-size="5.3" text-anchor="middle">CUMULATIVE NUMBER OF DETECTED FAULTS</text>
<rect x="38.6" y="343" width="64" height="185.4" fill="#fff" stroke="#666666" stroke-width="0.55"/>
<circle cx="45" cy="354" r="0.68" fill="#2626ff"/>
<text x="51" y="355.48" font-size="4.1">Actual</text>
<line x1="40" y1="372.2" x2="50" y2="372.2" stroke="#22ee22" stroke-width="0.8"/>
<text x="51" y="373.68" font-size="4.1">G-O model</text>
<line x1="40" y1="390.4" x2="50" y2="390.4" stroke="#2ae6ee" stroke-width="0.95" stroke-dasharray="2.6 0.5 0.6 0.5"/>
<text x="51" y="391.88" font-size="4.1">DSS model</text>
<line x1="40" y1="408.6" x2="50" y2="408.6" stroke="#ff5555" stroke-width="0.7" stroke-dasharray="3.9 1.7"/>
<text x="51" y="410.08" font-size="4.1">ISS model</text>
<line x1="40" y1="426.8" x2="50" y2="426.8" stroke="#f7c6f3" stroke-width="0.7" stroke-dasharray="0.6 0.5"/>
<text x="51" y="428.28" font-size="4.1">Yamada Imperfect-2  model</text>
<polygon points="45,443.4 43.48,446.2 46.52,446.2" fill="none" stroke="#ff30b0" stroke-width="0.5" stroke-linejoin="miter"/>
<text x="51" y="446.48" font-size="4.1">P-N-Z model</text>
<polygon points="43.4,463.2 46.2,461.68 46.2,464.72" fill="none" stroke="#ff8a3c" stroke-width="0.5" stroke-linejoin="miter"/>
<text x="51" y="464.68" font-size="4.1">GGO model</text>
<polygon points="46.6,481.4 43.8,479.88 43.8,482.92" fill="none" stroke="#3333ff" stroke-width="0.5" stroke-linejoin="miter"/>
<text x="51" y="482.88" font-size="4.1">Wang model</text>
<path d="M43.8 499.6H46.2M45 498.4V500.8" stroke="#4a806a" stroke-width="0.55" fill="none"/>
<text x="51" y="501.08" font-size="4.1">Li model</text>
<circle cx="45" cy="517.8" r="1.12" fill="#1f3c96"/>
<text x="51" y="519.28" font-size="4.1">Proposed model</text>
<g><circle cx="27.26" cy="887.96" r="0.68" fill="#2626ff"/><circle cx="33.02" cy="887.96" r="0.68" fill="#2626ff"/><circle cx="38.79" cy="887.96" r="0.68" fill="#2626ff"/><circle cx="44.55" cy="887.96" r="0.68" fill="#2626ff"/><circle cx="50.31" cy="887.96" r="0.68" fill="#2626ff"/><circle cx="56.07" cy="887.96" r="0.68" fill="#2626ff"/><circle cx="61.84" cy="887.96" r="0.68" fill="#2626ff"/><circle cx="67.6" cy="887.96" r="0.68" fill="#2626ff"/><circle cx="73.36" cy="887.96" r="0.68" fill="#2626ff"/><circle cx="79.12" cy="887.96" r="0.68" fill="#2626ff"/><circle cx="84.88" cy="887.96" r="0.68" fill="#2626ff"/><circle cx="90.65" cy="887.96" r="0.68" fill="#2626ff"/><circle cx="96.41" cy="885.29" r="0.68" fill="#2626ff"/><circle cx="102.17" cy="883.96" r="0.68" fill="#2626ff"/><circle cx="107.93" cy="882.63" r="0.68" fill="#2626ff"/><circle cx="113.7" cy="881.29" r="0.68" fill="#2626ff"/><circle cx="119.46" cy="879.96" r="0.68" fill="#2626ff"/><circle cx="125.22" cy="877.29" r="0.68" fill="#2626ff"/><circle cx="130.98" cy="875.96" r="0.68" fill="#2626ff"/><circle cx="136.74" cy="874.62" r="0.68" fill="#2626ff"/><circle cx="142.51" cy="873.29" r="0.68" fill="#2626ff"/><circle cx="148.27" cy="871.95" r="0.68" fill="#2626ff"/><circle cx="154.03" cy="869.29" r="0.68" fill="#2626ff"/><circle cx="159.79" cy="867.95" r="0.68" fill="#2626ff"/><circle cx="165.56" cy="866.62" r="0.68" fill="#2626ff"/><circle cx="171.32" cy="863.95" r="0.68" fill="#2626ff"/><circle cx="177.08" cy="862.62" r="0.68" fill="#2626ff"/><circle cx="182.84" cy="861.28" r="0.68" fill="#2626ff"/><circle cx="188.6" cy="859.95" r="0.68" fill="#2626ff"/><circle cx="194.37" cy="858.62" r="0.68" fill="#2626ff"/><circle cx="200.13" cy="858.62" r="0.68" fill="#2626ff"/><circle cx="205.89" cy="858.62" r="0.68" fill="#2626ff"/><circle cx="211.65" cy="858.62" r="0.68" fill="#2626ff"/><circle cx="217.42" cy="858.62" r="0.68" fill="#2626ff"/><circle cx="223.18" cy="858.62" r="0.68" fill="#2626ff"/><circle cx="228.94" cy="858.62" r="0.68" fill="#2626ff"/><circle cx="234.7" cy="858.62" r="0.68" fill="#2626ff"/><circle cx="240.46" cy="858.62" r="0.68" fill="#2626ff"/><circle cx="246.23" cy="858.62" r="0.68" fill="#2626ff"/><circle cx="251.99" cy="858.62" r="0.68" fill="#2626ff"/><circle cx="257.75" cy="858.62" r="0.68" fill="#2626ff"/><circle cx="263.51" cy="858.62" r="0.68" fill="#2626ff"/><circle cx="269.28" cy="858.62" r="0.68" fill="#2626ff"/><circle cx="275.04" cy="858.62" r="0.68" fill="#2626ff"/><circle cx="280.8" cy="858.62" r="0.68" fill="#2626ff"/><circle cx="286.56" cy="855.95" r="0.68" fill="#2626ff"/><circle cx="292.32" cy="855.95" r="0.68" fill="#2626ff"/><circle cx="298.09" cy="855.95" r="0.68" fill="#2626ff"/><circle cx="303.85" cy="853.28" r="0.68" fill="#2626ff"/><circle cx="309.61" cy="850.61" r="0.68" fill="#2626ff"/><circle cx="315.37" cy="847.94" r="0.68" fill="#2626ff"/><circle cx="321.14" cy="847.94" r="0.68" fill="#2626ff"/><circle cx="326.9" cy="845.28" r="0.68" fill="#2626ff"/><circle cx="332.66" cy="845.28" r="0.68" fill="#2626ff"/><circle cx="338.42" cy="842.61" r="0.68" fill="#2626ff"/><circle cx="344.18" cy="842.61" r="0.68" fill="#2626ff"/><circle cx="349.95" cy="837.27" r="0.68" fill="#2626ff"/><circle cx="355.71" cy="831.94" r="0.68" fill="#2626ff"/><circle cx="361.47" cy="830.6" r="0.68" fill="#2626ff"/><circle cx="367.23" cy="826.6" r="0.68" fill="#2626ff"/><circle cx="373" cy="810.6" r="0.68" fill="#2626ff"/><circle cx="378.76" cy="805.26" r="0.68" fill="#2626ff"/><circle cx="384.52" cy="804.46" r="0.68" fill="#2626ff"/><circle cx="390.28" cy="801.26" r="0.68" fill="#2626ff"/><circle cx="396.04" cy="797.26" r="0.68" fill="#2626ff"/><circle cx="401.81" cy="797.26" r="0.68" fill="#2626ff"/><circle cx="407.57" cy="794.59" r="0.68" fill="#2626ff"/><circle cx="413.33" cy="791.92" r="0.68" fill="#2626ff"/><circle cx="419.09" cy="787.92" r="0.68" fill="#2626ff"/><circle cx="424.86" cy="785.25" r="0.68" fill="#2626ff"/><circle cx="430.62" cy="783.92" r="0.68" fill="#2626ff"/><circle cx="436.38" cy="781.25" r="0.68" fill="#2626ff"/><circle cx="442.14" cy="777.52" r="0.68" fill="#2626ff"/><circle cx="447.9" cy="775.91" r="0.68" fill="#2626ff"/><circle cx="453.67" cy="759.91" r="0.68" fill="#2626ff"/><circle cx="459.43" cy="751.9" r="0.68" fill="#2626ff"/><circle cx="465.19" cy="749.24" r="0.68" fill="#2626ff"/><circle cx="470.95" cy="727.89" r="0.68" fill="#2626ff"/><circle cx="476.72" cy="719.89" r="0.68" fill="#2626ff"/><circle cx="482.48" cy="717.22" r="0.68" fill="#2626ff"/><circle cx="488.24" cy="714.56" r="0.68" fill="#2626ff"/><circle cx="494" cy="701.22" r="0.68" fill="#2626ff"/><circle cx="499.76" cy="687.88" r="0.68" fill="#2626ff"/></g>
<path d="M27.26 899.97 L29.64 899.42 L32.01 898.87 L34.39 898.32 L36.76 897.77 L39.13 897.22 L41.51 896.67 L43.88 896.12 L46.26 895.57 L48.63 895.02 L51.01 894.47 L53.38 893.92 L55.75 893.37 L58.13 892.82 L60.5 892.27 L62.88 891.72 L65.25 891.17 L67.63 890.62 L70 890.07 L72.38 889.52 L74.75 888.97 L77.12 888.42 L79.5 887.87 L81.87 887.32 L84.25 886.78 L86.62 886.23 L89 885.68 L91.37 885.14 L93.74 884.59 L96.12 884.04 L98.49 883.5 L100.87 882.95 L103.24 882.4 L105.62 881.86 L107.99 881.31 L110.37 880.76 L112.74 880.22 L115.11 879.67 L117.49 879.12 L119.86 878.57 L122.24 878.02 L124.61 877.47 L126.99 876.91 L129.36 876.36 L131.74 875.8 L134.11 875.24 L136.48 874.68 L138.86 874.12 L141.23 873.56 L143.61 872.99 L145.98 872.42 L148.36 871.84 L150.73 871.27 L153.1 870.69 L155.48 870.11 L157.85 869.53 L160.23 868.95 L162.6 868.37 L164.98 867.79 L167.35 867.21 L169.73 866.63 L172.1 866.05 L174.47 865.48 L176.85 864.9 L179.22 864.33 L181.6 863.76 L183.97 863.19 L186.35 862.63 L188.72 862.07 L191.09 861.51 L193.47 860.96 L195.84 860.41 L198.22 859.86 L200.59 859.31 L202.97 858.76 L205.34 858.22 L207.72 857.67 L210.09 857.13 L212.46 856.58 L214.84 856.04 L217.21 855.5 L219.59 854.97 L221.96 854.43 L224.34 853.9 L226.71 853.37 L229.08 852.84 L231.46 852.32 L233.83 851.8 L236.21 851.28 L238.58 850.77 L240.96 850.26 L243.33 849.75 L245.71 849.25 L248.08 848.75 L250.45 848.26 L252.83 847.77 L255.2 847.29 L257.58 846.82 L259.95 846.35 L262.33 845.89 L264.7 845.43 L267.07 844.98 L269.45 844.53 L271.82 844.09 L274.2 843.65 L276.57 843.21 L278.95 842.77 L281.32 842.34 L283.7 841.91 L286.07 841.48 L288.44 841.05 L290.82 840.62 L293.19 840.19 L295.57 839.76 L297.94 839.33 L300.32 838.89 L302.69 838.46 L305.07 838.02 L307.44 837.58 L309.81 837.14 L312.19 836.69 L314.56 836.24 L316.94 835.78 L319.31 835.32 L321.69 834.85 L324.06 834.38 L326.43 833.9 L328.81 833.41 L331.18 832.92 L333.56 832.41 L335.93 831.91 L338.31 831.39 L340.68 830.87 L343.06 830.35 L345.43 829.82 L347.8 829.29 L350.18 828.76 L352.55 828.23 L354.93 827.7 L357.3 827.17 L359.68 826.65 L362.05 826.13 L364.42 825.61 L366.8 825.09 L369.17 824.59 L371.55 824.08 L373.92 823.58 L376.3 823.08 L378.67 822.59 L381.05 822.09 L383.42 821.6 L385.79 821.11 L388.17 820.62 L390.54 820.13 L392.92 819.64 L395.29 819.15 L397.67 818.66 L400.04 818.17 L402.41 817.68 L404.79 817.19 L407.16 816.7 L409.54 816.2 L411.91 815.71 L414.29 815.21 L416.66 814.7 L419.04 814.2 L421.41 813.68 L423.78 813.17 L426.16 812.65 L428.53 812.13 L430.91 811.6 L433.28 811.07 L435.66 810.53 L438.03 809.99 L440.4 809.45 L442.78 808.91 L445.15 808.36 L447.53 807.81 L449.9 807.26 L452.28 806.71 L454.65 806.15 L457.03 805.6 L459.4 805.03 L461.77 804.47 L464.15 803.91 L466.52 803.34 L468.9 802.77 L471.27 802.19 L473.65 801.62 L476.02 801.04 L478.39 800.46 L480.77 799.87 L483.14 799.29 L485.52 798.7 L487.89 798.11 L490.27 797.52 L492.64 796.92 L495.02 796.32 L497.39 795.72 L499.76 795.12" fill="none" stroke="#22ee22" stroke-width="0.8"/>
<path d="M27.26 901.23 L29.64 901.17 L32.01 901.1 L34.39 901.02 L36.76 900.93 L39.13 900.82 L41.51 900.7 L43.88 900.57 L46.26 900.43 L48.63 900.28 L51.01 900.13 L53.38 899.96 L55.75 899.79 L58.13 899.61 L60.5 899.43 L62.88 899.23 L65.25 899.04 L67.63 898.84 L70 898.64 L72.38 898.43 L74.75 898.22 L77.12 898.01 L79.5 897.8 L81.87 897.57 L84.25 897.32 L86.62 897.05 L89 896.76 L91.37 896.45 L93.74 896.12 L96.12 895.77 L98.49 895.4 L100.87 895.02 L103.24 894.62 L105.62 894.21 L107.99 893.79 L110.37 893.35 L112.74 892.91 L115.11 892.45 L117.49 891.98 L119.86 891.51 L122.24 891.02 L124.61 890.53 L126.99 890.04 L129.36 889.54 L131.74 889.03 L134.11 888.53 L136.48 888.02 L138.86 887.5 L141.23 886.95 L143.61 886.39 L145.98 885.8 L148.36 885.19 L150.73 884.56 L153.1 883.91 L155.48 883.25 L157.85 882.57 L160.23 881.88 L162.6 881.18 L164.98 880.47 L167.35 879.75 L169.73 879.02 L172.1 878.29 L174.47 877.55 L176.85 876.81 L179.22 876.07 L181.6 875.33 L183.97 874.59 L186.35 873.86 L188.72 873.13 L191.09 872.41 L193.47 871.69 L195.84 870.98 L198.22 870.26 L200.59 869.53 L202.97 868.8 L205.34 868.06 L207.72 867.32 L210.09 866.57 L212.46 865.82 L214.84 865.06 L217.21 864.3 L219.59 863.54 L221.96 862.78 L224.34 862.03 L226.71 861.27 L229.08 860.52 L231.46 859.77 L233.83 859.02 L236.21 858.28 L238.58 857.54 L240.96 856.81 L243.33 856.09 L245.71 855.38 L248.08 854.68 L250.45 853.99 L252.83 853.31 L255.2 852.64 L257.58 851.97 L259.95 851.32 L262.33 850.68 L264.7 850.04 L267.07 849.41 L269.45 848.78 L271.82 848.16 L274.2 847.54 L276.57 846.93 L278.95 846.32 L281.32 845.72 L283.7 845.12 L286.07 844.51 L288.44 843.91 L290.82 843.31 L293.19 842.71 L295.57 842.11 L297.94 841.51 L300.32 840.91 L302.69 840.3 L305.07 839.69 L307.44 839.07 L309.81 838.45 L312.19 837.83 L314.56 837.2 L316.94 836.56 L319.31 835.92 L321.69 835.27 L324.06 834.61 L326.43 833.94 L328.81 833.26 L331.18 832.59 L333.56 831.91 L335.93 831.23 L338.31 830.55 L340.68 829.86 L343.06 829.17 L345.43 828.47 L347.8 827.77 L350.18 827.05 L352.55 826.33 L354.93 825.59 L357.3 824.84 L359.68 824.07 L362.05 823.29 L364.42 822.5 L366.8 821.68 L369.17 820.85 L371.55 819.99 L373.92 819.1 L376.3 818.19 L378.67 817.26 L381.05 816.3 L383.42 815.33 L385.79 814.35 L388.17 813.35 L390.54 812.33 L392.92 811.31 L395.29 810.28 L397.67 809.24 L400.04 808.19 L402.41 807.14 L404.79 806.1 L407.16 805.05 L409.54 804 L411.91 802.96 L414.29 801.93 L416.66 800.9 L419.04 799.88 L421.41 798.88 L423.78 797.88 L426.16 796.91 L428.53 795.95 L430.91 795.01 L433.28 794.08 L435.66 793.15 L438.03 792.23 L440.4 791.31 L442.78 790.39 L445.15 789.48 L447.53 788.57 L449.9 787.66 L452.28 786.76 L454.65 785.86 L457.03 784.97 L459.4 784.08 L461.77 783.19 L464.15 782.3 L466.52 781.42 L468.9 780.55 L471.27 779.67 L473.65 778.81 L476.02 777.94 L478.39 777.08 L480.77 776.22 L483.14 775.37 L485.52 774.52 L487.89 773.67 L490.27 772.83 L492.64 772 L495.02 771.16 L497.39 770.34 L499.76 769.51" fill="none" stroke="#2ae6ee" stroke-width="0.95" stroke-dasharray="2.6 0.5 0.6 0.5"/>
<path d="M27.26 900.49 L29.64 900.15 L32.01 899.8 L34.39 899.45 L36.76 899.1 L39.13 898.74 L41.51 898.38 L43.88 898.02 L46.26 897.65 L48.63 897.28 L51.01 896.91 L53.38 896.53 L55.75 896.15 L58.13 895.76 L60.5 895.38 L62.88 894.99 L65.25 894.59 L67.63 894.2 L70 893.79 L72.38 893.39 L74.75 892.99 L77.12 892.58 L79.5 892.16 L81.87 891.75 L84.25 891.33 L86.62 890.9 L89 890.47 L91.37 890.04 L93.74 889.6 L96.12 889.16 L98.49 888.72 L100.87 888.27 L103.24 887.82 L105.62 887.36 L107.99 886.9 L110.37 886.43 L112.74 885.97 L115.11 885.49 L117.49 885.02 L119.86 884.54 L122.24 884.05 L124.61 883.57 L126.99 883.08 L129.36 882.58 L131.74 882.09 L134.11 881.58 L136.48 881.08 L138.86 880.57 L141.23 880.05 L143.61 879.53 L145.98 879 L148.36 878.46 L150.73 877.91 L153.1 877.36 L155.48 876.81 L157.85 876.25 L160.23 875.68 L162.6 875.11 L164.98 874.54 L167.35 873.97 L169.73 873.39 L172.1 872.82 L174.47 872.24 L176.85 871.66 L179.22 871.08 L181.6 870.5 L183.97 869.92 L186.35 869.35 L188.72 868.77 L191.09 868.2 L193.47 867.63 L195.84 867.07 L198.22 866.5 L200.59 865.94 L202.97 865.37 L205.34 864.81 L207.72 864.25 L210.09 863.69 L212.46 863.12 L214.84 862.56 L217.21 862 L219.59 861.43 L221.96 860.86 L224.34 860.3 L226.71 859.73 L229.08 859.16 L231.46 858.59 L233.83 858.02 L236.21 857.44 L238.58 856.86 L240.96 856.28 L243.33 855.7 L245.71 855.11 L248.08 854.52 L250.45 853.93 L252.83 853.34 L255.2 852.74 L257.58 852.14 L259.95 851.54 L262.33 850.94 L264.7 850.34 L267.07 849.74 L269.45 849.14 L271.82 848.53 L274.2 847.93 L276.57 847.32 L278.95 846.71 L281.32 846.1 L283.7 845.48 L286.07 844.87 L288.44 844.25 L290.82 843.63 L293.19 843 L295.57 842.38 L297.94 841.75 L300.32 841.12 L302.69 840.48 L305.07 839.84 L307.44 839.2 L309.81 838.56 L312.19 837.91 L314.56 837.26 L316.94 836.6 L319.31 835.94 L321.69 835.28 L324.06 834.61 L326.43 833.94 L328.81 833.26 L331.18 832.59 L333.56 831.91 L335.93 831.23 L338.31 830.55 L340.68 829.86 L343.06 829.17 L345.43 828.47 L347.8 827.77 L350.18 827.05 L352.55 826.33 L354.93 825.59 L357.3 824.84 L359.68 824.07 L362.05 823.29 L364.42 822.5 L366.8 821.68 L369.17 820.85 L371.55 819.99 L373.92 819.1 L376.3 818.19 L378.67 817.26 L381.05 816.3 L383.42 815.33 L385.79 814.35 L388.17 813.35 L390.54 812.33 L392.92 811.31 L395.29 810.28 L397.67 809.24 L400.04 808.19 L402.41 807.14 L404.79 806.1 L407.16 805.05 L409.54 804 L411.91 802.96 L414.29 801.93 L416.66 800.9 L419.04 799.88 L421.41 798.88 L423.78 797.88 L426.16 796.91 L428.53 795.95 L430.91 795.01 L433.28 794.08 L435.66 793.15 L438.03 792.23 L440.4 791.31 L442.78 790.39 L445.15 789.48 L447.53 788.57 L449.9 787.66 L452.28 786.76 L454.65 785.86 L457.03 784.97 L459.4 784.08 L461.77 783.19 L464.15 782.3 L466.52 781.42 L468.9 780.55 L471.27 779.67 L473.65 778.81 L476.02 777.94 L478.39 777.08 L480.77 776.22 L483.14 775.37 L485.52 774.52 L487.89 773.67 L490.27 772.83 L492.64 772 L495.02 771.16 L497.39 770.34 L499.76 769.51" fill="none" stroke="#ff5555" stroke-width="0.7" stroke-dasharray="3.9 1.7"/>
<path d="M27.26 900.4 L29.64 900.03 L32.01 899.65 L34.39 899.26 L36.76 898.87 L39.13 898.47 L41.51 898.07 L43.88 897.66 L46.26 897.25 L48.63 896.84 L51.01 896.42 L53.38 896 L55.75 895.57 L58.13 895.14 L60.5 894.71 L62.88 894.27 L65.25 893.82 L67.63 893.38 L70 892.93 L72.38 892.47 L74.75 892.02 L77.12 891.55 L79.5 891.09 L81.87 890.62 L84.25 890.14 L86.62 889.65 L89 889.15 L91.37 888.65 L93.74 888.14 L96.12 887.63 L98.49 887.11 L100.87 886.58 L103.24 886.05 L105.62 885.52 L107.99 884.98 L110.37 884.44 L112.74 883.9 L115.11 883.35 L117.49 882.8 L119.86 882.26 L122.24 881.71 L124.61 881.16 L126.99 880.61 L129.36 880.06 L131.74 879.51 L134.11 878.96 L136.48 878.42 L138.86 877.87 L141.23 877.32 L143.61 876.77 L145.98 876.22 L148.36 875.66 L150.73 875.11 L153.1 874.55 L155.48 873.99 L157.85 873.42 L160.23 872.86 L162.6 872.29 L164.98 871.73 L167.35 871.16 L169.73 870.59 L172.1 870.03 L174.47 869.46 L176.85 868.89 L179.22 868.33 L181.6 867.76 L183.97 867.2 L186.35 866.64 L188.72 866.08 L191.09 865.52 L193.47 864.96 L195.84 864.41 L198.22 863.85 L200.59 863.3 L202.97 862.75 L205.34 862.2 L207.72 861.65 L210.09 861.1 L212.46 860.55 L214.84 860 L217.21 859.45 L219.59 858.91 L221.96 858.36 L224.34 857.81 L226.71 857.26 L229.08 856.72 L231.46 856.17 L233.83 855.62 L236.21 855.07 L238.58 854.52 L240.96 853.97 L243.33 853.42 L245.71 852.87 L248.08 852.32 L250.45 851.77 L252.83 851.22 L255.2 850.67 L257.58 850.12 L259.95 849.57 L262.33 849.02 L264.7 848.48 L267.07 847.94 L269.45 847.4 L271.82 846.85 L274.2 846.31 L276.57 845.77 L278.95 845.23 L281.32 844.69 L283.7 844.15 L286.07 843.6 L288.44 843.06 L290.82 842.51 L293.19 841.96 L295.57 841.41 L297.94 840.86 L300.32 840.3 L302.69 839.75 L305.07 839.18 L307.44 838.62 L309.81 838.05 L312.19 837.47 L314.56 836.89 L316.94 836.31 L319.31 835.72 L321.69 835.13 L324.06 834.53 L326.43 833.92 L328.81 833.31 L331.18 832.7 L333.56 832.09 L335.93 831.47 L338.31 830.85 L340.68 830.22 L343.06 829.59 L345.43 828.94 L347.8 828.3 L350.18 827.64 L352.55 826.97 L354.93 826.3 L357.3 825.61 L359.68 824.91 L362.05 824.2 L364.42 823.48 L366.8 822.74 L369.17 821.98 L371.55 821.2 L373.92 820.4 L376.3 819.57 L378.67 818.73 L381.05 817.87 L383.42 816.99 L385.79 816.1 L388.17 815.2 L390.54 814.29 L392.92 813.36 L395.29 812.44 L397.67 811.5 L400.04 810.56 L402.41 809.62 L404.79 808.68 L407.16 807.74 L409.54 806.8 L411.91 805.87 L414.29 804.94 L416.66 804.02 L419.04 803.11 L421.41 802.21 L423.78 801.32 L426.16 800.45 L428.53 799.59 L430.91 798.76 L433.28 797.93 L435.66 797.1 L438.03 796.28 L440.4 795.46 L442.78 794.64 L445.15 793.83 L447.53 793.02 L449.9 792.22 L452.28 791.42 L454.65 790.62 L457.03 789.82 L459.4 789.03 L461.77 788.24 L464.15 787.46 L466.52 786.68 L468.9 785.9 L471.27 785.13 L473.65 784.36 L476.02 783.6 L478.39 782.84 L480.77 782.08 L483.14 781.33 L485.52 780.58 L487.89 779.84 L490.27 779.1 L492.64 778.36 L495.02 777.63 L497.39 776.9 L499.76 776.18" fill="none" stroke="#f7c6f3" stroke-width="0.7" stroke-dasharray="0.6 0.5"/>
<g><polygon points="27.26,898.78 25.74,901.58 28.78,901.58" fill="none" stroke="#ff30b0" stroke-width="0.5" stroke-linejoin="miter"/><polygon points="33.02,897.83 31.5,900.63 34.54,900.63" fill="none" stroke="#ff30b0" stroke-width="0.5" stroke-linejoin="miter"/><polygon points="38.79,896.85 37.27,899.65 40.31,899.65" fill="none" stroke="#ff30b0" stroke-width="0.5" stroke-linejoin="miter"/><polygon points="44.55,895.84 43.03,898.64 46.07,898.64" fill="none" stroke="#ff30b0" stroke-width="0.5" stroke-linejoin="miter"/><polygon points="50.31,894.81 48.79,897.61 51.83,897.61" fill="none" stroke="#ff30b0" stroke-width="0.5" stroke-linejoin="miter"/><polygon points="56.07,893.76 54.55,896.56 57.59,896.56" fill="none" stroke="#ff30b0" stroke-width="0.5" stroke-linejoin="miter"/><polygon points="61.84,892.67 60.32,895.47 63.36,895.47" fill="none" stroke="#ff30b0" stroke-width="0.5" stroke-linejoin="miter"/><polygon points="67.6,891.57 66.08,894.37 69.12,894.37" fill="none" stroke="#ff30b0" stroke-width="0.5" stroke-linejoin="miter"/><polygon points="73.36,890.44 71.84,893.24 74.88,893.24" fill="none" stroke="#ff30b0" stroke-width="0.5" stroke-linejoin="miter"/><polygon points="79.12,889.3 77.6,892.1 80.64,892.1" fill="none" stroke="#ff30b0" stroke-width="0.5" stroke-linejoin="miter"/><polygon points="84.88,888.11 83.36,890.91 86.4,890.91" fill="none" stroke="#ff30b0" stroke-width="0.5" stroke-linejoin="miter"/><polygon points="90.65,886.88 89.13,889.68 92.17,889.68" fill="none" stroke="#ff30b0" stroke-width="0.5" stroke-linejoin="miter"/><polygon points="96.41,885.61 94.89,888.41 97.93,888.41" fill="none" stroke="#ff30b0" stroke-width="0.5" stroke-linejoin="miter"/><polygon points="102.17,884.31 100.65,887.11 103.69,887.11" fill="none" stroke="#ff30b0" stroke-width="0.5" stroke-linejoin="miter"/><polygon points="107.93,882.98 106.41,885.78 109.45,885.78" fill="none" stroke="#ff30b0" stroke-width="0.5" stroke-linejoin="miter"/><polygon points="113.7,881.63 112.18,884.43 115.22,884.43" fill="none" stroke="#ff30b0" stroke-width="0.5" stroke-linejoin="miter"/><polygon points="119.46,880.28 117.94,883.08 120.98,883.08" fill="none" stroke="#ff30b0" stroke-width="0.5" stroke-linejoin="miter"/><polygon points="125.22,878.92 123.7,881.72 126.74,881.72" fill="none" stroke="#ff30b0" stroke-width="0.5" stroke-linejoin="miter"/><polygon points="130.98,877.57 129.46,880.37 132.5,880.37" fill="none" stroke="#ff30b0" stroke-width="0.5" stroke-linejoin="miter"/><polygon points="136.74,876.22 135.22,879.02 138.26,879.02" fill="none" stroke="#ff30b0" stroke-width="0.5" stroke-linejoin="miter"/><polygon points="142.51,874.88 140.99,877.68 144.03,877.68" fill="none" stroke="#ff30b0" stroke-width="0.5" stroke-linejoin="miter"/><polygon points="148.27,873.53 146.75,876.33 149.79,876.33" fill="none" stroke="#ff30b0" stroke-width="0.5" stroke-linejoin="miter"/><polygon points="154.03,872.17 152.51,874.97 155.55,874.97" fill="none" stroke="#ff30b0" stroke-width="0.5" stroke-linejoin="miter"/><polygon points="159.79,870.81 158.27,873.61 161.31,873.61" fill="none" stroke="#ff30b0" stroke-width="0.5" stroke-linejoin="miter"/><polygon points="165.56,869.44 164.04,872.24 167.08,872.24" fill="none" stroke="#ff30b0" stroke-width="0.5" stroke-linejoin="miter"/><polygon points="171.32,868.07 169.8,870.87 172.84,870.87" fill="none" stroke="#ff30b0" stroke-width="0.5" stroke-linejoin="miter"/><polygon points="177.08,866.7 175.56,869.5 178.6,869.5" fill="none" stroke="#ff30b0" stroke-width="0.5" stroke-linejoin="miter"/><polygon points="182.84,865.33 181.32,868.13 184.36,868.13" fill="none" stroke="#ff30b0" stroke-width="0.5" stroke-linejoin="miter"/><polygon points="188.6,863.97 187.08,866.77 190.12,866.77" fill="none" stroke="#ff30b0" stroke-width="0.5" stroke-linejoin="miter"/><polygon points="194.37,862.62 192.85,865.42 195.89,865.42" fill="none" stroke="#ff30b0" stroke-width="0.5" stroke-linejoin="miter"/><polygon points="200.13,861.27 198.61,864.07 201.65,864.07" fill="none" stroke="#ff30b0" stroke-width="0.5" stroke-linejoin="miter"/><polygon points="205.89,859.93 204.37,862.73 207.41,862.73" fill="none" stroke="#ff30b0" stroke-width="0.5" stroke-linejoin="miter"/><polygon points="211.65,858.59 210.13,861.39 213.17,861.39" fill="none" stroke="#ff30b0" stroke-width="0.5" stroke-linejoin="miter"/><polygon points="217.42,857.25 215.9,860.05 218.94,860.05" fill="none" stroke="#ff30b0" stroke-width="0.5" stroke-linejoin="miter"/><polygon points="223.18,855.92 221.66,858.72 224.7,858.72" fill="none" stroke="#ff30b0" stroke-width="0.5" stroke-linejoin="miter"/><polygon points="228.94,854.59 227.42,857.39 230.46,857.39" fill="none" stroke="#ff30b0" stroke-width="0.5" stroke-linejoin="miter"/><polygon points="234.7,853.26 233.18,856.06 236.22,856.06" fill="none" stroke="#ff30b0" stroke-width="0.5" stroke-linejoin="miter"/><polygon points="240.46,851.93 238.94,854.73 241.98,854.73" fill="none" stroke="#ff30b0" stroke-width="0.5" stroke-linejoin="miter"/><polygon points="246.23,850.6 244.71,853.4 247.75,853.4" fill="none" stroke="#ff30b0" stroke-width="0.5" stroke-linejoin="miter"/><polygon points="251.99,849.28 250.47,852.08 253.51,852.08" fill="none" stroke="#ff30b0" stroke-width="0.5" stroke-linejoin="miter"/><polygon points="257.75,847.96 256.23,850.76 259.27,850.76" fill="none" stroke="#ff30b0" stroke-width="0.5" stroke-linejoin="miter"/><polygon points="263.51,846.67 261.99,849.47 265.03,849.47" fill="none" stroke="#ff30b0" stroke-width="0.5" stroke-linejoin="miter"/><polygon points="269.28,845.38 267.76,848.18 270.8,848.18" fill="none" stroke="#ff30b0" stroke-width="0.5" stroke-linejoin="miter"/><polygon points="275.04,844.1 273.52,846.9 276.56,846.9" fill="none" stroke="#ff30b0" stroke-width="0.5" stroke-linejoin="miter"/><polygon points="280.8,842.82 279.28,845.62 282.32,845.62" fill="none" stroke="#ff30b0" stroke-width="0.5" stroke-linejoin="miter"/><polygon points="286.56,841.54 285.04,844.34 288.08,844.34" fill="none" stroke="#ff30b0" stroke-width="0.5" stroke-linejoin="miter"/><polygon points="292.32,840.26 290.8,843.06 293.84,843.06" fill="none" stroke="#ff30b0" stroke-width="0.5" stroke-linejoin="miter"/><polygon points="298.09,838.96 296.57,841.76 299.61,841.76" fill="none" stroke="#ff30b0" stroke-width="0.5" stroke-linejoin="miter"/><polygon points="303.85,837.66 302.33,840.46 305.37,840.46" fill="none" stroke="#ff30b0" stroke-width="0.5" stroke-linejoin="miter"/><polygon points="309.61,836.33 308.09,839.13 311.13,839.13" fill="none" stroke="#ff30b0" stroke-width="0.5" stroke-linejoin="miter"/><polygon points="315.37,834.98 313.85,837.78 316.89,837.78" fill="none" stroke="#ff30b0" stroke-width="0.5" stroke-linejoin="miter"/><polygon points="321.14,833.61 319.62,836.41 322.66,836.41" fill="none" stroke="#ff30b0" stroke-width="0.5" stroke-linejoin="miter"/><polygon points="326.9,832.21 325.38,835.01 328.42,835.01" fill="none" stroke="#ff30b0" stroke-width="0.5" stroke-linejoin="miter"/><polygon points="332.66,830.78 331.14,833.58 334.18,833.58" fill="none" stroke="#ff30b0" stroke-width="0.5" stroke-linejoin="miter"/><polygon points="338.42,829.33 336.9,832.13 339.94,832.13" fill="none" stroke="#ff30b0" stroke-width="0.5" stroke-linejoin="miter"/><polygon points="344.18,827.86 342.66,830.66 345.7,830.66" fill="none" stroke="#ff30b0" stroke-width="0.5" stroke-linejoin="miter"/><polygon points="349.95,826.35 348.43,829.15 351.47,829.15" fill="none" stroke="#ff30b0" stroke-width="0.5" stroke-linejoin="miter"/><polygon points="355.71,824.8 354.19,827.6 357.23,827.6" fill="none" stroke="#ff30b0" stroke-width="0.5" stroke-linejoin="miter"/><polygon points="361.47,823.19 359.95,825.99 362.99,825.99" fill="none" stroke="#ff30b0" stroke-width="0.5" stroke-linejoin="miter"/><polygon points="367.23,821.53 365.71,824.33 368.75,824.33" fill="none" stroke="#ff30b0" stroke-width="0.5" stroke-linejoin="miter"/><polygon points="373,819.79 371.48,822.59 374.52,822.59" fill="none" stroke="#ff30b0" stroke-width="0.5" stroke-linejoin="miter"/><polygon points="378.76,817.95 377.24,820.75 380.28,820.75" fill="none" stroke="#ff30b0" stroke-width="0.5" stroke-linejoin="miter"/><polygon points="384.52,816.04 383,818.84 386.04,818.84" fill="none" stroke="#ff30b0" stroke-width="0.5" stroke-linejoin="miter"/><polygon points="390.28,814.08 388.76,816.88 391.8,816.88" fill="none" stroke="#ff30b0" stroke-width="0.5" stroke-linejoin="miter"/><polygon points="396.04,812.07 394.52,814.87 397.56,814.87" fill="none" stroke="#ff30b0" stroke-width="0.5" stroke-linejoin="miter"/><polygon points="401.81,810.04 400.29,812.84 403.33,812.84" fill="none" stroke="#ff30b0" stroke-width="0.5" stroke-linejoin="miter"/><polygon points="407.57,808.01 406.05,810.81 409.09,810.81" fill="none" stroke="#ff30b0" stroke-width="0.5" stroke-linejoin="miter"/><polygon points="413.33,805.99 411.81,808.79 414.85,808.79" fill="none" stroke="#ff30b0" stroke-width="0.5" stroke-linejoin="miter"/><polygon points="419.09,804 417.57,806.8 420.61,806.8" fill="none" stroke="#ff30b0" stroke-width="0.5" stroke-linejoin="miter"/><polygon points="424.86,802.06 423.34,804.86 426.38,804.86" fill="none" stroke="#ff30b0" stroke-width="0.5" stroke-linejoin="miter"/><polygon points="430.62,800.19 429.1,802.99 432.14,802.99" fill="none" stroke="#ff30b0" stroke-width="0.5" stroke-linejoin="miter"/><polygon points="436.38,798.37 434.86,801.17 437.9,801.17" fill="none" stroke="#ff30b0" stroke-width="0.5" stroke-linejoin="miter"/><polygon points="442.14,796.56 440.62,799.36 443.66,799.36" fill="none" stroke="#ff30b0" stroke-width="0.5" stroke-linejoin="miter"/><polygon points="447.9,794.76 446.38,797.56 449.42,797.56" fill="none" stroke="#ff30b0" stroke-width="0.5" stroke-linejoin="miter"/><polygon points="453.67,792.98 452.15,795.78 455.19,795.78" fill="none" stroke="#ff30b0" stroke-width="0.5" stroke-linejoin="miter"/><polygon points="459.43,791.22 457.91,794.02 460.95,794.02" fill="none" stroke="#ff30b0" stroke-width="0.5" stroke-linejoin="miter"/><polygon points="465.19,789.48 463.67,792.28 466.71,792.28" fill="none" stroke="#ff30b0" stroke-width="0.5" stroke-linejoin="miter"/><polygon points="470.95,787.75 469.43,790.55 472.47,790.55" fill="none" stroke="#ff30b0" stroke-width="0.5" stroke-linejoin="miter"/><polygon points="476.72,786.04 475.2,788.84 478.24,788.84" fill="none" stroke="#ff30b0" stroke-width="0.5" stroke-linejoin="miter"/><polygon points="482.48,784.35 480.96,787.15 484,787.15" fill="none" stroke="#ff30b0" stroke-width="0.5" stroke-linejoin="miter"/><polygon points="488.24,782.67 486.72,785.47 489.76,785.47" fill="none" stroke="#ff30b0" stroke-width="0.5" stroke-linejoin="miter"/><polygon points="494,781.02 492.48,783.82 495.52,783.82" fill="none" stroke="#ff30b0" stroke-width="0.5" stroke-linejoin="miter"/><polygon points="499.76,779.38 498.24,782.18 501.28,782.18" fill="none" stroke="#ff30b0" stroke-width="0.5" stroke-linejoin="miter"/></g>
<g><polygon points="25.66,900.33 28.46,898.81 28.46,901.85" fill="none" stroke="#ff8a3c" stroke-width="0.5" stroke-linejoin="miter"/><polygon points="31.42,899.33 34.22,897.81 34.22,900.85" fill="none" stroke="#ff8a3c" stroke-width="0.5" stroke-linejoin="miter"/><polygon points="37.19,898.32 39.99,896.8 39.99,899.84" fill="none" stroke="#ff8a3c" stroke-width="0.5" stroke-linejoin="miter"/><polygon points="42.95,897.28 45.75,895.76 45.75,898.8" fill="none" stroke="#ff8a3c" stroke-width="0.5" stroke-linejoin="miter"/><polygon points="48.71,896.22 51.51,894.7 51.51,897.74" fill="none" stroke="#ff8a3c" stroke-width="0.5" stroke-linejoin="miter"/><polygon points="54.47,895.14 57.27,893.62 57.27,896.66" fill="none" stroke="#ff8a3c" stroke-width="0.5" stroke-linejoin="miter"/><polygon points="60.24,894.04 63.04,892.52 63.04,895.56" fill="none" stroke="#ff8a3c" stroke-width="0.5" stroke-linejoin="miter"/><polygon points="66,892.92 68.8,891.4 68.8,894.44" fill="none" stroke="#ff8a3c" stroke-width="0.5" stroke-linejoin="miter"/><polygon points="71.76,891.78 74.56,890.26 74.56,893.3" fill="none" stroke="#ff8a3c" stroke-width="0.5" stroke-linejoin="miter"/><polygon points="77.52,890.63 80.32,889.11 80.32,892.15" fill="none" stroke="#ff8a3c" stroke-width="0.5" stroke-linejoin="miter"/><polygon points="83.28,889.45 86.08,887.93 86.08,890.97" fill="none" stroke="#ff8a3c" stroke-width="0.5" stroke-linejoin="miter"/><polygon points="89.05,888.23 91.85,886.71 91.85,889.75" fill="none" stroke="#ff8a3c" stroke-width="0.5" stroke-linejoin="miter"/><polygon points="94.81,886.98 97.61,885.46 97.61,888.5" fill="none" stroke="#ff8a3c" stroke-width="0.5" stroke-linejoin="miter"/><polygon points="100.57,885.71 103.37,884.19 103.37,887.23" fill="none" stroke="#ff8a3c" stroke-width="0.5" stroke-linejoin="miter"/><polygon points="106.33,884.42 109.13,882.9 109.13,885.94" fill="none" stroke="#ff8a3c" stroke-width="0.5" stroke-linejoin="miter"/><polygon points="112.1,883.11 114.9,881.59 114.9,884.63" fill="none" stroke="#ff8a3c" stroke-width="0.5" stroke-linejoin="miter"/><polygon points="117.86,881.8 120.66,880.28 120.66,883.32" fill="none" stroke="#ff8a3c" stroke-width="0.5" stroke-linejoin="miter"/><polygon points="123.62,880.47 126.42,878.95 126.42,881.99" fill="none" stroke="#ff8a3c" stroke-width="0.5" stroke-linejoin="miter"/><polygon points="129.38,879.15 132.18,877.63 132.18,880.67" fill="none" stroke="#ff8a3c" stroke-width="0.5" stroke-linejoin="miter"/><polygon points="135.14,877.82 137.94,876.3 137.94,879.34" fill="none" stroke="#ff8a3c" stroke-width="0.5" stroke-linejoin="miter"/><polygon points="140.91,876.5 143.71,874.98 143.71,878.02" fill="none" stroke="#ff8a3c" stroke-width="0.5" stroke-linejoin="miter"/><polygon points="146.67,875.16 149.47,873.64 149.47,876.68" fill="none" stroke="#ff8a3c" stroke-width="0.5" stroke-linejoin="miter"/><polygon points="152.43,873.8 155.23,872.28 155.23,875.32" fill="none" stroke="#ff8a3c" stroke-width="0.5" stroke-linejoin="miter"/><polygon points="158.19,872.44 160.99,870.92 160.99,873.96" fill="none" stroke="#ff8a3c" stroke-width="0.5" stroke-linejoin="miter"/><polygon points="163.96,871.07 166.76,869.55 166.76,872.59" fill="none" stroke="#ff8a3c" stroke-width="0.5" stroke-linejoin="miter"/><polygon points="169.72,869.7 172.52,868.18 172.52,871.22" fill="none" stroke="#ff8a3c" stroke-width="0.5" stroke-linejoin="miter"/><polygon points="175.48,868.33 178.28,866.81 178.28,869.85" fill="none" stroke="#ff8a3c" stroke-width="0.5" stroke-linejoin="miter"/><polygon points="181.24,866.95 184.04,865.43 184.04,868.47" fill="none" stroke="#ff8a3c" stroke-width="0.5" stroke-linejoin="miter"/><polygon points="187,865.58 189.8,864.06 189.8,867.1" fill="none" stroke="#ff8a3c" stroke-width="0.5" stroke-linejoin="miter"/><polygon points="192.77,864.22 195.57,862.7 195.57,865.74" fill="none" stroke="#ff8a3c" stroke-width="0.5" stroke-linejoin="miter"/><polygon points="198.53,862.85 201.33,861.33 201.33,864.37" fill="none" stroke="#ff8a3c" stroke-width="0.5" stroke-linejoin="miter"/><polygon points="204.29,861.49 207.09,859.97 207.09,863.01" fill="none" stroke="#ff8a3c" stroke-width="0.5" stroke-linejoin="miter"/><polygon points="210.05,860.12 212.85,858.6 212.85,861.64" fill="none" stroke="#ff8a3c" stroke-width="0.5" stroke-linejoin="miter"/><polygon points="215.82,858.74 218.62,857.22 218.62,860.26" fill="none" stroke="#ff8a3c" stroke-width="0.5" stroke-linejoin="miter"/><polygon points="221.58,857.37 224.38,855.85 224.38,858.89" fill="none" stroke="#ff8a3c" stroke-width="0.5" stroke-linejoin="miter"/><polygon points="227.34,856.01 230.14,854.49 230.14,857.53" fill="none" stroke="#ff8a3c" stroke-width="0.5" stroke-linejoin="miter"/><polygon points="233.1,854.65 235.9,853.13 235.9,856.17" fill="none" stroke="#ff8a3c" stroke-width="0.5" stroke-linejoin="miter"/><polygon points="238.86,853.29 241.66,851.77 241.66,854.81" fill="none" stroke="#ff8a3c" stroke-width="0.5" stroke-linejoin="miter"/><polygon points="244.63,851.95 247.43,850.43 247.43,853.47" fill="none" stroke="#ff8a3c" stroke-width="0.5" stroke-linejoin="miter"/><polygon points="250.39,850.61 253.19,849.09 253.19,852.13" fill="none" stroke="#ff8a3c" stroke-width="0.5" stroke-linejoin="miter"/><polygon points="256.15,849.3 258.95,847.78 258.95,850.82" fill="none" stroke="#ff8a3c" stroke-width="0.5" stroke-linejoin="miter"/><polygon points="261.91,848 264.71,846.48 264.71,849.52" fill="none" stroke="#ff8a3c" stroke-width="0.5" stroke-linejoin="miter"/><polygon points="267.68,846.72 270.48,845.2 270.48,848.24" fill="none" stroke="#ff8a3c" stroke-width="0.5" stroke-linejoin="miter"/><polygon points="273.44,845.44 276.24,843.92 276.24,846.96" fill="none" stroke="#ff8a3c" stroke-width="0.5" stroke-linejoin="miter"/><polygon points="279.2,844.18 282,842.66 282,845.7" fill="none" stroke="#ff8a3c" stroke-width="0.5" stroke-linejoin="miter"/><polygon points="284.96,842.92 287.76,841.4 287.76,844.44" fill="none" stroke="#ff8a3c" stroke-width="0.5" stroke-linejoin="miter"/><polygon points="290.72,841.65 293.52,840.13 293.52,843.17" fill="none" stroke="#ff8a3c" stroke-width="0.5" stroke-linejoin="miter"/><polygon points="296.49,840.38 299.29,838.86 299.29,841.9" fill="none" stroke="#ff8a3c" stroke-width="0.5" stroke-linejoin="miter"/><polygon points="302.25,839.1 305.05,837.58 305.05,840.62" fill="none" stroke="#ff8a3c" stroke-width="0.5" stroke-linejoin="miter"/><polygon points="308.01,837.81 310.81,836.29 310.81,839.33" fill="none" stroke="#ff8a3c" stroke-width="0.5" stroke-linejoin="miter"/><polygon points="313.77,836.5 316.57,834.98 316.57,838.02" fill="none" stroke="#ff8a3c" stroke-width="0.5" stroke-linejoin="miter"/><polygon points="319.54,835.16 322.34,833.64 322.34,836.68" fill="none" stroke="#ff8a3c" stroke-width="0.5" stroke-linejoin="miter"/><polygon points="325.3,833.81 328.1,832.29 328.1,835.33" fill="none" stroke="#ff8a3c" stroke-width="0.5" stroke-linejoin="miter"/><polygon points="331.06,832.42 333.86,830.9 333.86,833.94" fill="none" stroke="#ff8a3c" stroke-width="0.5" stroke-linejoin="miter"/><polygon points="336.82,831.03 339.62,829.51 339.62,832.55" fill="none" stroke="#ff8a3c" stroke-width="0.5" stroke-linejoin="miter"/><polygon points="342.58,829.61 345.38,828.09 345.38,831.13" fill="none" stroke="#ff8a3c" stroke-width="0.5" stroke-linejoin="miter"/><polygon points="348.35,828.17 351.15,826.65 351.15,829.69" fill="none" stroke="#ff8a3c" stroke-width="0.5" stroke-linejoin="miter"/><polygon points="354.11,826.7 356.91,825.18 356.91,828.22" fill="none" stroke="#ff8a3c" stroke-width="0.5" stroke-linejoin="miter"/><polygon points="359.87,825.2 362.67,823.68 362.67,826.72" fill="none" stroke="#ff8a3c" stroke-width="0.5" stroke-linejoin="miter"/><polygon points="365.63,823.67 368.43,822.15 368.43,825.19" fill="none" stroke="#ff8a3c" stroke-width="0.5" stroke-linejoin="miter"/><polygon points="371.4,822.08 374.2,820.56 374.2,823.6" fill="none" stroke="#ff8a3c" stroke-width="0.5" stroke-linejoin="miter"/><polygon points="377.16,820.43 379.96,818.91 379.96,821.95" fill="none" stroke="#ff8a3c" stroke-width="0.5" stroke-linejoin="miter"/><polygon points="382.92,818.73 385.72,817.21 385.72,820.25" fill="none" stroke="#ff8a3c" stroke-width="0.5" stroke-linejoin="miter"/><polygon points="388.68,817 391.48,815.48 391.48,818.52" fill="none" stroke="#ff8a3c" stroke-width="0.5" stroke-linejoin="miter"/><polygon points="394.44,815.24 397.24,813.72 397.24,816.76" fill="none" stroke="#ff8a3c" stroke-width="0.5" stroke-linejoin="miter"/><polygon points="400.21,813.48 403.01,811.96 403.01,815" fill="none" stroke="#ff8a3c" stroke-width="0.5" stroke-linejoin="miter"/><polygon points="405.97,811.72 408.77,810.2 408.77,813.24" fill="none" stroke="#ff8a3c" stroke-width="0.5" stroke-linejoin="miter"/><polygon points="411.73,809.98 414.53,808.46 414.53,811.5" fill="none" stroke="#ff8a3c" stroke-width="0.5" stroke-linejoin="miter"/><polygon points="417.49,808.27 420.29,806.75 420.29,809.79" fill="none" stroke="#ff8a3c" stroke-width="0.5" stroke-linejoin="miter"/><polygon points="423.26,806.6 426.06,805.08 426.06,808.12" fill="none" stroke="#ff8a3c" stroke-width="0.5" stroke-linejoin="miter"/><polygon points="429.02,804.99 431.82,803.47 431.82,806.51" fill="none" stroke="#ff8a3c" stroke-width="0.5" stroke-linejoin="miter"/><polygon points="434.78,803.43 437.58,801.91 437.58,804.95" fill="none" stroke="#ff8a3c" stroke-width="0.5" stroke-linejoin="miter"/><polygon points="440.54,801.87 443.34,800.35 443.34,803.39" fill="none" stroke="#ff8a3c" stroke-width="0.5" stroke-linejoin="miter"/><polygon points="446.3,800.34 449.1,798.82 449.1,801.86" fill="none" stroke="#ff8a3c" stroke-width="0.5" stroke-linejoin="miter"/><polygon points="452.07,798.82 454.87,797.3 454.87,800.34" fill="none" stroke="#ff8a3c" stroke-width="0.5" stroke-linejoin="miter"/><polygon points="457.83,797.33 460.63,795.81 460.63,798.85" fill="none" stroke="#ff8a3c" stroke-width="0.5" stroke-linejoin="miter"/><polygon points="463.59,795.85 466.39,794.33 466.39,797.37" fill="none" stroke="#ff8a3c" stroke-width="0.5" stroke-linejoin="miter"/><polygon points="469.35,794.39 472.15,792.87 472.15,795.91" fill="none" stroke="#ff8a3c" stroke-width="0.5" stroke-linejoin="miter"/><polygon points="475.12,792.94 477.92,791.42 477.92,794.46" fill="none" stroke="#ff8a3c" stroke-width="0.5" stroke-linejoin="miter"/><polygon points="480.88,791.52 483.68,790 483.68,793.04" fill="none" stroke="#ff8a3c" stroke-width="0.5" stroke-linejoin="miter"/><polygon points="486.64,790.12 489.44,788.6 489.44,791.64" fill="none" stroke="#ff8a3c" stroke-width="0.5" stroke-linejoin="miter"/><polygon points="492.4,788.74 495.2,787.22 495.2,790.26" fill="none" stroke="#ff8a3c" stroke-width="0.5" stroke-linejoin="miter"/><polygon points="498.16,787.39 500.96,785.87 500.96,788.91" fill="none" stroke="#ff8a3c" stroke-width="0.5" stroke-linejoin="miter"/></g>
<g><polygon points="28.86,900.07 26.06,898.55 26.06,901.59" fill="none" stroke="#3333ff" stroke-width="0.5" stroke-linejoin="miter"/><polygon points="34.62,898.82 31.82,897.3 31.82,900.34" fill="none" stroke="#3333ff" stroke-width="0.5" stroke-linejoin="miter"/><polygon points="40.39,897.57 37.59,896.05 37.59,899.09" fill="none" stroke="#3333ff" stroke-width="0.5" stroke-linejoin="miter"/><polygon points="46.15,896.3 43.35,894.78 43.35,897.82" fill="none" stroke="#3333ff" stroke-width="0.5" stroke-linejoin="miter"/><polygon points="51.91,895.03 49.11,893.51 49.11,896.55" fill="none" stroke="#3333ff" stroke-width="0.5" stroke-linejoin="miter"/><polygon points="57.67,893.74 54.87,892.22 54.87,895.26" fill="none" stroke="#3333ff" stroke-width="0.5" stroke-linejoin="miter"/><polygon points="63.44,892.45 60.64,890.93 60.64,893.97" fill="none" stroke="#3333ff" stroke-width="0.5" stroke-linejoin="miter"/><polygon points="69.2,891.14 66.4,889.62 66.4,892.66" fill="none" stroke="#3333ff" stroke-width="0.5" stroke-linejoin="miter"/><polygon points="74.96,889.82 72.16,888.3 72.16,891.34" fill="none" stroke="#3333ff" stroke-width="0.5" stroke-linejoin="miter"/><polygon points="80.72,888.49 77.92,886.97 77.92,890.01" fill="none" stroke="#3333ff" stroke-width="0.5" stroke-linejoin="miter"/><polygon points="86.48,887.15 83.68,885.63 83.68,888.67" fill="none" stroke="#3333ff" stroke-width="0.5" stroke-linejoin="miter"/><polygon points="92.25,885.79 89.45,884.27 89.45,887.31" fill="none" stroke="#3333ff" stroke-width="0.5" stroke-linejoin="miter"/><polygon points="98.01,884.41 95.21,882.89 95.21,885.93" fill="none" stroke="#3333ff" stroke-width="0.5" stroke-linejoin="miter"/><polygon points="103.77,883.01 100.97,881.49 100.97,884.53" fill="none" stroke="#3333ff" stroke-width="0.5" stroke-linejoin="miter"/><polygon points="109.53,881.61 106.73,880.09 106.73,883.13" fill="none" stroke="#3333ff" stroke-width="0.5" stroke-linejoin="miter"/><polygon points="115.3,880.21 112.5,878.69 112.5,881.73" fill="none" stroke="#3333ff" stroke-width="0.5" stroke-linejoin="miter"/><polygon points="121.06,878.8 118.26,877.28 118.26,880.32" fill="none" stroke="#3333ff" stroke-width="0.5" stroke-linejoin="miter"/><polygon points="126.82,877.4 124.02,875.88 124.02,878.92" fill="none" stroke="#3333ff" stroke-width="0.5" stroke-linejoin="miter"/><polygon points="132.58,876 129.78,874.48 129.78,877.52" fill="none" stroke="#3333ff" stroke-width="0.5" stroke-linejoin="miter"/><polygon points="138.34,874.62 135.54,873.1 135.54,876.14" fill="none" stroke="#3333ff" stroke-width="0.5" stroke-linejoin="miter"/><polygon points="144.11,873.25 141.31,871.73 141.31,874.77" fill="none" stroke="#3333ff" stroke-width="0.5" stroke-linejoin="miter"/><polygon points="149.87,871.87 147.07,870.35 147.07,873.39" fill="none" stroke="#3333ff" stroke-width="0.5" stroke-linejoin="miter"/><polygon points="155.63,870.5 152.83,868.98 152.83,872.02" fill="none" stroke="#3333ff" stroke-width="0.5" stroke-linejoin="miter"/><polygon points="161.39,869.12 158.59,867.6 158.59,870.64" fill="none" stroke="#3333ff" stroke-width="0.5" stroke-linejoin="miter"/><polygon points="167.16,867.75 164.36,866.23 164.36,869.27" fill="none" stroke="#3333ff" stroke-width="0.5" stroke-linejoin="miter"/><polygon points="172.92,866.39 170.12,864.87 170.12,867.91" fill="none" stroke="#3333ff" stroke-width="0.5" stroke-linejoin="miter"/><polygon points="178.68,865.03 175.88,863.51 175.88,866.55" fill="none" stroke="#3333ff" stroke-width="0.5" stroke-linejoin="miter"/><polygon points="184.44,863.68 181.64,862.16 181.64,865.2" fill="none" stroke="#3333ff" stroke-width="0.5" stroke-linejoin="miter"/><polygon points="190.2,862.34 187.4,860.82 187.4,863.86" fill="none" stroke="#3333ff" stroke-width="0.5" stroke-linejoin="miter"/><polygon points="195.97,861.02 193.17,859.5 193.17,862.54" fill="none" stroke="#3333ff" stroke-width="0.5" stroke-linejoin="miter"/><polygon points="201.73,859.7 198.93,858.18 198.93,861.22" fill="none" stroke="#3333ff" stroke-width="0.5" stroke-linejoin="miter"/><polygon points="207.49,858.38 204.69,856.86 204.69,859.9" fill="none" stroke="#3333ff" stroke-width="0.5" stroke-linejoin="miter"/><polygon points="213.25,857.06 210.45,855.54 210.45,858.58" fill="none" stroke="#3333ff" stroke-width="0.5" stroke-linejoin="miter"/><polygon points="219.02,855.75 216.22,854.23 216.22,857.27" fill="none" stroke="#3333ff" stroke-width="0.5" stroke-linejoin="miter"/><polygon points="224.78,854.45 221.98,852.93 221.98,855.97" fill="none" stroke="#3333ff" stroke-width="0.5" stroke-linejoin="miter"/><polygon points="230.54,853.17 227.74,851.65 227.74,854.69" fill="none" stroke="#3333ff" stroke-width="0.5" stroke-linejoin="miter"/><polygon points="236.3,851.9 233.5,850.38 233.5,853.42" fill="none" stroke="#3333ff" stroke-width="0.5" stroke-linejoin="miter"/><polygon points="242.06,850.65 239.26,849.13 239.26,852.17" fill="none" stroke="#3333ff" stroke-width="0.5" stroke-linejoin="miter"/><polygon points="247.83,849.42 245.03,847.9 245.03,850.94" fill="none" stroke="#3333ff" stroke-width="0.5" stroke-linejoin="miter"/><polygon points="253.59,848.21 250.79,846.69 250.79,849.73" fill="none" stroke="#3333ff" stroke-width="0.5" stroke-linejoin="miter"/><polygon points="259.35,847.04 256.55,845.52 256.55,848.56" fill="none" stroke="#3333ff" stroke-width="0.5" stroke-linejoin="miter"/><polygon points="265.11,845.89 262.31,844.37 262.31,847.41" fill="none" stroke="#3333ff" stroke-width="0.5" stroke-linejoin="miter"/><polygon points="270.88,844.77 268.08,843.25 268.08,846.29" fill="none" stroke="#3333ff" stroke-width="0.5" stroke-linejoin="miter"/><polygon points="276.64,843.67 273.84,842.15 273.84,845.19" fill="none" stroke="#3333ff" stroke-width="0.5" stroke-linejoin="miter"/><polygon points="282.4,842.58 279.6,841.06 279.6,844.1" fill="none" stroke="#3333ff" stroke-width="0.5" stroke-linejoin="miter"/><polygon points="288.16,841.5 285.36,839.98 285.36,843.02" fill="none" stroke="#3333ff" stroke-width="0.5" stroke-linejoin="miter"/><polygon points="293.92,840.43 291.12,838.91 291.12,841.95" fill="none" stroke="#3333ff" stroke-width="0.5" stroke-linejoin="miter"/><polygon points="299.69,839.36 296.89,837.84 296.89,840.88" fill="none" stroke="#3333ff" stroke-width="0.5" stroke-linejoin="miter"/><polygon points="305.45,838.28 302.65,836.76 302.65,839.8" fill="none" stroke="#3333ff" stroke-width="0.5" stroke-linejoin="miter"/><polygon points="311.21,837.19 308.41,835.67 308.41,838.71" fill="none" stroke="#3333ff" stroke-width="0.5" stroke-linejoin="miter"/><polygon points="316.97,836.08 314.17,834.56 314.17,837.6" fill="none" stroke="#3333ff" stroke-width="0.5" stroke-linejoin="miter"/><polygon points="322.74,834.96 319.94,833.44 319.94,836.48" fill="none" stroke="#3333ff" stroke-width="0.5" stroke-linejoin="miter"/><polygon points="328.5,833.81 325.7,832.29 325.7,835.33" fill="none" stroke="#3333ff" stroke-width="0.5" stroke-linejoin="miter"/><polygon points="334.26,832.62 331.46,831.1 331.46,834.14" fill="none" stroke="#3333ff" stroke-width="0.5" stroke-linejoin="miter"/><polygon points="340.02,831.4 337.22,829.88 337.22,832.92" fill="none" stroke="#3333ff" stroke-width="0.5" stroke-linejoin="miter"/><polygon points="345.78,830.17 342.98,828.65 342.98,831.69" fill="none" stroke="#3333ff" stroke-width="0.5" stroke-linejoin="miter"/><polygon points="351.55,828.93 348.75,827.41 348.75,830.45" fill="none" stroke="#3333ff" stroke-width="0.5" stroke-linejoin="miter"/><polygon points="357.31,827.69 354.51,826.17 354.51,829.21" fill="none" stroke="#3333ff" stroke-width="0.5" stroke-linejoin="miter"/><polygon points="363.07,826.47 360.27,824.95 360.27,827.99" fill="none" stroke="#3333ff" stroke-width="0.5" stroke-linejoin="miter"/><polygon points="368.83,825.27 366.03,823.75 366.03,826.79" fill="none" stroke="#3333ff" stroke-width="0.5" stroke-linejoin="miter"/><polygon points="374.6,824.1 371.8,822.58 371.8,825.62" fill="none" stroke="#3333ff" stroke-width="0.5" stroke-linejoin="miter"/><polygon points="380.36,822.95 377.56,821.43 377.56,824.47" fill="none" stroke="#3333ff" stroke-width="0.5" stroke-linejoin="miter"/><polygon points="386.12,821.82 383.32,820.3 383.32,823.34" fill="none" stroke="#3333ff" stroke-width="0.5" stroke-linejoin="miter"/><polygon points="391.88,820.71 389.08,819.19 389.08,822.23" fill="none" stroke="#3333ff" stroke-width="0.5" stroke-linejoin="miter"/><polygon points="397.64,819.59 394.84,818.07 394.84,821.11" fill="none" stroke="#3333ff" stroke-width="0.5" stroke-linejoin="miter"/><polygon points="403.41,818.48 400.61,816.96 400.61,820" fill="none" stroke="#3333ff" stroke-width="0.5" stroke-linejoin="miter"/><polygon points="409.17,817.36 406.37,815.84 406.37,818.88" fill="none" stroke="#3333ff" stroke-width="0.5" stroke-linejoin="miter"/><polygon points="414.93,816.23 412.13,814.71 412.13,817.75" fill="none" stroke="#3333ff" stroke-width="0.5" stroke-linejoin="miter"/><polygon points="420.69,815.09 417.89,813.57 417.89,816.61" fill="none" stroke="#3333ff" stroke-width="0.5" stroke-linejoin="miter"/><polygon points="426.46,813.92 423.66,812.4 423.66,815.44" fill="none" stroke="#3333ff" stroke-width="0.5" stroke-linejoin="miter"/><polygon points="432.22,812.73 429.42,811.21 429.42,814.25" fill="none" stroke="#3333ff" stroke-width="0.5" stroke-linejoin="miter"/><polygon points="437.98,811.51 435.18,809.99 435.18,813.03" fill="none" stroke="#3333ff" stroke-width="0.5" stroke-linejoin="miter"/><polygon points="443.74,810.28 440.94,808.76 440.94,811.8" fill="none" stroke="#3333ff" stroke-width="0.5" stroke-linejoin="miter"/><polygon points="449.5,809.04 446.7,807.52 446.7,810.56" fill="none" stroke="#3333ff" stroke-width="0.5" stroke-linejoin="miter"/><polygon points="455.27,807.78 452.47,806.26 452.47,809.3" fill="none" stroke="#3333ff" stroke-width="0.5" stroke-linejoin="miter"/><polygon points="461.03,806.51 458.23,804.99 458.23,808.03" fill="none" stroke="#3333ff" stroke-width="0.5" stroke-linejoin="miter"/><polygon points="466.79,805.23 463.99,803.71 463.99,806.75" fill="none" stroke="#3333ff" stroke-width="0.5" stroke-linejoin="miter"/><polygon points="472.55,803.93 469.75,802.41 469.75,805.45" fill="none" stroke="#3333ff" stroke-width="0.5" stroke-linejoin="miter"/><polygon points="478.32,802.62 475.52,801.1 475.52,804.14" fill="none" stroke="#3333ff" stroke-width="0.5" stroke-linejoin="miter"/><polygon points="484.08,801.3 481.28,799.78 481.28,802.82" fill="none" stroke="#3333ff" stroke-width="0.5" stroke-linejoin="miter"/><polygon points="489.84,799.97 487.04,798.45 487.04,801.49" fill="none" stroke="#3333ff" stroke-width="0.5" stroke-linejoin="miter"/><polygon points="495.6,798.62 492.8,797.1 492.8,800.14" fill="none" stroke="#3333ff" stroke-width="0.5" stroke-linejoin="miter"/><polygon points="501.36,797.26 498.56,795.74 498.56,798.78" fill="none" stroke="#3333ff" stroke-width="0.5" stroke-linejoin="miter"/></g>
<g><path d="M26.06 899.58H28.46M27.26 898.38V900.78" stroke="#4a806a" stroke-width="0.55" fill="none"/><path d="M31.82 897.87H34.22M33.02 896.67V899.07" stroke="#4a806a" stroke-width="0.55" fill="none"/><path d="M37.59 896.19H39.99M38.79 894.99V897.39" stroke="#4a806a" stroke-width="0.55" fill="none"/><path d="M43.35 894.53H45.75M44.55 893.33V895.73" stroke="#4a806a" stroke-width="0.55" fill="none"/><path d="M49.11 892.89H51.51M50.31 891.69V894.09" stroke="#4a806a" stroke-width="0.55" fill="none"/><path d="M54.87 891.27H57.27M56.07 890.07V892.47" stroke="#4a806a" stroke-width="0.55" fill="none"/><path d="M60.64 889.67H63.04M61.84 888.47V890.87" stroke="#4a806a" stroke-width="0.55" fill="none"/><path d="M66.4 888.1H68.8M67.6 886.9V889.3" stroke="#4a806a" stroke-width="0.55" fill="none"/><path d="M72.16 886.55H74.56M73.36 885.35V887.75" stroke="#4a806a" stroke-width="0.55" fill="none"/><path d="M77.92 885.03H80.32M79.12 883.83V886.23" stroke="#4a806a" stroke-width="0.55" fill="none"/><path d="M83.68 883.53H86.08M84.88 882.33V884.73" stroke="#4a806a" stroke-width="0.55" fill="none"/><path d="M89.45 882.06H91.85M90.65 880.86V883.26" stroke="#4a806a" stroke-width="0.55" fill="none"/><path d="M95.21 880.62H97.61M96.41 879.42V881.82" stroke="#4a806a" stroke-width="0.55" fill="none"/><path d="M100.97 879.2H103.37M102.17 878V880.4" stroke="#4a806a" stroke-width="0.55" fill="none"/><path d="M106.73 877.8H109.13M107.93 876.6V879" stroke="#4a806a" stroke-width="0.55" fill="none"/><path d="M112.5 876.41H114.9M113.7 875.21V877.61" stroke="#4a806a" stroke-width="0.55" fill="none"/><path d="M118.26 875.03H120.66M119.46 873.83V876.23" stroke="#4a806a" stroke-width="0.55" fill="none"/><path d="M124.02 873.65H126.42M125.22 872.45V874.85" stroke="#4a806a" stroke-width="0.55" fill="none"/><path d="M129.78 872.27H132.18M130.98 871.07V873.47" stroke="#4a806a" stroke-width="0.55" fill="none"/><path d="M135.54 870.89H137.94M136.74 869.69V872.09" stroke="#4a806a" stroke-width="0.55" fill="none"/><path d="M141.31 869.49H143.71M142.51 868.29V870.69" stroke="#4a806a" stroke-width="0.55" fill="none"/><path d="M147.07 868.08H149.47M148.27 866.88V869.28" stroke="#4a806a" stroke-width="0.55" fill="none"/><path d="M152.83 866.66H155.23M154.03 865.46V867.86" stroke="#4a806a" stroke-width="0.55" fill="none"/><path d="M158.59 865.25H160.99M159.79 864.05V866.45" stroke="#4a806a" stroke-width="0.55" fill="none"/><path d="M164.36 863.85H166.76M165.56 862.65V865.05" stroke="#4a806a" stroke-width="0.55" fill="none"/><path d="M170.12 862.46H172.52M171.32 861.26V863.66" stroke="#4a806a" stroke-width="0.55" fill="none"/><path d="M175.88 861.11H178.28M177.08 859.91V862.31" stroke="#4a806a" stroke-width="0.55" fill="none"/><path d="M181.64 859.78H184.04M182.84 858.58V860.98" stroke="#4a806a" stroke-width="0.55" fill="none"/><path d="M187.4 858.51H189.8M188.6 857.31V859.71" stroke="#4a806a" stroke-width="0.55" fill="none"/><path d="M193.17 857.28H195.57M194.37 856.08V858.48" stroke="#4a806a" stroke-width="0.55" fill="none"/><path d="M198.93 856.11H201.33M200.13 854.91V857.31" stroke="#4a806a" stroke-width="0.55" fill="none"/><path d="M204.69 854.97H207.09M205.89 853.77V856.17" stroke="#4a806a" stroke-width="0.55" fill="none"/><path d="M210.45 853.86H212.85M211.65 852.66V855.06" stroke="#4a806a" stroke-width="0.55" fill="none"/><path d="M216.22 852.79H218.62M217.42 851.59V853.99" stroke="#4a806a" stroke-width="0.55" fill="none"/><path d="M221.98 851.73H224.38M223.18 850.53V852.93" stroke="#4a806a" stroke-width="0.55" fill="none"/><path d="M227.74 850.7H230.14M228.94 849.5V851.9" stroke="#4a806a" stroke-width="0.55" fill="none"/><path d="M233.5 849.67H235.9M234.7 848.47V850.87" stroke="#4a806a" stroke-width="0.55" fill="none"/><path d="M239.26 848.65H241.66M240.46 847.45V849.85" stroke="#4a806a" stroke-width="0.55" fill="none"/><path d="M245.03 847.63H247.43M246.23 846.43V848.83" stroke="#4a806a" stroke-width="0.55" fill="none"/><path d="M250.79 846.61H253.19M251.99 845.41V847.81" stroke="#4a806a" stroke-width="0.55" fill="none"/><path d="M256.55 845.59H258.95M257.75 844.39V846.79" stroke="#4a806a" stroke-width="0.55" fill="none"/><path d="M262.31 844.57H264.71M263.51 843.37V845.77" stroke="#4a806a" stroke-width="0.55" fill="none"/><path d="M268.08 843.55H270.48M269.28 842.35V844.75" stroke="#4a806a" stroke-width="0.55" fill="none"/><path d="M273.84 842.54H276.24M275.04 841.34V843.74" stroke="#4a806a" stroke-width="0.55" fill="none"/><path d="M279.6 841.53H282M280.8 840.33V842.73" stroke="#4a806a" stroke-width="0.55" fill="none"/><path d="M285.36 840.54H287.76M286.56 839.34V841.74" stroke="#4a806a" stroke-width="0.55" fill="none"/><path d="M291.12 839.54H293.52M292.32 838.34V840.74" stroke="#4a806a" stroke-width="0.55" fill="none"/><path d="M296.89 838.56H299.29M298.09 837.36V839.76" stroke="#4a806a" stroke-width="0.55" fill="none"/><path d="M302.65 837.59H305.05M303.85 836.39V838.79" stroke="#4a806a" stroke-width="0.55" fill="none"/><path d="M308.41 836.63H310.81M309.61 835.43V837.83" stroke="#4a806a" stroke-width="0.55" fill="none"/><path d="M314.17 835.67H316.57M315.37 834.47V836.87" stroke="#4a806a" stroke-width="0.55" fill="none"/><path d="M319.94 834.73H322.34M321.14 833.53V835.93" stroke="#4a806a" stroke-width="0.55" fill="none"/><path d="M325.7 833.81H328.1M326.9 832.61V835.01" stroke="#4a806a" stroke-width="0.55" fill="none"/><path d="M331.46 832.87H333.86M332.66 831.67V834.07" stroke="#4a806a" stroke-width="0.55" fill="none"/><path d="M337.22 831.93H339.62M338.42 830.73V833.13" stroke="#4a806a" stroke-width="0.55" fill="none"/><path d="M342.98 831H345.38M344.18 829.8V832.2" stroke="#4a806a" stroke-width="0.55" fill="none"/><path d="M348.75 830.09H351.15M349.95 828.89V831.29" stroke="#4a806a" stroke-width="0.55" fill="none"/><path d="M354.51 829.22H356.91M355.71 828.02V830.42" stroke="#4a806a" stroke-width="0.55" fill="none"/><path d="M360.27 828.41H362.67M361.47 827.21V829.61" stroke="#4a806a" stroke-width="0.55" fill="none"/><path d="M366.03 827.67H368.43M367.23 826.47V828.87" stroke="#4a806a" stroke-width="0.55" fill="none"/><path d="M371.8 827H374.2M373 825.8V828.2" stroke="#4a806a" stroke-width="0.55" fill="none"/><path d="M377.56 826.38H379.96M378.76 825.18V827.58" stroke="#4a806a" stroke-width="0.55" fill="none"/><path d="M383.32 825.79H385.72M384.52 824.59V826.99" stroke="#4a806a" stroke-width="0.55" fill="none"/><path d="M389.08 825.24H391.48M390.28 824.04V826.44" stroke="#4a806a" stroke-width="0.55" fill="none"/><path d="M394.84 824.7H397.24M396.04 823.5V825.9" stroke="#4a806a" stroke-width="0.55" fill="none"/><path d="M400.61 824.18H403.01M401.81 822.98V825.38" stroke="#4a806a" stroke-width="0.55" fill="none"/><path d="M406.37 823.67H408.77M407.57 822.47V824.87" stroke="#4a806a" stroke-width="0.55" fill="none"/><path d="M412.13 823.16H414.53M413.33 821.96V824.36" stroke="#4a806a" stroke-width="0.55" fill="none"/><path d="M417.89 822.64H420.29M419.09 821.44V823.84" stroke="#4a806a" stroke-width="0.55" fill="none"/><path d="M423.66 822.1H426.06M424.86 820.9V823.3" stroke="#4a806a" stroke-width="0.55" fill="none"/><path d="M429.42 821.53H431.82M430.62 820.33V822.73" stroke="#4a806a" stroke-width="0.55" fill="none"/><path d="M435.18 820.95H437.58M436.38 819.75V822.15" stroke="#4a806a" stroke-width="0.55" fill="none"/><path d="M440.94 820.37H443.34M442.14 819.17V821.57" stroke="#4a806a" stroke-width="0.55" fill="none"/><path d="M446.7 819.78H449.1M447.9 818.58V820.98" stroke="#4a806a" stroke-width="0.55" fill="none"/><path d="M452.47 819.19H454.87M453.67 817.99V820.39" stroke="#4a806a" stroke-width="0.55" fill="none"/><path d="M458.23 818.6H460.63M459.43 817.4V819.8" stroke="#4a806a" stroke-width="0.55" fill="none"/><path d="M463.99 818H466.39M465.19 816.8V819.2" stroke="#4a806a" stroke-width="0.55" fill="none"/><path d="M469.75 817.4H472.15M470.95 816.2V818.6" stroke="#4a806a" stroke-width="0.55" fill="none"/><path d="M475.52 816.79H477.92M476.72 815.59V817.99" stroke="#4a806a" stroke-width="0.55" fill="none"/><path d="M481.28 816.18H483.68M482.48 814.98V817.38" stroke="#4a806a" stroke-width="0.55" fill="none"/><path d="M487.04 815.57H489.44M488.24 814.37V816.77" stroke="#4a806a" stroke-width="0.55" fill="none"/><path d="M492.8 814.95H495.2M494 813.75V816.15" stroke="#4a806a" stroke-width="0.55" fill="none"/><path d="M498.56 814.33H500.96M499.76 813.13V815.53" stroke="#4a806a" stroke-width="0.55" fill="none"/></g>
<g><circle cx="27.26" cy="900.67" r="1.12" fill="#1f3c96"/><circle cx="33.02" cy="900.02" r="1.12" fill="#1f3c96"/><circle cx="38.79" cy="899.36" r="1.12" fill="#1f3c96"/><circle cx="44.55" cy="898.68" r="1.12" fill="#1f3c96"/><circle cx="50.31" cy="897.99" r="1.12" fill="#1f3c96"/><circle cx="56.07" cy="897.29" r="1.12" fill="#1f3c96"/><circle cx="61.84" cy="896.58" r="1.12" fill="#1f3c96"/><circle cx="67.6" cy="895.85" r="1.12" fill="#1f3c96"/><circle cx="73.36" cy="895.11" r="1.12" fill="#1f3c96"/><circle cx="79.12" cy="894.36" r="1.12" fill="#1f3c96"/><circle cx="84.88" cy="893.61" r="1.12" fill="#1f3c96"/><circle cx="90.65" cy="892.84" r="1.12" fill="#1f3c96"/><circle cx="96.41" cy="892.06" r="1.12" fill="#1f3c96"/><circle cx="102.17" cy="891.27" r="1.12" fill="#1f3c96"/><circle cx="107.93" cy="890.46" r="1.12" fill="#1f3c96"/><circle cx="113.7" cy="889.64" r="1.12" fill="#1f3c96"/><circle cx="119.46" cy="888.79" r="1.12" fill="#1f3c96"/><circle cx="125.22" cy="887.92" r="1.12" fill="#1f3c96"/><circle cx="130.98" cy="887.02" r="1.12" fill="#1f3c96"/><circle cx="136.74" cy="886.09" r="1.12" fill="#1f3c96"/><circle cx="142.51" cy="885.13" r="1.12" fill="#1f3c96"/><circle cx="148.27" cy="884.11" r="1.12" fill="#1f3c96"/><circle cx="154.03" cy="883.06" r="1.12" fill="#1f3c96"/><circle cx="159.79" cy="881.97" r="1.12" fill="#1f3c96"/><circle cx="165.56" cy="880.86" r="1.12" fill="#1f3c96"/><circle cx="171.32" cy="879.73" r="1.12" fill="#1f3c96"/><circle cx="177.08" cy="878.59" r="1.12" fill="#1f3c96"/><circle cx="182.84" cy="877.44" r="1.12" fill="#1f3c96"/><circle cx="188.6" cy="876.29" r="1.12" fill="#1f3c96"/><circle cx="194.37" cy="875.16" r="1.12" fill="#1f3c96"/><circle cx="200.13" cy="874.04" r="1.12" fill="#1f3c96"/><circle cx="205.89" cy="872.93" r="1.12" fill="#1f3c96"/><circle cx="211.65" cy="871.83" r="1.12" fill="#1f3c96"/><circle cx="217.42" cy="870.73" r="1.12" fill="#1f3c96"/><circle cx="223.18" cy="869.62" r="1.12" fill="#1f3c96"/><circle cx="228.94" cy="868.47" r="1.12" fill="#1f3c96"/><circle cx="234.7" cy="867.29" r="1.12" fill="#1f3c96"/><circle cx="240.46" cy="866.06" r="1.12" fill="#1f3c96"/><circle cx="246.23" cy="864.77" r="1.12" fill="#1f3c96"/><circle cx="251.99" cy="863.42" r="1.12" fill="#1f3c96"/><circle cx="257.75" cy="861.97" r="1.12" fill="#1f3c96"/><circle cx="263.51" cy="860.41" r="1.12" fill="#1f3c96"/><circle cx="269.28" cy="858.77" r="1.12" fill="#1f3c96"/><circle cx="275.04" cy="857.06" r="1.12" fill="#1f3c96"/><circle cx="280.8" cy="855.3" r="1.12" fill="#1f3c96"/><circle cx="286.56" cy="853.5" r="1.12" fill="#1f3c96"/><circle cx="292.32" cy="851.68" r="1.12" fill="#1f3c96"/><circle cx="298.09" cy="849.83" r="1.12" fill="#1f3c96"/><circle cx="303.85" cy="847.88" r="1.12" fill="#1f3c96"/><circle cx="309.61" cy="845.81" r="1.12" fill="#1f3c96"/><circle cx="315.37" cy="843.54" r="1.12" fill="#1f3c96"/><circle cx="321.14" cy="841.1" r="1.12" fill="#1f3c96"/><circle cx="326.9" cy="838.61" r="1.12" fill="#1f3c96"/><circle cx="332.66" cy="836.11" r="1.12" fill="#1f3c96"/><circle cx="338.42" cy="833.56" r="1.12" fill="#1f3c96"/><circle cx="344.18" cy="830.94" r="1.12" fill="#1f3c96"/><circle cx="349.95" cy="828.2" r="1.12" fill="#1f3c96"/><circle cx="355.71" cy="825.3" r="1.12" fill="#1f3c96"/><circle cx="361.47" cy="822.25" r="1.12" fill="#1f3c96"/><circle cx="367.23" cy="819.13" r="1.12" fill="#1f3c96"/><circle cx="373" cy="815.99" r="1.12" fill="#1f3c96"/><circle cx="378.76" cy="812.79" r="1.12" fill="#1f3c96"/><circle cx="384.52" cy="809.55" r="1.12" fill="#1f3c96"/><circle cx="390.28" cy="806.24" r="1.12" fill="#1f3c96"/><circle cx="396.04" cy="802.86" r="1.12" fill="#1f3c96"/><circle cx="401.81" cy="799.36" r="1.12" fill="#1f3c96"/><circle cx="407.57" cy="795.73" r="1.12" fill="#1f3c96"/><circle cx="413.33" cy="792.04" r="1.12" fill="#1f3c96"/><circle cx="419.09" cy="788.36" r="1.12" fill="#1f3c96"/><circle cx="424.86" cy="784.74" r="1.12" fill="#1f3c96"/><circle cx="430.62" cy="781.25" r="1.12" fill="#1f3c96"/><circle cx="436.38" cy="777.86" r="1.12" fill="#1f3c96"/><circle cx="442.14" cy="774.51" r="1.12" fill="#1f3c96"/><circle cx="447.9" cy="771.18" r="1.12" fill="#1f3c96"/><circle cx="453.67" cy="767.89" r="1.12" fill="#1f3c96"/><circle cx="459.43" cy="764.64" r="1.12" fill="#1f3c96"/><circle cx="465.19" cy="761.42" r="1.12" fill="#1f3c96"/><circle cx="470.95" cy="758.25" r="1.12" fill="#1f3c96"/><circle cx="476.72" cy="755.12" r="1.12" fill="#1f3c96"/><circle cx="482.48" cy="752.04" r="1.12" fill="#1f3c96"/><circle cx="488.24" cy="749.01" r="1.12" fill="#1f3c96"/><circle cx="494" cy="746.03" r="1.12" fill="#1f3c96"/><circle cx="499.76" cy="743.1" r="1.12" fill="#1f3c96"/></g>
<line x1="430.62" y1="661.2" x2="430.62" y2="901.3" stroke="#0000ff" stroke-opacity="0.46" stroke-width="1.05"/>
<rect x="21.5" y="661.2" width="518.6" height="240.1" fill="none" stroke="#666666" stroke-width="0.55"/>
<text x="21.5" y="908" font-size="4.2" text-anchor="middle">0</text>
<text x="79.12" y="908" font-size="4.2" text-anchor="middle">10</text>
<text x="136.74" y="908" font-size="4.2" text-anchor="middle">20</text>
<text x="194.37" y="908" font-size="4.2" text-anchor="middle">30</text>
<text x="251.99" y="908" font-size="4.2" text-anchor="middle">40</text>
<text x="309.61" y="908" font-size="4.2" text-anchor="middle">50</text>
<text x="367.23" y="908" font-size="4.2" text-anchor="middle">60</text>
<text x="424.86" y="908" font-size="4.2" text-anchor="middle">70</text>
<text x="482.48" y="908" font-size="4.2" text-anchor="middle">80</text>
<text x="540.1" y="908" font-size="4.2" text-anchor="middle">90</text>
<text x="19.8" y="903.31" font-size="4.2" text-anchor="end">0</text>
<text x="19.8" y="876.63" font-size="4.2" text-anchor="end">10</text>
<text x="19.8" y="849.96" font-size="4.2" text-anchor="end">20</text>
<text x="19.8" y="823.28" font-size="4.2" text-anchor="end">30</text>
<text x="19.8" y="796.6" font-size="4.2" text-anchor="end">40</text>
<text x="19.8" y="769.92" font-size="4.2" text-anchor="end">50</text>
<text x="19.8" y="743.25" font-size="4.2" text-anchor="end">60</text>
<text x="19.8" y="716.57" font-size="4.2" text-anchor="end">70</text>
<text x="19.8" y="689.89" font-size="4.2" text-anchor="end">80</text>
<text x="19.8" y="663.21" font-size="4.2" text-anchor="end">90</text>
<path d="M79.12 901.3v-4.6M79.12 661.2v4.6M136.74 901.3v-4.6M136.74 661.2v4.6M194.37 901.3v-4.6M194.37 661.2v4.6M251.99 901.3v-4.6M251.99 661.2v4.6M309.61 901.3v-4.6M309.61 661.2v4.6M367.23 901.3v-4.6M367.23 661.2v4.6M424.86 901.3v-4.6M424.86 661.2v4.6M482.48 901.3v-4.6M482.48 661.2v4.6M21.5 874.62h4.6M540.1 874.62h-4.6M21.5 847.94h4.6M540.1 847.94h-4.6M21.5 821.27h4.6M540.1 821.27h-4.6M21.5 794.59h4.6M540.1 794.59h-4.6M21.5 767.91h4.6M540.1 767.91h-4.6M21.5 741.23h4.6M540.1 741.23h-4.6M21.5 714.56h4.6M540.1 714.56h-4.6M21.5 687.88h4.6M540.1 687.88h-4.6" stroke="#666666" stroke-width="0.55" fill="none"/>
<text x="280.8" y="658.5" font-size="5.15" text-anchor="middle">85% of DS1-3(LSE)</text>
<text x="280.8" y="914.8" font-size="5.15" text-anchor="middle">TIME(WEEK)</text>
<text transform="translate(11.9 781.25) rotate(-90)" font-size="5.0" text-anchor="middle">CUMULATIVE NUMBER OF DETECTED FAULTS</text>
<rect x="24.6" y="663.6" width="67.4" height="169.4" fill="#fff" stroke="#666666" stroke-width="0.55"/>
<circle cx="32" cy="673.8" r="0.68" fill="#2626ff"/>
<text x="38.4" y="675.3" font-size="4.18">Actual</text>
<line x1="27" y1="690.4" x2="37" y2="690.4" stroke="#22ee22" stroke-width="0.8"/>
<text x="38.4" y="691.9" font-size="4.18">G-O model</text>
<line x1="27" y1="707" x2="37" y2="707" stroke="#2ae6ee" stroke-width="0.95" stroke-dasharray="2.6 0.5 0.6 0.5"/>
<text x="38.4" y="708.5" font-size="4.18">DSS model</text>
<line x1="27" y1="723.6" x2="37" y2="723.6" stroke="#ff5555" stroke-width="0.7" stroke-dasharray="3.9 1.7"/>
<text x="38.4" y="725.1" font-size="4.18">ISS model</text>
<line x1="27" y1="740.2" x2="37" y2="740.2" stroke="#f7c6f3" stroke-width="0.7" stroke-dasharray="0.6 0.5"/>
<text x="38.4" y="741.7" font-size="4.18">Yamada Imperfect-2  model</text>
<polygon points="32,755.2 30.48,758 33.52,758" fill="none" stroke="#ff30b0" stroke-width="0.5" stroke-linejoin="miter"/>
<text x="38.4" y="758.3" font-size="4.18">P-N-Z model</text>
<polygon points="30.4,773.4 33.2,771.88 33.2,774.92" fill="none" stroke="#ff8a3c" stroke-width="0.5" stroke-linejoin="miter"/>
<text x="38.4" y="774.9" font-size="4.18">GGO model</text>
<polygon points="33.6,790 30.8,788.48 30.8,791.52" fill="none" stroke="#3333ff" stroke-width="0.5" stroke-linejoin="miter"/>
<text x="38.4" y="791.5" font-size="4.18">Wang model</text>
<path d="M30.8 806.6H33.2M32 805.4V807.8" stroke="#4a806a" stroke-width="0.55" fill="none"/>
<text x="38.4" y="808.1" font-size="4.18">Li model</text>
<circle cx="32" cy="823.2" r="1.12" fill="#1f3c96"/>
<text x="38.4" y="824.7" font-size="4.18">Proposed model</text>
<text x="275.8" y="313.1" font-size="14.6" letter-spacing="0.6" text-anchor="middle" class="cap">(<tspan font-weight="bold">d</tspan>)</text>
<text x="275.8" y="644.3" font-size="14.6" letter-spacing="0.6" text-anchor="middle" class="cap">(<tspan font-weight="bold">e</tspan>)</text>
<text x="275.8" y="942.7" font-size="14.6" letter-spacing="0.6" text-anchor="middle" class="cap">(<tspan font-weight="bold">f</tspan>)</text>
</svg>
</body></html>
